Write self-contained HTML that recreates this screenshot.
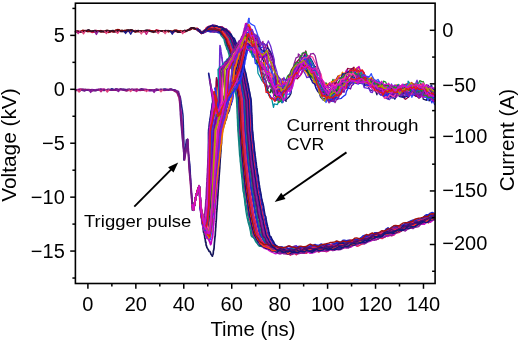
<!DOCTYPE html>
<html><head><meta charset="utf-8"><style>
html,body{margin:0;padding:0;background:#fff;}
svg{display:block;}
.t{font-family:"Liberation Sans",Arial,sans-serif;font-size:20px;fill:#000;}
.a{font-family:"Liberation Sans",Arial,sans-serif;font-size:16.2px;fill:#000;}
</style></head><body>
<svg width="520" height="341" viewBox="0 0 520 341">
<rect width="520" height="341" fill="#fff"/>
<g>
<g fill="none" stroke-linejoin="round" stroke-linecap="round">
<path d="M75.5 90.2L77 90 78.5 89.2 80 89.2 81.5 89.6 83 89.8 84.5 90.4 86 90.2 87.5 90 89 90.4 90.5 89.8 92 89.4 93.5 89.8 95 90 96.5 89.4 98 89.6 99.5 89.4 101 89.1 102.5 89.2 104 89.2 105.5 89.6 107 90 108.5 89.5 110 89.4 111.5 89.9 113 90.1 114.5 90 116 89.8 117.5 90.4 119 90 120.5 89.3 122 89.7 123.5 89.5 125 89.5 126.5 89.7 128 89.8 129.5 89.9 131 89.6 132.5 89.3 134 90.5 135.5 90.6 137 90.4 138.5 90.4 140 89.9 141.5 89.9 143 89.9 144.5 89.3 146 89.2 147.5 90.2 149 90.9 150.5 90.7 152 90.2 153.5 90.2 155 90.6 156.5 90.5 158 90.1 159.5 90.3 161 90 162.5 90 164 90.5 165.5 90.3 167 89.1 168 89.6 169.2 90.1 170.4 90.1 171.6 89.6 172.8 89.9 174 90.2 175.2 90 176.1 90.6 177 91.9 177.6 92.8 178.1 93.9 178.7 95.1 179.2 96.2 179.7 96.8 179.8 98 179.9 99.6 180.1 100.7 180.2 102.1 180.3 103.3 180.4 104.1 180.6 105.3 180.7 106.7 180.8 108 180.9 109.5 181.1 110.7 181.2 111.3 181.3 112.7 181.4 114.5 181.5 115.5 181.6 116.7 181.7 118 181.8 119 181.9 120.4 182 122 182.1 123 182.2 124 182.2 125.1 182.3 126.6 182.4 127.9 182.5 128.8 182.6 129.6 182.7 130.7 182.8 132.3 182.9 133.7 182.9 134.8 183 135.7 183.1 137 183.2 138.4 183.3 139.7 183.4 141 183.4 141.6 183.5 142.7 183.5 144.7 183.6 145.8 183.6 146.7 183.7 147.8 183.7 148.9 183.8 150.5 183.8 151.8 183.9 153 184 154.5 184 155.4 184.1 155.9 184.1 157.5 184.2 159 184.2 159.4 184.5 158.1 184.7 157.2 184.9 156.1 185.1 155 185.3 153.6 185.5 152.3 185.7 151.5 185.9 150.5 186.1 148.9 186.3 148.1 186.5 147.2 186.7 145.7 186.9 144.5 187.1 143.5 187.3 142.6 187.6 141 187.8 139.5 187.9 140.2 188 141.5 188 142.4 188.1 143.3 188.2 144.2 188.2 145.9 188.3 147.6 188.4 148.3 188.5 149.1 188.5 150.4 188.6 151.6 188.7 152.9 188.7 154.1 188.8 155 188.9 156.5 189 157.8 189 159.2 189.1 160.6 189.2 161.7 189.2 163.2 189.3 163.9 189.4 164.5 189.5 166.2 189.6 167.8 189.7 168.6 189.8 169.8 189.9 171 190 171.8 190.1 172.9 190.2 175 190.3 176.3 190.4 177.1 190.5 178.8 190.6 180.2 190.7 181.1 190.8 182.1 190.9 183.7 191 184.9 191.1 185.7 191.2 186.6 191.3 187.8 191.4 189.1 191.4 190.4 191.5 191.8 191.6 192.8 191.7 193.9 191.8 195.5 191.9 196.9 192 198.5 192.1 199.2 192.2 199.9 192.3 201.6 192.4 203.2 192.5 204.4 192.6 205.3 192.6 206.1 192.6 207.4 192.7 209 192.7 210" stroke="#c020c0" stroke-width="1.5"/>
<path d="M75.5 89.5L77 90 78.5 91 80 90.9 81.5 89.7 83 89.2 84.5 89.6 86 89.6 87.5 90 89 89.8 90.5 90 92 90.7 93.5 90.3 95 90.7 96.5 90.4 98 89.6 99.5 89.4 101 89.3 102.5 90.2 104 90.5 105.5 90.2 107 89.6 108.5 89.9 110 89.9 111.5 88.8 113 89.1 114.5 89.9 116 90.3 117.5 90.4 119 89.7 120.5 89.1 122 89.2 123.5 89.3 125 89.5 126.5 89.8 128 89.9 129.5 90 131 89.6 132.5 89.5 134 89.7 135.5 90 137 90 138.5 89.8 140 90 141.5 90.1 143 90.1 144.5 89.9 146 90.1 147.5 90.1 149 89.8 150.5 90.1 152 90.4 153.5 90.4 155 90 156.5 89.7 158 90.1 159.5 90.1 161 90 162.5 89.6 164 89 165.5 89.1 167 89.6 168.2 90.2 169.4 89.5 170.6 88.9 171.8 89.3 173.1 89.7 174.3 89.8 175.2 91 176.1 91.9 177 92.6 177.7 92.9 178.4 93.9 179.1 95.5 179.8 96.6 180.4 97.7 180.5 98.7 180.7 99.6 180.9 100.5 181.1 101.9 181.3 103.9 181.5 104.8 181.6 105.6 181.8 107.1 182 108 182.2 109.3 182.4 110.3 182.5 111.5 182.7 113 182.9 114.2 183 115.4 183.1 116.5 183.1 117.8 183.2 119.5 183.2 120.6 183.2 121.3 183.3 122.4 183.3 123.8 183.4 125.4 183.4 126.4 183.4 127.4 183.5 128.6 183.5 130.1 183.6 131.2 183.6 132.1 183.6 133.4 183.7 134.6 183.7 136.1 183.8 137.2 183.8 138.4 183.8 139.5 183.9 140.6 183.9 142 183.9 143.1 183.9 144.8 183.8 146 183.8 146.8 183.8 148 183.8 149.5 183.8 151 183.8 152.2 183.8 153.1 183.8 153.7 183.8 155.2 183.8 156.6 183.8 157.6 183.8 159.3 183.9 160.1 184 158.2 184.2 157.3 184.3 156.2 184.5 154.7 184.6 153.6 184.8 152 184.9 151 185.1 150 185.2 148.9 185.4 147.8 185.5 147 185.7 145.8 185.8 144 186 143.1 186.1 142 186.3 140.6 186.4 139.8 186.6 140.1 186.8 140.8 186.9 142.1 187.1 143.6 187.2 144.6 187.4 145.6 187.5 146.8 187.7 147.8 187.9 149.5 188 150.9 188.2 152.1 188.3 153.1 188.5 154.2 188.6 156 188.8 157 189 157.7 189.1 159 189.3 159.8 189.4 160.9 189.6 162.5 189.8 164 189.9 165.6 190 166.4 190 167.6 190.1 169.3 190.2 170 190.2 171.3 190.3 172.4 190.3 173.7 190.4 174.7 190.5 175.6 190.5 177.5 190.6 178.4 190.7 179.2 190.7 181.1 190.8 182.4 190.9 183.3 190.9 184.8 191 185.8 191 186.2 191.1 188 191.2 189.7 191.2 190.6 191.3 192.3 191.4 193.3 191.4 194.3 191.5 195.6 191.6 196.7 191.6 197.6 191.7 198.5 191.8 200.1 191.8 202 191.9 203.6 191.9 204 192 204.7 192.1 206.3 192.2 207.7 192.2 208.7 192.3 210.1" stroke="#20208a" stroke-width="1.5"/>
<path d="M75.5 90.7L77 90.3 78.5 90 80 89.3 81.5 89.1 83 89.5 84.5 89.4 86 89.4 87.5 89.5 89 89.4 90.5 89.9 92 90.7 93.5 90.4 95 90.5 96.5 90.4 98 89.6 99.5 89.5 101 89.4 102.5 89.5 104 89.3 105.5 89.8 107 90.2 108.5 89.7 110 89.9 111.5 89.9 113 90.2 114.5 90 116 89.8 117.5 90.4 119 89.5 120.5 89.1 122 89.7 123.5 89.6 125 90.5 126.5 91.1 128 90.5 129.5 90 131 89.6 132.5 89.4 134 89.6 135.5 89.5 137 89 138.5 89.8 140 90.6 141.5 90.2 143 89.9 144.5 90.5 146 90.1 147.5 89.6 149 90.1 150.5 90 152 90 153.5 90.4 155 89.8 156.5 89.2 158 89.7 159.5 89.8 161 89.5 162.5 89.6 164 90 165.5 90.4 167 89.9 168.2 89.4 169.4 89.3 170.6 89.2 171.8 89.7 173 90.3 174 90.8 175.1 91.5 176.2 91.7 176.8 92.7 177.4 93.7 177.9 95.2 178.4 96.6 178.9 97.3 179 98.4 179.2 99.6 179.3 100.5 179.5 101.4 179.6 102.7 179.8 104.3 179.9 105.7 180.1 106.8 180.2 108.1 180.4 109.4 180.5 110.5 180.7 111.9 180.8 113.3 181 114.4 181.1 115.2 181.2 116.4 181.3 118.1 181.4 118.8 181.5 120 181.6 121.5 181.7 122.3 181.7 123.7 181.8 125.4 181.9 126.4 182 127.7 182.1 128.8 182.2 129.8 182.3 131.5 182.4 132.7 182.4 133.8 182.5 134.3 182.6 135 182.7 136.6 182.8 138.2 182.9 139.4 183 140.6 183.1 142.1 183.2 143.2 183.3 144 183.4 145.7 183.5 147.4 183.6 148.1 183.7 149 183.8 150.4 183.9 151.6 184 152.8 184.1 154.1 184.2 155.5 184.3 156.4 184.4 157.5 184.5 159 184.6 160.1 184.8 158.7 185 157 185.2 155.8 185.4 155.1 185.5 154 185.7 152.8 185.9 151.4 186.1 150 186.3 149.3 186.5 148 186.6 146.6 186.8 145.4 187 143.7 187.2 142.8 187.4 142 187.5 140.4 187.7 139.5 187.8 139.6 187.9 140.4 187.9 142.4 188 143.6 188 144.6 188.1 146.2 188.1 147.4 188.1 148.2 188.2 150 188.2 151.6 188.3 152.1 188.3 153 188.4 154.2 188.4 155.3 188.5 156.5 188.5 158.4 188.5 160 188.6 160.9 188.6 161.6 188.7 162.9 188.7 164.2 188.8 164.9 188.9 166 189 167.3 189.1 168.8 189.2 170.1 189.3 171.1 189.4 172.6 189.5 173.6 189.6 174.7 189.7 176.2 189.8 176.9 189.9 178 190 179.7 190.1 180.5 190.2 181.8 190.3 183.6 190.4 184.5 190.5 185.3 190.6 186.7 190.7 188.5 190.8 190 190.9 191 191 191.9 191.1 193.4 191.2 194.5 191.3 195.2 191.4 196.7 191.5 198.1 191.6 199.1 191.7 200.3 191.8 201.6 191.9 202.6 192 203.7 192.1 205.3 192.2 206.4 192.4 207.4 192.5 208.8 192.6 210.1" stroke="#9a1070" stroke-width="1.5"/>
<path d="M75.5 89.6L77 89.9 78.5 90 80 89.9 81.5 90.3 83 90.5 84.5 91.1 86 90 87.5 89.9 89 90.6 90.5 90.1 92 89.7 93.5 89.8 95 90.3 96.5 89.9 98 89.8 99.5 90 101 89.8 102.5 89.9 104 90 105.5 89.7 107 89.6 108.5 89.3 110 89.7 111.5 90.3 113 89.7 114.5 89.4 116 88.7 117.5 88.9 119 89.8 120.5 89.5 122 89.5 123.5 90.2 125 90.1 126.5 89.6 128 89.3 129.5 89.1 131 90.1 132.5 90.1 134 89.4 135.5 89.4 137 89.9 138.5 89.8 140 89.3 141.5 88.7 143 89 144.5 89.6 146 89.7 147.5 90 149 90.1 150.5 90.5 152 90.5 153.5 90.3 155 90 156.5 89.2 158 89.4 159.5 89.4 161 89.2 162.5 89.6 164 89.9 165.5 89.6 167 89.9 168.2 89.7 169.4 89.7 170.6 89.7 171.8 89.5 173 89.9 174.2 90.1 175.4 90.1 176.4 90.6 177.5 91 178.6 91.7 178.9 93.3 179.3 94.5 179.7 95.5 180 96.7 180.2 98.1 180.2 99.2 180.2 100.3 180.2 101.4 180.2 102.4 180.2 103.6 180.2 105.2 180.2 106.6 180.2 107.6 180.2 108.6 180.2 109.4 180.2 110.5 180.3 112.2 180.3 113.5 180.3 114.2 180.4 115.3 180.5 116.5 180.6 117.7 180.7 119.3 180.8 120.8 180.9 121.9 181 123.6 181.1 125.1 181.2 126 181.3 126.7 181.4 127.6 181.5 128.8 181.6 130.1 181.7 131.2 181.8 132.7 181.9 133.8 182 135.1 182.1 136.7 182.2 138 182.3 139 182.5 140.2 182.6 141.4 182.7 141.8 182.8 143 182.9 145 183 146.3 183.2 147.6 183.3 148.7 183.4 149.9 183.5 151.3 183.6 152.1 183.8 152.8 183.9 154.2 184 155.9 184.1 156.6 184.2 157.9 184.3 159.3 184.5 159.1 184.7 157.5 184.9 156.7 185 156.2 185.2 155.1 185.4 153.3 185.6 152.2 185.8 151.6 186 149.9 186.2 148.2 186.3 147.7 186.5 146.7 186.7 145.1 186.9 143.9 187.1 142.8 187.3 141.6 187.5 140.5 187.6 138.9 187.7 139.5 187.8 140.9 187.8 142.7 187.9 143.8 188 144.9 188 146.3 188.1 147.5 188.2 148.4 188.2 149.5 188.3 150.8 188.4 152.4 188.4 153.5 188.5 154.5 188.6 155.9 188.6 156.7 188.7 157.9 188.8 159.5 188.8 160.8 188.9 161.7 188.9 162.6 189 163.9 189.1 165 189.2 166.5 189.3 168 189.4 169.4 189.5 170.4 189.6 171.6 189.7 173.1 189.8 173.9 190 174.9 190.1 176.4 190.2 177.5 190.3 178.6 190.4 180.1 190.5 181 190.6 182 190.7 183.2 190.8 184.6 190.9 186.2 191 187.7 191.1 188.3 191.2 188.9 191.4 190.7 191.5 192.4 191.6 193.3 191.7 194.1 191.8 195.1 191.9 196.5 192 197.8 192.1 199.1 192.2 200.4 192.3 201.4 192.4 203.1 192.5 204.6 192.7 205.2 193 206.4 193.3 207.8 193.6 208.5 193.9 209.7" stroke="#6a1a8a" stroke-width="1.5"/>
<path d="M75.5 31.4L77 31.6 78.5 31.5 80 32.1 81.5 31.7 83 31.2 84.5 31.2 86 30.4 87.5 30.7 89 31.1 90.5 31.3 92 32.4 93.5 32.2 95 30.6 96.5 30.4 98 31.1 99.5 30.8 101 30.5 102.5 31.5 104 31.8 105.5 31.4 107 31.1 108.5 30.9 110 31.5 111.5 31.4 113 31.7 114.5 31.9 116 31.4 117.5 31.7 119 30.8 120.5 31 122 31.5 123.5 30.9 125 30.8 126.5 30.9 128 31.6 129.5 30.9 131 31.1 132.5 31.6 134 31 135.5 30.5 137 31 138.5 31.4 140 30.7 141.5 30.9 143 31.5 144.5 31.7 146 31.7 147.5 30.9 149 30.1 150.5 30.4 152 31.5 153.5 31.6 155 30.8 156.5 30 158 30.3 159.5 30.8 161 30.7 162.5 31.6 164 31.3 165.5 30.6 167 31.3 168.5 31.4 170 30.9 171.5 31.6 173 32.6 174.5 31.9 176 31.1 177.5 30.4 179 30.9 180.5 32.1 182 31.9 183.5 32 185 32.1 186 31 187.2 30.4 188.3 29.9 189.5 29 190.7 28 191.9 27.7 193.2 28.2 194.5 28.6 195.9 29.4 197.2 29.4" stroke="#e02060" stroke-width="1.5"/>
<path d="M75.5 31.9L77 31.5 78.5 31.7 80 31.9 81.5 31.2 83 31.5 84.5 30.6 86 30.7 87.5 31.4 89 31.3 90.5 31.3 92 30.9 93.5 31.3 95 31.4 96.5 31.4 98 30.9 99.5 30.9 101 30.8 102.5 31.1 104 31.8 105.5 30.8 107 30.3 108.5 30.6 110 30.7 111.5 31.4 113 31.9 114.5 31.8 116 31.6 117.5 31.3 119 31.4 120.5 30.8 122 30.3 123.5 30.7 125 30.6 126.5 30.1 128 30 129.5 30.2 131 29.8 132.5 30 134 31.4 135.5 31.8 137 31.3 138.5 31.4 140 31.3 141.5 30.9 143 31.1 144.5 31.3 146 30.8 147.5 30.6 149 31.1 150.5 31.2 152 31.5 153.5 32.4 155 31.7 156.5 31 158 31.1 159.5 31.3 161 31.2 162.5 30.9 164 31.8 165.5 31.3 167 30.8 168.5 30.8 170 30.8 171.5 31.6 173 31 174.5 30.3 176 31.3 177.5 32.2 179 32.1 180.5 32.2 182 31.6 183.5 31.1 185 31.1 186.4 30.9 187.6 30.1 188.9 29.8 190.1 29.9 191.4 29.1 192.6 27.8 193.9 27.8 195.3 28.4 196.6 28.7 197.9 28.8" stroke="#5a1010" stroke-width="1.5"/>
<path d="M75.5 31.6L77 31.2 78.5 31.1 80 31.5 81.5 31 83 30.2 84.5 30.9 86 31.3 87.5 31.5 89 31.5 90.5 31.4 92 31.4 93.5 31.2 95 31.9 96.5 32 98 31.3 99.5 31.2 101 32 102.5 31.7 104 31.2 105.5 31.7 107 31.7 108.5 32.4 110 32.1 111.5 31.1 113 31.3 114.5 30.9 116 30 117.5 29.6 119 29.7 120.5 30.9 122 31.1 123.5 30.7 125 30.4 126.5 30.5 128 31.3 129.5 30.7 131 30.8 132.5 30.8 134 31.1 135.5 32.1 137 31.4 138.5 31.6 140 31.7 141.5 31.2 143 31.4 144.5 31.3 146 30.6 147.5 30.5 149 31.1 150.5 30.7 152 30.7 153.5 31.4 155 31 156.5 30.2 158 30.9 159.5 31.3 161 30.7 162.5 30.7 164 31.1 165.5 31.1 167 31.1 168.5 31.9 170 31.4 171.5 31.1 173 31.6 174.5 30.5 176 30 177.5 30.9 179 31.1 180.5 30.6 182 31.2 183.5 31.8 185 31.5 186.3 30.6 187.6 30.5 188.9 29.9 190.2 29.4 191.5 28.6 192.8 28.2 194.2 29.1 195.5 29.2 196.9 29" stroke="#8b0000" stroke-width="1.5"/>
<path d="M75.5 32.1L77 31.1 78.5 31.7 80 31.9 81.5 31.8 83 31.7 84.5 31.2 86 31.3 87.5 30.1 89 29.8 90.5 31.1 92 31.2 93.5 30.7 95 30.5 96.5 31.1 98 31.5 99.5 31.4 101 31.4 102.5 31.4 104 31.2 105.5 31.5 107 31 108.5 30.8 110 31.6 111.5 30.8 113 30.4 114.5 31.6 116 31.5 117.5 30.4 119 30.8 120.5 31.5 122 31.4 123.5 31.4 125 31.8 126.5 31.3 128 30.1 129.5 30.2 131 30.1 132.5 30.5 134 31.4 135.5 31.2 137 30.7 138.5 30.5 140 30.9 141.5 31.4 143 31.4 144.5 30.7 146 30.2 147.5 30.2 149 30.4 150.5 31.5 152 31.7 153.5 31.1 155 31.6 156.5 31.8 158 31.2 159.5 30.7 161 31 162.5 31.3 164 30.9 165.5 30.4 167 30.7 168.5 30.6 170 31.2 171.5 32 173 31.8 174.5 31 176 30.7 177.5 31.5 179 32.2 180.5 31.7 182 31.4 183.5 31 185 30.2 186.2 31.4 187.5 30.7 188.7 29.6 190 28.7 191.2 27.8 192.5 27.7 193.9 28.5 195.2 28.5 196.6 28.8" stroke="#30102a" stroke-width="1.5"/>
<path d="M76.6 31.4L78.2 33.6 79.8 31.4" stroke="#c02080" stroke-width="1.4"/>
<path d="M81.9 31.4L83.5 33.8 85.1 31.4" stroke="#e0407a" stroke-width="1.4"/>
<path d="M94.8 31.4L96.4 34.5 98.0 31.4" stroke="#8a1a9a" stroke-width="1.4"/>
<path d="M104.8 31.4L106.4 33.5 108.0 31.4" stroke="#e0407a" stroke-width="1.4"/>
<path d="M116.0 31.4L117.6 33.3 119.2 31.4" stroke="#e0407a" stroke-width="1.4"/>
<path d="M124.0 31.4L125.6 33.4 127.2 31.4" stroke="#1a1a8c" stroke-width="1.4"/>
<path d="M129.1 31.4L130.7 34.2 132.3 31.4" stroke="#1a1a8c" stroke-width="1.4"/>
<path d="M139.7 31.4L141.3 34.0 142.9 31.4" stroke="#e05080" stroke-width="1.4"/>
<path d="M144.8 31.4L146.4 34.3 148.0 31.4" stroke="#c02080" stroke-width="1.4"/>
<path d="M156.5 31.4L158.1 33.4 159.7 31.4" stroke="#e0407a" stroke-width="1.4"/>
<path d="M163.5 31.4L165.1 33.7 166.7 31.4" stroke="#e05080" stroke-width="1.4"/>
<path d="M170.7 31.4L172.3 34.2 173.9 31.4" stroke="#1a1a8c" stroke-width="1.4"/>
<path d="M181.1 31.4L182.7 33.7 184.3 31.4" stroke="#e0407a" stroke-width="1.4"/>
<path d="M77.5 90.0L79.1 92.0 80.7 90.0" stroke="#e0407a" stroke-width="1.4"/>
<path d="M89.1 90.0L90.7 92.4 92.3 90.0" stroke="#8a1a9a" stroke-width="1.4"/>
<path d="M99.4 90.0L101.0 91.7 102.6 90.0" stroke="#c02080" stroke-width="1.4"/>
<path d="M105.7 90.0L107.3 92.0 108.9 90.0" stroke="#e0407a" stroke-width="1.4"/>
<path d="M116.8 90.0L118.4 91.6 120.0 90.0" stroke="#8a1a9a" stroke-width="1.4"/>
<path d="M129.0 90.0L130.6 91.5 132.2 90.0" stroke="#e05080" stroke-width="1.4"/>
<path d="M134.9 90.0L136.5 91.4 138.1 90.0" stroke="#c02080" stroke-width="1.4"/>
<path d="M144.9 90.0L146.5 91.5 148.1 90.0" stroke="#e0407a" stroke-width="1.4"/>
<path d="M152.5 90.0L154.1 92.4 155.7 90.0" stroke="#8a1a9a" stroke-width="1.4"/>
<path d="M159.4 90.0L161.0 91.8 162.6 90.0" stroke="#e05080" stroke-width="1.4"/>
<path d="M197 28.6L198.1 29.5 199.2 30.2 200.3 31.5 201.4 33.6 202.6 33.2 203.9 32.5 205.1 32.1 206.4 31.3 207.8 31.4 209.2 31.3 210.6 31.1 212 31.1 213.4 31.2 214.8 31.1 216.2 31.3 217.6 31.4 218.9 31.8 220.2 32.8 221 33.9 221.9 34.1 222.7 35.5 223.5 37.1 224.3 37.5 225 39.5 225.5 40.9 225.9 41.9 226.4 44.5 226.9 45.6 227.4 46.4 227.8 47.3 228.3 48.5 228.8 49.5 229.3 52.1 229.7 54.5 230.2 54.7 230.6 56 230.9 57.3 231.1 57.9 231.4 59.3 231.6 61 231.9 62.7 232.1 64.1 232.4 64.5 232.7 66.5 232.9 68.5 233.2 69.4 233.4 70.9 233.7 71.8 233.9 73.3 234.2 75.3 234.5 76.1 234.7 76.8 235 79.1 235.2 81.1 235.4 81.7 235.6 82.8 235.9 84.6 236.1 86 236.3 87.5 236.5 88.9 236.7 90.4 236.9 91.1 237.2 91.9 237.4 94.8 237.6 96.1 237.8 97.3 238 98.8 238.2 100.3 238.3 102.3 238.3 103.1 238.4 104.4 238.5 106.1 238.5 107.6 238.6 109.5 238.7 109.7 238.7 111 238.8 113.4 238.8 114.6 238.9 115.7 239 117.4 239 118.4 239.1 119.8 239.1 122.3 239.2 123.2 239.3 124.5 239.3 126.1 239.4 127.1 239.5 127.9 239.5 129.2 239.6 131.6 239.7 133.8 239.8 134.9 239.9 136 240.1 137.5 240.2 139.1 240.3 139.8 240.4 140.2 240.5 142.4 240.6 144.6 240.7 145.4 240.8 146.4 240.9 148.5 241 150.9 241.1 152.5 241.2 152.9 241.4 154 241.5 155.5 241.6 157.1 241.7 159 241.8 160 241.9 161.2 242.1 162.2 242.2 163.6 242.4 164.7 242.5 165.7 242.7 168.4 242.8 170.2 243 170.5 243.1 171.1 243.3 173.8 243.4 176 243.6 176.6 243.7 178.3 243.9 179.4 244 179.9 244.2 181.5 244.3 182.8 244.5 184.1 244.6 186.4 244.8 187.7 244.9 189 245.1 190.6 245.3 192 245.5 193 245.7 194.3 245.9 195.5 246.1 196.9 246.3 198.7 246.5 199.9 246.7 201.6 246.9 202.7 247.1 203.4 247.3 205.2 247.5 207.8 247.7 209.1 247.9 209.7 248.1 211.3 248.4 213.2 248.6 214.8 248.8 215.9 249.1 216.9 249.4 218 249.7 219.2 250.1 221.5 250.4 222.9 250.7 224.3 251 225.4 251.3 226.5 251.6 228.4 251.9 230 252.2 230.9 252.5 231.4 252.8 233.2 253.2 235 253.9 236.4 254.8 237.2 255.6 237.5 256.4 239.2 257.2 241 258 242.1 258.9 243 259.7 244.1 260.8 245.3 262.1 245.5 263.5 245.7 264.8 246.5 266.1 246.8 267.4 246.9 268.7 247.1 270.1 248.2 271.4 249.4 272.8 248.5 274.2 248.6 275.6 249.5 277 249.5 278.4 250.4 279.8 250.3 281.2 249.9 282.6 249.8 284.1 250 285.5 250.5 287.5 248.8 289.5 248.6 291.6 249.3 293.6 249 295.7 248.9 297.7 249.2 299.7 248.8 301.8 249.8 303.8 249 305.9 249.1 307.9 249.6 309.9 248.5 312 249.2 314 249.5 316 248.4 318.1 247.7 320.1 247.2 322.1 247.4 324.2 247.6 326.2 246.9 328.3 247 330.3 247.1 332.3 247 334.4 246.6 336.4 246.5 338.4 247 340.4 246.3 342.4 245.3 344.4 244.4 346.4 244 348.4 242.5 350.4 242.2 352.4 242 354.4 241.5 356.4 242.7 358.4 242.5 360.4 240.4 362.3 238.4 364.3 238.4 366.2 238.8 368.2 238 370.1 237.4 372.1 237.3 374 236.2 376 236.7 378 236.3 379.9 234.6 381.9 233.8 383.8 233.6 385.8 233.2 387.7 232.5 389.6 231.7 391.6 230.2 393.5 229.6 395.5 229.2 397.4 227.8 399.4 227 401.3 227 403.3 227.3 405.2 227.6 407.1 226.4 409.1 224.2 411 223.4 412.9 224.2 414.9 223.6 416.8 222.2 418.7 221.7 420.6 221.5 422.6 220.2 424.5 218 426.4 217.5 428.3 217 430.2 215.5 432.2 215.5 434.1 215.8" stroke="#e01818" stroke-width="1.4"/>
<path d="M197 29.6L198.1 29.8 199.2 30.3 200.3 31.3 201.4 32.5 202.5 33 203.6 32.8 204.8 31.6 205.9 29.8 207 29.3 208.4 29.4 209.8 29.1 211.2 28.9 212.6 28.9 214 29.1 215.4 29.4 216.8 29.2 218.2 29 219.6 29.7 221 29.5 222.4 29.4 223.8 30.2 225.1 30.4 226.4 29.9 227.8 30.4 228.7 32 229.5 33.8 230.4 34.6 231.3 35.4 232.1 37 233 38.1 233.7 39.4 234.2 40.2 234.8 41.3 235.3 43 235.9 44.3 236.5 45.2 237 46.7 237.6 47.4 238.1 49.1 238.7 51.2 239.3 52.1 239.8 53.3 240.4 54.3 240.8 56.2 241.1 57.9 241.3 58.3 241.6 59.5 241.9 61.5 242.2 62.6 242.5 64 242.8 65 243.1 66.6 243.4 69.3 243.7 70.8 244 71.4 244.3 72.6 244.6 73.3 244.9 73.7 245.2 76.5 245.5 79.1 245.8 80 246.1 81.6 246.4 82.4 246.6 83.2 246.9 85.2 247.2 87.4 247.4 88.4 247.7 88.9 248 90.4 248.2 92.5 248.5 93.5 248.8 94.5 249 96.4 249.3 96.9 249.6 97.8 249.8 100 249.9 101.3 250 102.5 250 104 250.1 105.2 250.1 106.8 250.2 108.6 250.3 110 250.3 111.1 250.4 112.8 250.4 114.6 250.5 115.3 250.6 116 250.6 118.1 250.7 120 250.8 122.2 250.8 123 250.9 124 250.9 126.1 251 127.4 251.1 128.6 251.1 129.8 251.2 131.7 251.4 132.6 251.5 133.6 251.7 136.4 251.8 137 252 137.6 252.1 139.7 252.3 140.7 252.4 141.7 252.5 143.2 252.7 144.9 252.8 146.8 253 148.2 253.1 148.7 253.3 149.6 253.4 151.8 253.6 154.2 253.7 155.8 253.8 157 254 158.3 254.1 159.6 254.3 160.8 254.5 162.1 254.7 163.2 254.9 165 255.1 166.3 255.3 167.1 255.5 168.8 255.7 169.7 255.9 170.8 256.1 173.1 256.3 175.4 256.5 176.3 256.7 176.9 256.9 178.8 257.1 181 257.3 181.5 257.5 183 257.7 184.6 257.9 185 258.1 186.9 258.3 187.6 258.5 188.7 258.8 191.2 259 192.7 259.3 193.8 259.6 195.1 259.8 197.1 260.1 198.9 260.4 200 260.6 201 260.9 201.8 261.2 202.9 261.5 204.8 261.7 206 262 207.8 262.3 209.3 262.5 209.8 262.8 211.1 263.1 213.3 263.3 215.4 263.6 216.9 263.9 218 264.2 218.9 264.5 219.8 264.9 221 265.2 222.4 265.5 224.1 265.8 226 266.1 227.2 266.4 228.3 266.7 229.8 267 231.8 267.3 233.1 267.6 233.8 268 234.5 268.7 235.9 269.4 238.2 270.1 239.2 270.8 239.5 271.5 240.4 272.2 242.1 273 244 274 244.6 275.2 244.8 276.4 246.3 277.6 247.3 278.8 247.5 280.2 248 281.6 248.4 283 248.4 284.4 248.3 285.8 248.6 287.2 249.3 288.6 250.5 290.6 251.3 292.5 250.6 294.5 249.3 296.5 249.8 298.5 249.8 300.5 248.6 302.6 247.3 304.6 247.8 306.6 248.4 308.6 248.4 310.7 248 312.7 247.1 314.7 247.2 316.7 246.7 318.8 247.1 320.8 246.6 322.8 246.9 324.8 247.9 326.9 246.2 328.9 245.3 330.9 246.5 332.9 245.8 335 245.8 337 245.5 338.9 244.2 340.9 243.8 342.9 243.2 344.9 242.7 346.9 242.7 348.9 242.9 350.9 242.2 352.9 241.2 354.9 240.7 356.9 241.4 358.8 240.9 360.8 239.7 362.8 238.6 364.7 237.4 366.6 238.3 368.6 238.4 370.5 236.6 372.5 235.9 374.4 235.1 376.3 234 378.3 233.4 380.2 233.6 382.2 233.9 384.1 231.8 386 229 388 227.8 389.9 229.2 391.8 230.6 393.8 230 395.7 228.4 397.6 227.2 399.6 227.3 401.5 226.9 403.4 226 405.4 226.1 407.3 225.7 409.2 224.8 411.2 224.2 413.1 222.6 415 221.6 416.9 220.9 418.8 219.8 420.7 219.1 422.6 218.2 424.5 217.8 426.4 217.2 428.4 216.4 430.3 216.5 432.2 215.4 434.1 214.4" stroke="#2020c0" stroke-width="1.4"/>
<path d="M197 29.2L198.1 29.9 199.2 30 200.3 31.5 201.4 32.5 202.5 32 203.6 32 204.8 31.9 205.9 30.5 207 29 208.4 29.2 209.8 29.5 211.2 28.8 212.6 28.9 214 29.6 215.4 29.7 216.8 29.9 218.2 30.2 219.6 30.6 220.9 30.4 222.1 31 223.4 31.8 224.3 31.5 225.1 32.7 225.9 34.6 226.7 35.7 227.6 37 228.4 37.8 228.9 38.9 229.4 40.2 229.9 41.7 230.4 43.3 230.9 44.6 231.4 46 231.9 47 232.4 48.5 232.9 50.4 233.4 51.5 233.9 52.7 234.4 55.1 234.9 56.3 235.2 56.9 235.5 58 235.7 59.7 236 61.4 236.3 62.6 236.6 63.6 236.8 64.9 237.1 66.3 237.4 67.4 237.7 68.9 237.9 70.4 238.2 71.9 238.5 72.8 238.8 74.2 239 76.2 239.3 77.1 239.6 78.7 239.9 80.2 240.1 81.1 240.3 82.6 240.6 84 240.8 85.6 241.1 87 241.3 87.9 241.5 90 241.8 91.8 242 92.7 242.2 94 242.5 95.1 242.7 96.4 243 97.7 243.2 99.2 243.4 100.4 243.4 101.7 243.5 103.8 243.5 104.9 243.6 105.5 243.7 107.3 243.7 109 243.8 110.5 243.8 112.3 243.9 113.9 244 114.9 244 115.4 244.1 117.2 244.1 119.3 244.2 120.6 244.3 122.5 244.3 124 244.4 125.2 244.5 126.1 244.5 127.5 244.6 129.4 244.6 130.8 244.8 131.3 244.9 133 245 134.4 245.1 135.2 245.3 136.7 245.4 138.6 245.5 140.1 245.6 141.2 245.8 143.3 245.9 145.2 246 145.6 246.1 146.5 246.3 148.1 246.4 149.7 246.5 150.9 246.6 152.1 246.8 153.8 246.9 156 247 157.5 247.1 158.8 247.3 160.7 247.4 161.9 247.6 163.1 247.8 164.6 247.9 166.1 248.1 167.1 248.3 167.3 248.4 168.2 248.6 170.8 248.8 171.9 249 173.1 249.1 175 249.3 175.8 249.5 177.7 249.6 179.9 249.8 181.4 250 182.5 250.2 183.2 250.3 184.4 250.5 186.6 250.7 187.9 250.8 189.2 251 190.3 251.3 191.3 251.5 193.5 251.7 195.1 252 195.4 252.2 196.5 252.4 197.9 252.7 199.8 252.9 201.6 253.1 202.2 253.4 204.2 253.6 206 253.8 206.3 254.1 207.7 254.3 210.1 254.5 212.2 254.8 212.5 255 213.4 255.3 215.9 255.6 217.6 255.9 218.5 256.2 219.6 256.5 221.2 256.8 223.1 257.1 223.9 257.4 224.8 257.7 226.6 258 227.9 258.3 229.4 258.7 231.2 259 232.3 259.3 233.2 259.6 234.8 260.3 236.4 261.1 237.3 261.9 237.3 262.8 238.8 263.6 241 264.4 241.8 265.2 242.8 266.2 244.3 267.5 245.2 268.9 244.5 270.2 244.1 271.6 245.5 272.9 246 274.2 246.5 275.6 246.7 277 246.3 278.4 246.8 279.8 247.1 281.2 246.8 282.6 247.2 284 248.3 285.4 247.8 286.8 247 288.8 245.9 290.9 247 292.9 247 294.9 246.9 297 246.8 299 247.1 301 247.1 303 247.1 305 247 307.1 246.6 309.1 247 311.1 246.9 313.1 245.4 315.1 244.4 317.2 245.3 319.2 245.1 321.2 243.9 323.2 245.3 325.2 245.6 327.2 245 329.3 244.8 331.3 244.5 333.3 244.4 335.3 243.2 337.3 242.5 339.3 242.5 341.3 241.8 343.2 240.1 345.2 240.3 347.2 241.7 349.2 241.9 351.2 240.6 353.2 239.6 355.1 239.4 357.1 239.3 359.1 238.9 361.1 237.7 363 235.8 364.9 235.2 366.9 235.9 368.8 235.5 370.7 235.4 372.7 234.8 374.6 232.9 376.5 233.3 378.5 234.1 380.4 232.3 382.4 232.5 384.3 232.2 386.2 230 388.1 229.3 390.1 228.7 392 226.9 393.9 227 395.8 227.4 397.8 226.6 399.7 225.6 401.6 225.3 403.6 224.5 405.5 223.6 407.4 223.3 409.3 221.6 411.2 220.6 413.2 220 415.1 219.9 417 220.5 418.9 219.8 420.8 219.1 422.7 218.4 424.6 215.8 426.5 214.7 428.4 215 430.3 213.1 432.2 212.5 434.1 213.1" stroke="#1a2ad8" stroke-width="1.4"/>
<path d="M197 28.9L198.1 30 199.2 31.5 200.3 31.7 201.4 32.8 202.5 33 203.4 31.7 204.4 30.6 205.4 29.8 206.4 28.9 207.5 28.5 208.8 28.1 210.1 27 211.4 26 212.7 25.5 214.1 25.5 215.5 26.2 216.8 26.5 217.9 27.4 218.8 28.7 219.7 30.2 220.4 31.3 221.2 31.6 221.9 32.9 222.6 34.5 223.4 36.1 224.1 37.3 224.6 38.2 225 39.5 225.4 41 225.8 42.6 226.3 44 226.7 44.9 227.1 46.8 227.5 47.9 228 48.5 228.4 50.2 228.8 51.7 229.3 53.1 229.7 54.8 230 56.4 230.2 57.6 230.5 59.2 230.7 60.3 231 61.7 231.2 63 231.5 64.1 231.7 65.5 232 67 232.2 68.7 232.5 70.2 232.8 71.1 233 72.1 233.3 74 233.5 75.3 233.8 77.2 234 78.2 234.3 79.2 234.5 80.7 234.7 81.8 234.9 83.6 235.1 85.1 235.3 85.8 235.6 87.3 235.8 90.1 236 92.1 236.2 93 236.4 94 236.6 95.3 236.8 96.3 237.1 97.3 237.3 98.9 237.4 100.4 237.5 101.5 237.5 102.5 237.6 104.1 237.7 106.1 237.7 107.3 237.8 109 237.8 110.7 237.9 111.7 238 112.6 238 113.7 238.1 116 238.1 117.5 238.2 118.7 238.3 120.8 238.3 121.9 238.4 123 238.4 124.4 238.5 125.7 238.6 127.8 238.6 129.1 238.7 130.6 238.8 132.9 238.9 133.8 239 134.2 239.1 135.4 239.2 137 239.3 138.8 239.4 139.9 239.5 140.5 239.6 142.7 239.8 145.1 239.9 146.2 240 147.2 240.1 148.3 240.2 149.6 240.3 151.3 240.4 152.6 240.5 153.9 240.6 155.3 240.7 156.5 240.8 157.9 240.9 159.3 241.1 161.1 241.2 163.1 241.3 164.3 241.5 166.1 241.6 167.5 241.8 168.2 241.9 169.3 242.1 170.7 242.2 172.1 242.4 173.6 242.5 175 242.6 176.9 242.8 178.4 242.9 178.7 243.1 180.3 243.2 183.4 243.4 185 243.5 185.6 243.7 186.9 243.8 188.3 243.9 189.2 244.1 190.2 244.3 191.5 244.5 192.9 244.7 194.6 244.9 196.5 245.1 198.1 245.3 199 245.5 200.8 245.7 202.3 245.9 203.9 246.1 205.2 246.3 205.2 246.5 206.4 246.7 208.4 246.9 210.5 247.1 212.1 247.3 212.8 247.5 213.9 247.8 215.4 248.1 216.9 248.4 218.9 248.7 220.4 249 221.3 249.3 222.8 249.6 224.1 249.9 225 250.3 227.2 250.6 228.7 250.9 229.1 251.2 230.5 251.5 232.1 251.8 234.1 252.1 235.3 252.9 236.6 253.7 237.8 254.5 238.4 255.3 239.4 256.1 242 256.9 243 257.7 242.6 258.5 245 259.5 246.2 260.8 245.8 262.1 246 263.4 245.7 264.7 246.2 266 247.3 267.3 248.2 268.6 249 269.9 249.9 271.2 249.9 272.6 249.5 274 249.5 275.4 249.9 276.8 250.5 278.2 250.7 279.6 251 281 251.6 282.4 251.6 283.8 251.1 285.2 251.7 287.3 252.4 289.3 250.8 291.4 250.1 293.4 251.4 295.4 252.3 297.5 251.5 299.5 250.9 301.6 250.9 303.6 250.1 305.7 250.2 307.7 250.3 309.7 248.7 311.8 247.7 313.8 247.8 315.8 248.4 317.9 248.8 319.9 248.7 322 248.9 324 248.5 326 248.4 328.1 249.1 330.1 247.9 332.2 246.7 334.2 247.6 336.2 249 338.2 247.7 340.2 245.9 342.2 245 344.2 244.7 346.2 245.1 348.2 245.3 350.3 245.4 352.3 244.2 354.3 243.1 356.3 242.4 358.3 241.6 360.3 242.2 362.2 241.5 364.2 240.1 366.1 239.9 368.1 238.8 370 238.2 372 238.2 374 237.9 375.9 237 377.9 235.1 379.8 234.6 381.8 234.7 383.7 235 385.7 233.3 387.6 232.5 389.6 233.9 391.5 232.3 393.5 230.2 395.4 230 397.4 230.5 399.3 230.1 401.3 229.1 403.2 228.5 405.2 227.9 407.1 227.1 409 226.2 411 225 412.9 224.6 414.8 225.1 416.8 223.8 418.7 222.3 420.6 222 422.5 220.5 424.5 219.4 426.4 218.7 428.3 216.9 430.2 216.7 432.2 217.7 434.1 216.9" stroke="#108080" stroke-width="1.4"/>
<path d="M197 28.9L198.1 30.8 199.2 31.3 200.3 31.7 201.4 32.4 202.5 31.9 203.4 31 204.4 30.5 205.4 30.4 206.4 28.6 207.5 27 208.8 26.5 210.1 26.7 211.4 25.5 212.7 24.8 214.1 25.9 215.5 26.1 216.9 26.7 218.3 26.7 219.7 26.9 221.1 27 222.4 27.1 223.7 28.9 224.9 29.3 226.2 28.7 227.3 29.9 228.2 31.7 229 32.6 229.8 33.3 230.6 34 231.4 35.5 232.3 37.4 232.9 37.7 233.4 39 233.9 41.1 234.5 42 235 43.5 235.5 44.6 236 45.7 236.6 47.9 237.1 49.2 237.6 49.5 238.1 50.8 238.7 53.4 239.2 55.5 239.7 55.4 240 56.8 240.3 58.5 240.6 59.8 240.9 60.8 241.2 61.8 241.5 64.5 241.7 65.7 242 65.9 242.3 67.6 242.6 68.8 242.9 69.4 243.2 71.7 243.5 73.7 243.8 74.9 244.1 75.2 244.4 76.8 244.7 78.8 245 80.2 245.2 81.2 245.5 81.8 245.8 83.5 246 85.2 246.3 86.9 246.6 88.1 246.8 88.8 247.1 91 247.4 93.2 247.6 94.5 247.9 95.3 248.2 96.5 248.4 98.8 248.7 100.2 248.8 100.6 248.9 101.9 248.9 103.5 249 104.1 249.1 106.2 249.1 108.6 249.2 109.5 249.2 110.3 249.3 111.9 249.4 114.1 249.4 115.2 249.5 116 249.5 117.2 249.6 118.5 249.7 120.2 249.7 122.3 249.8 124.2 249.9 125.5 249.9 126.9 250 128.4 250 129.3 250.1 130.8 250.3 132 250.4 132.5 250.6 134.5 250.7 136.4 250.8 137.6 251 138.9 251.1 140.7 251.3 142.3 251.4 143.3 251.5 144.7 251.7 146.1 251.8 147.2 252 148.7 252.1 149.9 252.2 151.1 252.4 152.2 252.5 154.1 252.7 156 252.8 156.7 253 158.2 253.1 160.1 253.3 162.1 253.5 164.3 253.7 165.5 253.9 166.4 254.1 166.8 254.3 168.4 254.5 170.7 254.7 171.8 254.9 172.9 255.1 174 255.3 176.1 255.5 177.4 255.7 178.6 255.9 180.3 256.1 180.5 256.2 182 256.4 184.3 256.6 185.2 256.8 186.7 257 188.5 257.2 189.8 257.5 190.7 257.7 192 258 194.2 258.3 195 258.5 196 258.8 197.9 259 199.1 259.3 200.6 259.6 201.6 259.8 203.1 260.1 204.8 260.4 205.6 260.6 207.5 260.9 209 261.1 210.2 261.4 211.7 261.7 212.6 261.9 214.1 262.2 216 262.5 217.5 262.8 219.3 263.1 220.2 263.5 221.4 263.8 223.3 264.1 224.1 264.4 225.1 264.7 226.7 265 227.7 265.3 229.6 265.6 231.6 265.9 232.7 266.2 234.5 266.6 235.6 267.3 236.2 268 237.7 268.7 239.7 269.4 240.1 270.1 240.5 270.8 242 271.5 243.7 272.5 244.4 273.7 244.1 274.9 245.9 276.1 247.6 277.3 248 278.5 248.2 279.9 249.2 281.3 249.1 282.7 248.8 284.1 249.9 285.5 249.7 286.9 249.1 288.3 249.5 290.3 248.6 292.3 249.4 294.4 250.2 296.4 249.2 298.4 248.5 300.5 249 302.5 249.1 304.5 249.1 306.5 246.7 308.6 246 310.6 248.1 312.6 248.4 314.6 247.9 316.7 247.5 318.7 248.1 320.7 247.2 322.7 246.1 324.8 246.6 326.8 246.2 328.8 245.2 330.8 244.7 332.9 243.5 334.9 244.7 336.9 244.8 338.9 244.3 340.9 245.3 342.9 242.8 344.9 242.2 346.9 242.5 348.8 242.9 350.8 242.3 352.8 240.5 354.8 240.6 356.8 240.9 358.8 240.8 360.8 240.4 362.7 239.7 364.7 238.9 366.6 238.4 368.5 237.2 370.5 236.9 372.4 236.6 374.4 236.7 376.3 236.5 378.3 235.6 380.2 234.4 382.1 232.6 384.1 232.7 386 232.5 387.9 229.2 389.9 229.7 391.8 230.5 393.8 230.1 395.7 229.7 397.6 227.9 399.6 228.2 401.5 227.7 403.4 225.2 405.4 225 407.3 224.4 409.2 222.5 411.1 223.5 413.1 222.6 415 221.2 416.9 221.9 418.8 220.6 420.7 218.9 422.6 219.3 424.5 218.8 426.4 218.2 428.4 218.2 430.3 216.7 432.2 215.6 434.1 215.1" stroke="#6020c0" stroke-width="1.4"/>
<path d="M197 29L198.1 30 199.2 31.4 200.3 32 201.4 32.2 202.5 32.1 203.5 32 204.5 31.9 205.5 30.3 206.6 28.7 207.8 27.6 209.1 27.3 210.4 26.9 211.7 27 213.1 26.6 214.5 26 215.9 26.4 217.3 27 218.7 27.6 220.1 26.7 221.5 26.8 222.8 28.6 224.1 29.6 225.3 29.8 226.6 30.2 227.4 31.4 228.2 32.6 229 33.3 229.8 34.5 230.7 36.6 231.5 37.3 232.1 38 232.6 39.5 233.2 40.9 233.7 42.3 234.2 43.6 234.7 44.5 235.3 45.7 235.8 48.1 236.3 49.7 236.8 50.5 237.4 51.2 237.9 52.3 238.4 54.1 238.8 54.9 239.1 56.4 239.4 58.2 239.7 59.1 240 61.1 240.3 62.9 240.6 63.5 240.9 64.5 241.2 66.2 241.5 67.5 241.7 69 242 71.4 242.3 72.8 242.6 73.4 242.9 74.3 243.2 75.6 243.5 77.3 243.8 79 244.1 81.2 244.3 82.6 244.6 83 244.8 84.5 245.1 86.4 245.4 87.9 245.6 88.4 245.9 90.1 246.1 92.2 246.4 92.9 246.7 93.9 246.9 95.3 247.2 97 247.4 98.9 247.7 100.2 247.8 101.5 247.8 102.6 247.9 103.8 248 105.8 248 107.1 248.1 107.5 248.1 109 248.2 110.9 248.3 112.3 248.3 113.7 248.4 115.1 248.5 116.7 248.5 118.6 248.6 120 248.6 120.9 248.7 122.5 248.8 123.9 248.8 125.2 248.9 125.8 248.9 127.1 249 129.2 249.1 130.1 249.3 132.3 249.4 134.3 249.5 134.8 249.7 135.8 249.8 138.4 249.9 140.5 250.1 141.4 250.2 142.7 250.4 143.1 250.5 144.2 250.6 146.3 250.8 148 250.9 149.3 251.1 150.8 251.2 152.8 251.3 153.8 251.5 154.5 251.6 155.5 251.7 156.8 251.9 159.3 252 161.2 252.2 161.6 252.4 162.5 252.6 164.1 252.8 165.5 253 167.3 253.2 168.4 253.4 170.1 253.6 171.8 253.8 173.3 254 175.4 254.2 175.9 254.4 177 254.5 178.8 254.7 180.1 254.9 181.2 255.1 182.9 255.3 184.2 255.5 184.9 255.7 186.8 255.9 188.8 256.1 190.6 256.3 192.4 256.6 193.5 256.9 194.4 257.1 195.3 257.4 197 257.6 197.7 257.9 198.1 258.1 200.5 258.4 202.6 258.7 204.2 258.9 205 259.2 206.6 259.4 208.3 259.7 209.2 259.9 210.9 260.2 212.4 260.5 213.4 260.7 214.8 261 216 261.3 217.2 261.6 219.4 261.9 221.2 262.3 222.3 262.6 222.7 262.9 224.8 263.2 227.1 263.5 228 263.8 228.6 264.1 229.7 264.4 232.2 264.7 233.3 265.1 234.7 265.5 236 266.2 237 266.9 238.8 267.6 240 268.3 241.1 269 242.1 269.6 243 270.3 243.5 271.2 244.7 272.4 246.3 273.5 247.5 274.6 247.9 275.8 247.9 276.9 249.1 278.2 249.9 279.6 249.6 281 250 282.4 251.4 283.8 251.7 285.2 251.2 286.6 251.6 288 252.2 290 251.3 292 250.1 294.1 251.7 296.1 250.7 298.1 249.1 300.1 249.8 302.1 249.2 304.2 249.8 306.2 250.3 308.2 250.5 310.3 250 312.3 249.4 314.3 248.3 316.4 248.3 318.4 249.9 320.4 249.7 322.5 248.6 324.5 248.2 326.5 247.8 328.6 246.7 330.6 247 332.6 247.8 334.6 248.8 336.6 247.6 338.6 246 340.6 246 342.6 245 344.6 243.9 346.6 245.2 348.6 246.3 350.6 245.5 352.6 243.8 354.6 242.9 356.6 243.5 358.6 242.4 360.6 241.7 362.5 241.1 364.5 240.6 366.4 240.5 368.4 239.2 370.3 238.2 372.3 236.4 374.2 235.8 376.2 236 378.1 235.9 380.1 235.7 382 233.7 384 233.6 385.9 233.7 387.8 232.6 389.8 232.6 391.7 231.3 393.6 230.3 395.6 229.9 397.5 230.2 399.5 229.9 401.4 227.6 403.3 228.5 405.3 228.8 407.2 226.8 409.2 227 411.1 225.2 413 223.4 414.9 223.7 416.8 222.5 418.8 222.4 420.7 222.9 422.6 221 424.5 219.8 426.4 219.4 428.3 219.5 430.3 219 432.2 217.9 434.1 217.9" stroke="#a020c0" stroke-width="1.4"/>
<path d="M197 29.1L198.1 29.6 199.2 30.7 200.3 32.3 201.4 33.5 202.5 33 203.5 31.2 204.6 29.9 205.6 29.6 206.7 29.5 207.9 28.4 209.3 27.4 210.6 26.6 212 25.9 213.4 26.8 214.8 27.5 216.2 28.2 217.6 28.4 218.9 27.6 220.1 28.3 221.3 29.3 222.3 30.2 223.1 31.9 223.9 33 224.7 34.1 225.5 35 226.3 36.4 227.1 37.7 227.5 39 228 40.7 228.5 41.3 228.9 42.1 229.4 43.7 229.9 45.3 230.4 46.4 230.8 47.8 231.3 49 231.8 50.1 232.2 51.7 232.7 53.7 233.2 55.1 233.5 56.7 233.7 58.2 234 58.9 234.3 60.3 234.5 61.5 234.8 62.3 235.1 63.6 235.3 65.9 235.6 68.2 235.9 69.1 236.1 70.4 236.4 71.5 236.7 72.6 236.9 74.7 237.2 76.7 237.5 78 237.7 78.7 238 79.4 238.2 80.4 238.5 81.7 238.7 83.7 238.9 85.9 239.2 87.4 239.4 88.6 239.6 90.3 239.9 92.3 240.1 92.5 240.3 93.6 240.6 95.7 240.8 96.7 241 97.7 241.2 98.7 241.4 100.2 241.4 102.1 241.5 103.3 241.6 104.9 241.6 106 241.7 108 241.7 109.5 241.8 110.2 241.9 112 241.9 114.1 242 116 242 117.1 242.1 118 242.2 119.5 242.2 120.6 242.3 120.9 242.4 123 242.4 125.4 242.5 126.2 242.5 127.7 242.6 130 242.7 130.9 242.8 131.4 242.9 133.2 243 134.8 243.1 135.9 243.3 137.9 243.4 139.3 243.5 140.2 243.6 141.9 243.7 143.4 243.9 144.6 244 145.5 244.1 146.9 244.2 148.5 244.3 149.9 244.4 151.8 244.6 153.3 244.7 155.1 244.8 156.6 244.9 157.9 245 159.3 245.2 160 245.3 161.1 245.5 162.6 245.6 164.4 245.8 165.5 246 166.7 246.1 168.7 246.3 170.4 246.5 171.5 246.6 172.9 246.8 174.8 247 175.6 247.1 177.1 247.3 179 247.4 179.9 247.6 181 247.8 182.9 247.9 184.6 248.1 185.5 248.3 187.2 248.4 188.2 248.6 189 248.8 190.9 249 192.4 249.2 193.6 249.4 195.2 249.7 196.6 249.9 198 250.1 199.8 250.3 200.4 250.6 201.5 250.8 202.9 251 205 251.2 206.2 251.4 207 251.7 208.7 251.9 209 252.1 210.7 252.3 213.8 252.6 215.5 252.8 216.3 253.1 217.5 253.5 219 253.8 220.3 254.1 221.6 254.4 223 254.7 223.7 255 225.2 255.3 227.5 255.6 229 255.9 229.6 256.2 231.4 256.6 232.9 256.9 233.3 257.2 235.1 258 237.6 258.7 238.3 259.4 239.2 260.1 239.9 260.9 240.8 261.6 241.7 262.3 243.3 263 245 264 245.8 265.2 246.6 266.4 246.8 267.6 248.3 268.8 249.7 270 249.9 271.2 250.5 272.4 250.9 273.7 251.1 275.1 251.6 276.5 251.8 277.9 252.2 279.3 252.4 280.7 251.8 282.1 251.9 283.5 252.7 284.9 253.5 286.3 253.6 288.3 253.7 290.3 252.3 292.4 252.6 294.4 252.5 296.4 252.6 298.4 252.7 300.5 251.2 302.5 252.5 304.5 253.2 306.5 252.5 308.6 252 310.6 251.3 312.6 250.8 314.6 249.8 316.7 251.1 318.7 250.9 320.7 249 322.7 250.1 324.8 251 326.8 249.2 328.8 247.4 330.9 247.6 332.9 248.3 334.9 249.3 336.9 249.2 338.9 246.9 340.9 246.6 342.9 247.2 344.9 246.6 346.9 246.1 348.8 246 350.8 245.7 352.8 245.2 354.8 244.6 356.8 244.4 358.8 243.1 360.8 242.2 362.7 242.2 364.7 242.4 366.6 241.3 368.5 239.2 370.5 240.4 372.4 239.2 374.4 238.3 376.3 239.5 378.3 239.1 380.2 237.2 382.1 236.5 384.1 237.4 386 236 387.9 235.9 389.9 235.5 391.8 232.9 393.8 233 395.7 232.4 397.6 231 399.6 231.4 401.5 230.5 403.4 228.7 405.4 228.8 407.3 228.1 409.2 227.5 411.1 228 413.1 227 415 225.1 416.9 224.7 418.8 224.2 420.7 222.6 422.6 221.6 424.5 221.7 426.4 221.9 428.4 222.9 430.3 221 432.2 219 434.1 219.5" stroke="#c01010" stroke-width="1.4"/>
<path d="M197 29.5L198.1 29.8 199.2 30.8 200.3 31.6 201.4 32.9 202.5 33.3 203.4 31.7 204.4 30.2 205.4 29.4 206.4 27.6 207.5 27 208.8 27.2 210.1 26.8 211.4 26.3 212.8 25.8 214.2 25.5 215.6 25.8 217 26.9 218.4 26.6 219.8 26.7 221.2 26.8 222.5 27.1 223.8 28 225 28.7 226.3 29.6 227.6 30.5 228.4 31.7 229.2 31.1 230 32.1 230.9 35.1 231.7 36.6 232.5 37.4 233.2 38.7 233.7 39.7 234.2 40.3 234.8 42.2 235.3 44 235.8 44.4 236.4 45.1 236.9 46.9 237.4 48.7 238 49.4 238.5 50.5 239 52.5 239.6 53.6 240.1 55.3 240.4 57.6 240.7 58 241 58.4 241.3 60.4 241.6 61.9 241.8 63.8 242.1 65.6 242.4 66.3 242.7 67.8 243 70 243.3 70.6 243.6 71.4 243.9 72.9 244.2 74.8 244.5 76 244.8 76.9 245.1 78.8 245.4 80.3 245.7 81 245.9 81.8 246.2 83.9 246.5 86 246.7 87.2 247 89.3 247.3 90.6 247.5 91.2 247.8 92.5 248.1 94.2 248.3 95.4 248.6 96.3 248.9 98.5 249.1 100.1 249.3 100.6 249.4 102.4 249.4 104.1 249.5 104.4 249.5 105.7 249.6 108.1 249.7 109.9 249.7 110.8 249.8 112.2 249.8 113.5 249.9 114.5 250 115.7 250 117.8 250.1 119.7 250.1 120.5 250.2 121.8 250.3 123 250.3 125.3 250.4 127.1 250.5 128 250.5 129.3 250.6 130.6 250.7 131.7 250.9 133 251 134.8 251.2 135.9 251.3 137.1 251.5 138.9 251.6 140.6 251.7 141.1 251.9 142.8 252 144.2 252.2 144.7 252.3 147.4 252.5 149.5 252.6 150.5 252.7 152.8 252.9 154 253 154.3 253.2 155 253.3 156.7 253.5 159.1 253.6 160.5 253.8 161.6 254 162 254.2 163.5 254.4 165.2 254.6 167.1 254.8 168.9 255 169.9 255.2 171.5 255.4 172.2 255.6 173.2 255.8 174.8 256 176.5 256.2 178.9 256.4 179.9 256.6 180.4 256.8 181.2 257 182.6 257.2 184.7 257.4 186.9 257.6 188.4 257.8 189.3 258 191.2 258.3 192.7 258.5 193.7 258.8 194.8 259.1 196 259.3 197.9 259.6 199.3 259.9 200.1 260.1 202 260.4 203.9 260.7 205 260.9 205.3 261.2 206.1 261.4 208.3 261.7 209.8 262 211.9 262.2 213.7 262.5 213.9 262.8 214.8 263.1 216.6 263.4 218.6 263.7 219.8 264 221 264.3 222.7 264.7 224.3 265 225.2 265.3 227 265.6 228.1 265.9 228.8 266.2 230.7 266.5 231.7 266.8 233.1 267.1 234.8 267.7 235.5 268.3 237.1 269 238.8 269.6 240.1 270.2 241.3 270.8 242.3 271.4 243.7 272 245.5 272.8 247.1 273.7 248.1 274.7 248.6 275.7 249.2 276.6 249.6 277.6 250.9 278.6 252.6 280 252 281.4 252.4 282.8 252.9 284.2 253 285.6 253.3 287 253.7 288.4 253.9 290.4 255.2 292.5 253.2 294.5 253.5 296.5 254.8 298.5 252.7 300.6 252.6 302.6 253 304.6 252.7 306.6 253.2 308.7 251.5 310.7 250.8 312.7 251.8 314.7 250.8 316.8 251.2 318.8 252.2 320.8 250.9 322.8 250.7 324.9 251.3 326.9 251.7 328.9 250.6 330.9 249.6 333 249.2 335 249.1 337 249.1 339 248.2 340.9 248 342.9 247.7 344.9 247.6 346.9 247.2 348.9 246.1 350.9 246 352.9 244.8 354.9 244.9 356.9 246.2 358.9 245.7 360.8 244.7 362.8 243.8 364.7 242.8 366.6 241.3 368.6 240.7 370.5 240.1 372.5 239.5 374.4 239 376.4 237.2 378.3 236.4 380.2 238 382.2 238.6 384.1 237.5 386 236.4 388 235.9 389.9 235 391.8 235.8 393.8 235.2 395.7 233.2 397.6 232.8 399.6 232.3 401.5 230.9 403.4 229.2 405.4 228.7 407.3 228.7 409.2 228.4 411.2 227.4 413.1 226.6 415 226.1 416.9 225.9 418.8 224.8 420.7 224.4 422.6 224.1 424.5 222.9 426.4 222.1 428.4 220.8 430.3 219.1 432.2 219.3 434.1 219.8" stroke="#e0205a" stroke-width="1.4"/>
<path d="M197 29.4L198.1 30 199.2 31.6 200.3 32.2 201.4 31.9 202.5 31.9 203.7 31.9 204.9 30.9 206 29.9 207.2 30.3 208.6 30.2 210.1 29.4 211.5 29.2 212.9 28.9 214.3 29.2 215.7 30.3 217.1 30.7 218.4 31 219.6 31.4 220.7 31.8 221.5 33.2 222.3 33.9 223.1 34.8 223.9 36 224.7 37.5 225.4 39.2 225.8 40.2 226.3 41.4 226.7 42.4 227.2 43.4 227.7 45.1 228.1 46.5 228.6 47.6 229.1 49.2 229.5 51.1 230 52.5 230.5 53.8 230.9 55.1 231.2 56.3 231.5 58.7 231.7 60.1 232 60.7 232.2 62 232.5 63.4 232.8 65.5 233 67.4 233.3 67.8 233.5 68.7 233.8 69.9 234.1 71 234.3 72.8 234.6 75 234.8 76.4 235.1 77.3 235.3 78.2 235.6 79.3 235.8 80.9 236 82.5 236.3 83.8 236.5 85.2 236.7 87.2 236.9 88.3 237.1 89.2 237.4 91.4 237.6 93 237.8 94.3 238 95.6 238.2 96.3 238.5 97.3 238.7 99.6 238.8 101.3 238.9 102.2 238.9 103.3 239 104.7 239.1 106.5 239.1 107.6 239.2 108.9 239.2 111.4 239.3 113.5 239.4 113.6 239.4 114.3 239.5 115.3 239.6 116.9 239.6 119 239.7 119.9 239.7 121.7 239.8 124.1 239.9 124.9 239.9 125.6 240 127.2 240 129.2 240.1 130.4 240.2 132.1 240.3 133.5 240.4 135.1 240.6 136.5 240.7 137.1 240.8 138.7 240.9 140.5 241 142.3 241.1 143.4 241.2 144.9 241.3 146.3 241.4 147.1 241.5 148.2 241.7 150.2 241.8 151.9 241.9 152.9 242 154.1 242.1 155.5 242.2 157.6 242.3 159.6 242.4 160.9 242.6 161.5 242.7 162.9 242.9 164.5 243 165.3 243.2 166.7 243.3 168 243.5 169.3 243.6 170.7 243.8 171.9 243.9 173.9 244.1 176.2 244.2 177.1 244.4 177.7 244.5 178.9 244.7 181.2 244.8 182.7 245 183.6 245.1 185.3 245.3 186.4 245.4 188.1 245.6 190.2 245.8 191.1 246 192.1 246.2 193.9 246.4 194.9 246.6 195.3 246.8 197 247 199 247.2 200.4 247.4 201.7 247.6 203.3 247.9 204.7 248.1 206.3 248.3 208.1 248.5 209.4 248.7 210.8 248.9 211.9 249.1 213.7 249.3 215.7 249.6 215.7 249.9 216.8 250.2 219 250.5 219.9 250.8 221.4 251.1 223.6 251.4 224.7 251.8 225.5 252.1 227.2 252.4 229.4 252.7 230.2 253 230.4 253.3 231.9 253.6 233.4 253.9 235 254.7 236.9 255.4 237.6 256.2 238.9 256.9 240.3 257.6 240.2 258.4 242.1 259.1 244.6 259.9 245.3 260.6 245.9 261.8 246.2 263 247.4 264.3 248.4 265.5 248.7 266.7 249.2 267.9 249.7 269.1 250.6 270.4 251.4 271.6 252.1 273 252.5 274.4 253.3 275.8 253.9 277.2 253 278.6 252.7 280 253.8 281.4 253.5 282.8 252.7 284.2 252.9 285.6 253.2 287.7 252.9 289.7 253.5 291.7 252.3 293.8 251.6 295.8 251.9 297.9 251.6 299.9 252.4 301.9 252.8 304 252.1 306 251.4 308 251.9 310.1 253.3 312.1 253 314.1 252.6 316.2 251.5 318.2 250.1 320.3 251 322.3 251.1 324.3 250.4 326.4 251.2 328.4 250.5 330.4 249.3 332.5 249.6 334.5 249.1 336.5 249.7 338.5 249.2 340.5 247.2 342.5 246.8 344.5 247.9 346.5 247.8 348.5 247.1 350.5 247.3 352.5 246.1 354.5 244.9 356.5 245 358.5 244.1 360.5 242.8 362.4 242 364.4 241.5 366.3 242.2 368.3 241.9 370.2 241.3 372.2 240.3 374.1 239.2 376.1 239.3 378 238.6 380 237.1 381.9 236.7 383.9 236.2 385.8 236.1 387.8 236.5 389.7 235.1 391.6 234.5 393.6 234.7 395.5 233.3 397.5 231.6 399.4 230.5 401.4 230.4 403.3 230 405.2 230.1 407.2 229.4 409.1 227.4 411.1 226.7 413 227.1 414.9 226.6 416.8 224.1 418.7 222.4 420.6 223.6 422.6 224.4 424.5 224.3 426.4 222.3 428.3 221.8 430.2 222.4 432.2 220.9 434.1 219.2" stroke="#d010c8" stroke-width="1.4"/>
<path d="M197 29L198.1 29.1 199.2 30.4 200.3 31.6 201.4 32.7 202.6 32.6 203.9 31.7 205.2 31.4 206.4 30.6 207.8 31.1 209.2 31.2 210.6 30.9 212 31.3 213.4 31.3 214.8 31.5 216.2 31.9 217.6 31.1 219 31.2 220.4 32.2 221.8 31.8 223.2 32.1 224.4 32.6 225.3 33.8 226.1 35.6 227 36.4 227.9 37.3 228.8 38.7 229.5 40.1 230 41.4 230.5 42.2 231.1 42.9 231.6 44.8 232.1 46 232.7 46.5 233.2 48.5 233.7 50.2 234.3 51.3 234.8 52.5 235.3 53.3 235.8 54.8 236.1 56.9 236.3 58.9 236.6 59.6 236.9 60.2 237.2 62.2 237.4 63.9 237.7 64.7 238 65.8 238.3 67.3 238.6 69.6 238.8 71.4 239.1 72.1 239.4 72.8 239.7 74.4 239.9 76.3 240.2 77.6 240.5 79.2 240.8 81.2 241 82 241.3 82.8 241.5 84.4 241.7 85.3 242 86.5 242.2 88 242.5 89.3 242.7 90.6 243 91.8 243.2 94 243.4 96.2 243.7 97.7 243.9 99 244.2 100.1 244.3 101.9 244.3 103.1 244.4 103.6 244.5 105.3 244.5 106.9 244.6 108.2 244.6 109.7 244.7 111.4 244.8 112.6 244.8 113.4 244.9 115.2 244.9 116.8 245 117.7 245.1 119.4 245.1 121.2 245.2 122.2 245.2 123.7 245.3 125.3 245.4 126.2 245.4 127.5 245.5 128.6 245.6 129.6 245.7 132.2 245.8 133.6 246 134.2 246.1 136.7 246.2 139.1 246.4 140 246.5 140.4 246.6 141.7 246.7 143.5 246.9 144.7 247 145.3 247.1 146.1 247.2 147.9 247.4 149.7 247.5 151.7 247.6 153.5 247.7 154.7 247.9 156.3 248 157.2 248.1 158.7 248.3 159.8 248.4 160.4 248.6 162.2 248.8 164.6 249 166.4 249.1 167.7 249.3 168.3 249.5 170.5 249.7 171.6 249.8 171.9 250 174.2 250.2 175.6 250.4 175.9 250.5 177.3 250.7 179.3 250.9 180.4 251.1 182.1 251.3 184.4 251.4 186.1 251.6 187 251.8 188.8 252 190.3 252.2 190.8 252.4 191.8 252.6 193.2 252.9 194.8 253.1 195.9 253.4 196.9 253.6 198.8 253.8 200.9 254.1 202.5 254.3 203.6 254.5 204.8 254.8 206.6 255 208.4 255.3 209.4 255.5 210.4 255.7 211.9 256 214.1 256.2 215.2 256.5 215.8 256.8 217.3 257.1 218.3 257.4 219.8 257.7 221.3 258 222.8 258.4 224 258.7 225.4 259 227 259.3 228.8 259.6 230.1 259.9 230.8 260.2 232 260.5 233.4 260.9 234.8 261.6 236 262.4 237.5 263.1 238.7 263.9 239.8 264.6 241.3 265.4 242.6 266.1 243.9 267 244.7 268.3 245 269.5 245.7 270.8 246.1 272 246.7 273.3 247.7 274.5 248.7 275.9 248.9 277.3 248.8 278.7 250 280.1 250.9 281.5 250.7 282.9 250.2 284.3 250.5 285.7 250 287.1 250 289.1 250.4 291.2 250.4 293.2 249.9 295.3 249.3 297.3 250.1 299.4 250.1 301.4 249.9 303.4 249.9 305.5 249.6 307.5 249.5 309.6 249.3 311.6 250.2 313.6 248.8 315.7 246.2 317.7 246.7 319.8 247.8 321.8 247.9 323.9 247.2 325.9 246.7 327.9 246.6 330 247.1 332 247.2 334.1 247.4 336.1 247.4 338.1 246.1 340.1 245.3 342.1 244.9 344.1 244.3 346.1 243.5 348.1 242.9 350.1 243.1 352.1 242.2 354.2 241.3 356.2 241.7 358.2 241.4 360.2 240.4 362.1 239.3 364.1 239.7 366 240.1 368 239.2 370 237.3 371.9 235.3 373.9 235.1 375.8 236.4 377.8 236.2 379.7 235.2 381.7 234.6 383.7 232.5 385.6 230.6 387.6 231.4 389.5 232.8 391.5 231.5 393.4 229.3 395.4 229 397.3 227.9 399.3 226.8 401.2 227.8 403.2 228.1 405.1 226.9 407.1 225.2 409 224.7 411 224.4 412.9 223 414.8 223.1 416.7 223.5 418.7 221.7 420.6 220.7 422.5 221.2 424.4 219.7 426.4 218.5 428.3 217.8 430.2 216.8 432.1 216.5 434.1 215.5" stroke="#ff3030" stroke-width="1.4"/>
<path d="M197 29.7L198.1 29.8 199.2 30.4 200.3 32.1 201.4 32.8 202.5 32.2 203.6 31.6 204.7 30.4 205.8 28.8 206.9 28.6 208.3 28.5 209.7 28.7 211 29 212.4 28.4 213.8 28.7 215.2 28.4 216.6 28.5 218 28.9 219.4 29.1 220.7 29.6 222 29.9 223.3 31.1 224.3 31.6 225.1 32.6 225.9 34.6 226.8 35.3 227.6 35.9 228.4 38 229.1 39.3 229.6 39.6 230.1 41.2 230.6 43 231.1 44.1 231.6 45.3 232.1 46.6 232.6 47.3 233.1 48.5 233.6 50.5 234.1 51.9 234.6 52.9 235.1 54.4 235.5 56.1 235.8 57.1 236.1 58.9 236.3 60.6 236.6 61.1 236.9 62.7 237.2 64.7 237.4 66.1 237.7 67.1 238 67.1 238.3 68.8 238.5 71.3 238.8 72.6 239.1 73.6 239.4 74.5 239.7 76.4 239.9 78.2 240.2 79.9 240.5 80.8 240.7 81.5 241 83.4 241.2 84.4 241.4 86.1 241.7 88 241.9 89 242.2 90.6 242.4 92.3 242.6 93 242.9 94 243.1 96.3 243.4 98.1 243.6 98.4 243.9 98.1 243.9 100.6 244 104 244 104.7 244.1 105.5 244.2 106.3 244.2 108.1 244.3 109.3 244.4 109.9 244.4 112.2 244.5 113.8 244.5 115.2 244.6 117.8 244.7 119.1 244.7 119.6 244.8 121.3 244.8 122.6 244.9 123.1 245 124.7 245 126.9 245.1 127.7 245.1 128.6 245.2 130.5 245.4 132.3 245.5 134 245.6 136 245.8 137.5 245.9 137.6 246 139.2 246.1 141.3 246.3 142.2 246.4 144.4 246.5 145.3 246.6 146.1 246.8 148.3 246.9 149.1 247 149.9 247.1 151.5 247.3 153.1 247.4 154.6 247.5 156.7 247.6 158.1 247.8 158.5 247.9 160 248.1 162.1 248.2 163.1 248.4 164.3 248.6 166 248.8 168.1 248.9 169.6 249.1 170.5 249.3 172.3 249.5 172.9 249.6 173.3 249.8 174.9 250 177.1 250.2 178.8 250.3 180.3 250.5 181.8 250.7 182.8 250.9 184.5 251 186.4 251.2 187.2 251.4 188.1 251.6 189.7 251.8 191.4 252 192.3 252.2 193.4 252.5 195.3 252.7 196.2 253 197.4 253.2 199.4 253.4 201.8 253.7 203 253.9 203.7 254.1 205.3 254.4 206.6 254.6 208.2 254.8 208.9 255.1 209.8 255.3 211.5 255.5 213.6 255.8 214.6 256.1 215.7 256.4 217.5 256.7 218.7 257 220.3 257.3 221.9 257.6 222.6 257.9 224.1 258.2 226 258.5 227 258.9 227.8 259.2 229.1 259.5 231.4 259.8 233 260.1 233.9 260.5 235.1 261.2 236.3 261.9 237.3 262.6 238.6 263.3 240.6 264.1 241.2 264.8 242.6 265.5 244.5 266.2 245.2 267.3 245.2 268.5 245.8 269.7 247.2 270.9 248.1 272.1 248.1 273.3 249.5 274.5 251.6 275.8 251.6 277.2 251.5 278.6 251.6 280 251.7 281.4 251.4 282.8 251.6 284.2 251.4 285.6 251.6 287 252.7 289 251.7 291 252.5 293 252.2 295 250.8 297 249.9 299 249.7 301.1 250.7 303.1 251.3 305.1 251.2 307.1 251.6 309.1 251 311.1 249.8 313.2 249.5 315.2 249.6 317.2 249.3 319.2 248.6 321.2 248.9 323.2 249.4 325.3 249.2 327.3 248.9 329.3 248.5 331.3 248.3 333.3 247.7 335.3 246.3 337.3 246.8 339.3 247.4 341.3 247 343.3 247.6 345.3 246.8 347.2 245.4 349.2 244.3 351.2 243.5 353.2 243.9 355.2 242.8 357.2 241.3 359.1 242.4 361.1 242.7 363 241.6 365 240.1 366.9 239.2 368.8 239.9 370.8 239.1 372.7 238.2 374.6 237.4 376.6 236.7 378.5 237.3 380.4 235.7 382.4 233.2 384.3 233.9 386.2 235.3 388.2 234.8 390.1 233.4 392 231.7 393.9 230.9 395.9 230.6 397.8 229.1 399.7 228.4 401.6 228.2 403.6 227.3 405.5 227.1 407.4 226.9 409.3 226.3 411.3 226 413.2 226 415.1 225.9 417 225.1 418.9 223 420.8 222.7 422.7 222.7 424.6 221.4 426.5 220.9 428.4 219.9 430.3 219 432.2 218 434.1 217.3" stroke="#1a2ad8" stroke-width="1.4"/>
<path d="M197 28L198.1 28.8 199.2 30.9 200.3 32 201.4 32.4 202.5 32.5 203.7 31.3 204.8 30.6 205.9 30.4 207.1 30 208.5 29.4 209.9 28.6 211.3 28.7 212.7 29 214.1 29.3 215.5 29.7 216.9 28.7 218.3 28.7 219.7 29.3 221.1 29.4 222.4 30 223.7 30.3 225 31.4 226 32.4 226.9 32.5 227.7 34.7 228.5 36.1 229.4 36.1 230.2 36.7 230.9 38.5 231.4 40.2 231.9 41.7 232.5 43.3 233 44 233.5 45.5 234.1 46.7 234.6 47.4 235.1 49 235.6 50.7 236.2 52.4 236.7 54.1 237.2 55.3 237.6 56 237.9 57 238.1 59.4 238.4 60.8 238.7 61 239 61.8 239.3 63.2 239.6 65.3 239.8 67.3 240.1 68.6 240.4 70.6 240.7 72.2 241 72.5 241.3 72.7 241.5 74.3 241.8 76.6 242.1 78.1 242.4 79.7 242.7 81 242.9 82.1 243.2 84.1 243.4 85.4 243.7 86.3 243.9 87.7 244.2 89 244.4 90.9 244.7 93.2 244.9 94.4 245.2 94.4 245.4 95.5 245.7 97.9 245.9 99.3 246.2 100.5 246.2 101.3 246.3 102.3 246.3 103.8 246.4 105.5 246.5 107.3 246.5 108.4 246.6 109.1 246.6 110.9 246.7 113 246.8 114.3 246.8 116.1 246.9 116.5 246.9 117.6 247 120.3 247.1 122.8 247.1 123.8 247.2 124.2 247.2 125.6 247.3 127.7 247.4 129 247.4 129.7 247.6 131.4 247.7 132.7 247.8 134.3 248 135.7 248.1 136.9 248.2 138.9 248.4 140.4 248.5 141.3 248.6 142.3 248.8 143.4 248.9 144.9 249 146.6 249.2 148 249.3 149.4 249.4 151.3 249.6 152.6 249.7 153.8 249.8 155 250 156.2 250.1 157.6 250.2 159.8 250.4 161.2 250.6 161.3 250.7 162.6 250.9 164.8 251.1 166.6 251.3 167.6 251.5 169.1 251.7 170.1 251.9 171.3 252 173.8 252.2 175.8 252.4 176.5 252.6 177.7 252.8 179.1 253 180.6 253.1 181.2 253.3 182.4 253.5 184.6 253.7 185.9 253.9 186.6 254.1 187.8 254.3 189.6 254.5 191 254.7 193 255 194.2 255.2 195.4 255.5 197.3 255.7 198.5 256 199.5 256.2 201.1 256.5 202.5 256.7 203.8 257 205.6 257.2 206.7 257.5 208.8 257.7 210.2 258 210.4 258.2 211.3 258.5 213.1 258.7 215.1 259 216.5 259.3 217.8 259.6 219.4 259.9 221.1 260.3 221.6 260.6 222.8 260.9 224.5 261.2 226.2 261.5 227.4 261.8 229 262.1 230.9 262.4 231.8 262.7 233.1 263 234.3 263.6 235.8 264.3 237.5 265.1 238.1 265.8 238.7 266.6 240.7 267.3 242.3 268.1 242.9 268.8 243.4 270 243.6 271.3 244.6 272.6 245.4 273.9 246.3 275.1 247.4 276.4 247.4 277.8 247 279.2 247.7 280.6 248.7 282 248.9 283.4 248.3 284.8 248.3 286.2 249 287.6 249.3 289.6 250.8 291.6 249.7 293.7 250 295.7 249.5 297.8 248.5 299.8 248.1 301.8 248.9 303.9 249 305.9 248.5 307.9 248.3 310 248.2 312 247.8 314 245.7 316.1 245.7 318.1 246.3 320.2 247 322.2 247.8 324.2 246.7 326.3 246.8 328.3 247.2 330.3 246.1 332.4 244.9 334.4 244.4 336.4 244.7 338.4 244.8 340.4 243.4 342.4 243.3 344.4 243.5 346.4 242.3 348.4 240.6 350.4 240 352.4 240.2 354.4 240.9 356.4 241.5 358.4 240 360.4 239.2 362.4 239.9 364.3 239.5 366.3 238.3 368.2 237.5 370.2 235.4 372.1 235 374.1 236 376 233.8 378 233.3 379.9 234.1 381.9 232.8 383.8 232.4 385.8 231.3 387.7 229.9 389.7 230.2 391.6 230.2 393.5 229.5 395.5 228.6 397.4 227.3 399.4 226.1 401.3 225.7 403.3 225.1 405.2 224.7 407.2 225.1 409.1 224.3 411 222.1 413 222 414.9 222.2 416.8 221.2 418.7 221 420.6 220 422.6 219.4 424.5 219 426.4 218.2 428.3 216.9 430.2 215.3 432.2 214 434.1 213.6" stroke="#e01818" stroke-width="1.4"/>
<path d="M197 28.8L198.1 28.9 199.2 30.4 200.3 32 201.4 32.8 202.5 32.2 203.6 31.5 204.7 31.3 205.8 30.4 206.9 29.1 208.2 28.8 209.6 28.6 211 27.9 212.4 28 213.8 28 215.2 28.2 216.6 28.2 218 27.9 219.4 28.3 220.8 29.1 222 29.3 223.3 29.4 224.6 30.6 225.4 32 226.2 33.1 227.1 34.4 227.9 36 228.7 37.3 229.5 38.1 230.1 39.2 230.6 40.7 231.1 41.7 231.6 42.6 232.1 44.2 232.7 45.2 233.2 46.1 233.7 48.3 234.2 50.2 234.7 51.7 235.2 52.6 235.7 53.3 236.2 55.1 236.5 56.5 236.8 57.6 237.1 59.5 237.4 61 237.7 61.9 237.9 63.1 238.2 64.9 238.5 66.8 238.8 68 239.1 68.7 239.3 69.8 239.6 71 239.9 72.4 240.2 73.6 240.5 75 240.7 76.9 241 78.9 241.3 80 241.6 81.3 241.8 83 242.1 84.1 242.3 85.4 242.5 87 242.8 88.7 243 89.8 243.3 91.1 243.5 92.2 243.8 93.1 244 94.7 244.3 96.5 244.5 98.4 244.8 99 244.9 99.6 245 102 245.1 104.2 245.1 105.8 245.2 107.1 245.2 108.2 245.3 110.1 245.4 111.9 245.4 112.8 245.5 113.1 245.5 114.3 245.6 116.3 245.7 118.6 245.7 119.7 245.8 120.1 245.9 121.5 245.9 122.9 246 124.7 246 126.4 246.1 127.9 246.2 129.4 246.2 130.5 246.4 131.4 246.5 132.4 246.6 133.2 246.8 134.9 246.9 136.7 247 137.5 247.1 139.7 247.3 141.5 247.4 142.2 247.5 144 247.7 146.2 247.8 148 247.9 149.2 248.1 150.3 248.2 151.3 248.3 152.7 248.4 154.6 248.6 156.2 248.7 157.8 248.8 158.8 249 159.7 249.1 161 249.3 162.5 249.5 164.7 249.7 165.6 249.9 166.1 250 168.4 250.2 170.2 250.4 171.4 250.6 173 250.8 174.3 250.9 175.5 251.1 176.8 251.3 178.1 251.5 179.8 251.7 181.4 251.8 181.7 252 182.4 252.2 184.7 252.4 187.1 252.5 188 252.7 189.4 252.9 190.8 253.2 191.8 253.4 193.5 253.7 194.9 253.9 196.3 254.2 198 254.4 199.1 254.6 200.4 254.9 202 255.1 203.1 255.4 204.4 255.6 205.6 255.8 207.1 256.1 208.9 256.3 211 256.6 211.8 256.8 212.6 257.1 214.2 257.3 216.1 257.7 218.5 258 220 258.3 220.6 258.6 220.8 258.9 222.3 259.2 224.4 259.5 225.6 259.8 226.8 260.1 228.2 260.4 230.2 260.8 231 261.1 231.7 261.4 233.7 261.7 235.3 262.5 236.5 263.2 237.5 263.9 239.1 264.6 240.8 265.3 241.2 266.1 241.8 266.8 243.5 267.5 245.7 268.7 246.1 269.9 245.3 271.1 246.2 272.3 248.1 273.5 249.1 274.8 249.7 276 250.5 277.4 250.7 278.8 250.2 280.2 249.9 281.6 250.7 283 251.1 284.4 251.1 285.8 251.2 287.2 251.7 289.3 250.8 291.3 251 293.4 252.5 295.4 252.6 297.4 251.2 299.5 250.4 301.5 249.9 303.6 249.6 305.6 249.3 307.6 248.9 309.7 249 311.7 249.6 313.8 249.5 315.8 249.5 317.8 249 319.9 248.8 321.9 249.4 324 248.6 326 248.4 328 248.3 330.1 249.3 332.1 249.3 334.2 247.7 336.2 247.6 338.2 245.7 340.2 245.5 342.2 245.6 344.2 244.4 346.2 245 348.2 243.6 350.2 242.6 352.2 243.1 354.2 242.4 356.2 241.6 358.2 240.9 360.2 241.7 362.2 241.7 364.2 240.1 366.1 239.9 368.1 238.8 370 237.9 372 238.4 373.9 238.2 375.9 237.1 377.8 237 379.8 237.5 381.8 235.9 383.7 233.5 385.7 233 387.6 233.2 389.6 231.9 391.5 230.3 393.5 231 395.4 229.9 397.4 228.8 399.3 229.9 401.2 229.3 403.2 228 405.1 228.2 407.1 227.5 409 225.4 411 225.4 412.9 224.6 414.8 222.7 416.8 223 418.7 222.3 420.6 221.2 422.5 222.7 424.5 220.3 426.4 218.7 428.3 220.1 430.2 218.4 432.2 216.9 434.1 216.5" stroke="#008080" stroke-width="1.4"/>
<path d="M197 28.6L198.1 29 199.2 30.8 200.3 32.2 201.4 32.7 202.6 32.7 203.9 31.7 205.2 30.5 206.5 30.2 207.9 30.9 209.3 31.5 210.7 31.5 212 31.8 213.4 32 214.9 31.4 216.3 31.3 217.7 31.4 219.1 31.9 220.5 32.8 221.8 33.2 223.1 33.6 224 34.8 224.8 35.8 225.7 36.8 226.6 38 227.5 38.3 228.1 39.5 228.6 41 229.1 42 229.7 43.5 230.2 44.7 230.7 46.1 231.2 47.9 231.7 48.5 232.3 50 232.8 51.9 233.3 53.1 233.8 53.9 234.2 55.1 234.5 56.9 234.7 58.5 235 60.1 235.3 61.5 235.5 62.5 235.8 64.4 236.1 66.5 236.3 67.2 236.6 68.3 236.9 68.7 237.2 69.4 237.4 72 237.7 73.4 238 74.6 238.2 76.9 238.5 78 238.8 79.1 239 80.8 239.3 81.9 239.5 83.4 239.7 84.8 240 85.9 240.2 88.1 240.4 89.6 240.7 90.8 240.9 91.8 241.1 93.1 241.4 95 241.6 95.9 241.8 97.3 242.1 98.8 242.3 100.1 242.3 101.4 242.4 103.4 242.5 105 242.5 105.2 242.6 106.3 242.7 108.4 242.7 110.4 242.8 112.2 242.8 113.3 242.9 114.3 243 116 243 117.9 243.1 119.6 243.1 120.8 243.2 121.7 243.3 122.4 243.3 123.9 243.4 125.7 243.4 127.1 243.5 128.5 243.6 129.5 243.7 130.7 243.8 132.1 243.9 133.2 244 135 244.2 136.7 244.3 138.1 244.4 139.9 244.5 141.5 244.6 142.5 244.8 144 244.9 145.6 245 146.8 245.1 148.1 245.3 149.5 245.4 150.2 245.5 151.4 245.6 154.1 245.7 155.7 245.9 157 246 158.4 246.1 158.9 246.2 160.6 246.4 162.5 246.6 163.1 246.7 164.2 246.9 166 247.1 167.6 247.2 169.4 247.4 170.2 247.6 171.8 247.7 174 247.9 174.8 248.1 176.5 248.2 177.4 248.4 178.2 248.6 180.1 248.7 181.5 248.9 182.9 249.1 185.3 249.2 186.9 249.4 187.4 249.6 188.8 249.8 190.1 250 191.5 250.2 192.7 250.4 193.9 250.7 195.7 250.9 197.5 251.1 198.4 251.3 199.5 251.6 201 251.8 202.2 252 203.1 252.2 204.7 252.5 207.1 252.7 208.6 252.9 210.5 253.2 212.1 253.4 213.5 253.6 215.1 253.8 215.7 254.2 216.8 254.5 218 254.8 219.4 255.1 220.7 255.4 220.9 255.7 223 256 225 256.3 226 256.6 227.8 256.9 229.4 257.2 230.5 257.6 232.1 257.9 233.1 258.2 233.3 258.7 235.4 259.5 237 260.3 237.9 261 239.5 261.8 240.6 262.6 241.6 263.3 242.6 264.1 243.8 265 244.7 266.3 245 267.6 246.3 268.9 247.8 270.1 248.4 271.4 248.2 272.7 248.7 273.9 249.6 275.3 249.3 276.7 249.3 278.1 249.5 279.5 250.2 280.9 250.8 282.3 250.4 283.7 250 285.1 250.6 286.5 251.2 288.6 251.2 290.6 250.9 292.6 250 294.6 250.1 296.6 249.3 298.7 249.6 300.7 249.3 302.7 248.5 304.7 249.1 306.8 248.1 308.8 248 310.8 249.3 312.8 248.9 314.8 247.3 316.9 247.6 318.9 247.9 320.9 247.8 322.9 248 325 247.2 327 248.2 329 247.6 331 247.2 333.1 247.8 335.1 247 337.1 246.7 339 246.3 341 245 343 243.7 345 243.9 347 243.7 349 243.3 351 243 353 243 355 243.7 356.9 243.1 358.9 241.5 360.9 240.2 362.8 239.8 364.8 238.7 366.7 238.6 368.6 238.8 370.6 236.7 372.5 237.1 374.5 237.5 376.4 235.9 378.3 235.6 380.3 235.2 382.2 234.4 384.2 233.1 386.1 231.7 388 232 390 232.1 391.9 231.3 393.8 230.7 395.8 229.2 397.7 228.3 399.6 228.1 401.5 228.8 403.5 228.8 405.4 227.6 407.3 225.9 409.3 226.8 411.2 227.5 413.1 225.3 415 223.7 416.9 221.8 418.8 220.8 420.7 221.6 422.6 221.9 424.5 220 426.5 217.4 428.4 217.3 430.3 217.4 432.2 216.3 434.1 215.7" stroke="#e0205a" stroke-width="1.4"/>
<path d="M197 29.2L198.1 29.7 199.2 30.5 200.3 32.2 201.4 32.2 202.6 31.4 203.8 31.4 205.1 31.4 206.3 30.7 207.7 30.2 209.1 30.5 210.5 31 211.9 31.3 213.3 31.4 214.7 31.6 216.1 31.4 217.4 31.9 218.7 32.6 219.6 32.7 220.4 34.2 221.2 35.8 222 36.6 222.8 37.7 223.6 38.5 224.1 39.5 224.5 41.5 225 43.4 225.4 45 225.9 46 226.3 47 226.8 49 227.2 49.6 227.7 49.9 228.2 51.8 228.6 53.2 229.1 54.8 229.3 56.7 229.6 57.6 229.8 59.4 230.1 61.2 230.3 62 230.6 63.9 230.8 65 231.1 65.6 231.3 68.2 231.6 69.3 231.8 69.7 232.1 71.8 232.3 72.7 232.6 73.8 232.8 75.3 233.1 77.6 233.3 78.8 233.6 79.5 233.8 81.2 234 83.3 234.2 85 234.4 85.9 234.6 86.8 234.8 88.5 235 90.6 235.2 92 235.4 92.9 235.6 93.6 235.9 94.8 236.1 96.4 236.3 97.6 236.5 99.4 236.6 102.1 236.7 103 236.7 103.1 236.8 104.8 236.8 106.5 236.9 107.7 237 109.4 237 111.2 237.1 112.8 237.1 113.3 237.2 114.2 237.3 116.8 237.3 118.2 237.4 118.6 237.5 120.1 237.5 121.3 237.6 123.2 237.6 125.4 237.7 126.3 237.8 127.8 237.8 129.7 237.9 131 238 132.1 238.1 132.7 238.2 134.4 238.3 136 238.4 137.3 238.5 138.7 238.6 140.3 238.7 141 238.8 142.1 238.9 144.7 239 146.1 239.1 147.1 239.2 148.8 239.3 150.3 239.4 151.4 239.5 153.1 239.6 154.9 239.8 156.3 239.9 157.2 240 157.8 240.1 159.8 240.2 161.5 240.3 162 240.5 163.3 240.6 164.8 240.8 166.4 240.9 167.7 241 169.4 241.2 171.6 241.3 173 241.5 173.8 241.6 174.7 241.7 176.2 241.9 177.9 242 179.1 242.2 180.7 242.3 182.3 242.4 183.4 242.6 184.9 242.7 187 242.9 188.8 243 190.5 243.2 191.6 243.4 192.2 243.6 193 243.8 194.2 244 196.6 244.2 197.5 244.4 198.3 244.6 199.9 244.7 201.5 244.9 203.7 245.1 205.4 245.3 205.7 245.5 207.3 245.7 209.3 245.9 210.7 246.1 212.2 246.3 213.1 246.5 214.3 246.8 216.2 247.1 217.7 247.4 218.7 247.7 220.1 248 221.7 248.3 222.7 248.6 223.8 248.9 224.9 249.3 226.2 249.6 227.1 249.9 228.8 250.2 230.4 250.5 231.7 250.8 233.8 251.2 235.8 252 236.8 252.8 237.1 253.7 237.9 254.5 239 255.3 241 256.2 242 257 242.7 257.8 244.6 259 245.7 260.3 246.4 261.7 246.6 263 246.4 264.3 246.8 265.6 247.6 267 247.9 268.3 248.1 269.6 249 271 249.1 272.4 248.7 273.8 248.8 275.2 248.8 276.6 249.6 278 249.6 279.4 249.4 280.8 249.9 282.2 249.5 283.6 248.7 285 249.5 287.1 250.2 289.1 249.8 291.2 248.8 293.2 248.8 295.3 249.9 297.3 250.1 299.4 250.1 301.4 250.1 303.5 250.1 305.5 249.4 307.5 248.7 309.6 249.2 311.6 249 313.7 247.4 315.7 247.5 317.8 248.5 319.8 246.9 321.8 246.1 323.9 247 325.9 246.5 328 246.2 330 246.1 332 246 334.1 246.3 336.1 245.5 338.1 244.6 340.1 244.7 342.1 244.1 344.1 243.4 346.1 242.8 348.1 242.2 350.2 243.7 352.2 243.4 354.2 243.5 356.2 243.8 358.2 242 360.2 240.8 362.1 239.6 364.1 238.5 366.1 238.5 368 238.2 370 236.6 371.9 235.5 373.9 235.9 375.8 236.6 377.8 237.8 379.8 236.1 381.7 234.7 383.7 233.5 385.6 231.7 387.6 232.5 389.5 231.3 391.5 230.4 393.4 230.3 395.4 229.5 397.3 228.5 399.3 227.8 401.2 227.9 403.2 227.1 405.1 226.1 407.1 226.2 409 224.9 411 223.7 412.9 223 414.8 223.2 416.7 224 418.7 222.5 420.6 220.7 422.5 219 424.4 219.3 426.4 219.4 428.3 217.1 430.2 216.5 432.1 216.2 434.1 216" stroke="#108080" stroke-width="1.4"/>
<path d="M197 29L198.1 30 199.2 30.6 200.3 31.6 201.4 31.9 202.6 32.8 203.9 32.6 205.2 31.8 206.5 31.2 207.9 31.2 209.3 31.6 210.6 31.5 212 31.6 213.4 31.6 214.9 30.8 216.3 31.4 217.7 32.6 219.1 32.1 220.4 32.3 221.8 33 222.6 34.2 223.5 35.2 224.4 36.1 225.2 36.9 226.1 37.8 226.8 39.7 227.3 41.4 227.8 42.8 228.3 44.1 228.8 45.6 229.3 47.2 229.8 48.4 230.3 49.7 230.8 50.7 231.3 51.9 231.8 53.1 232.3 54.1 232.7 55 233 57.4 233.3 59 233.5 59.3 233.8 60.8 234 62.4 234.3 63.9 234.6 65.2 234.8 66.2 235.1 67.8 235.4 70.4 235.6 71.4 235.9 72 236.2 73.8 236.4 74.2 236.7 75.1 237 77.4 237.2 79.1 237.5 80.1 237.7 81.1 237.9 82.7 238.2 84.2 238.4 85.6 238.6 87.4 238.9 88.5 239.1 89.3 239.3 91 239.5 93.1 239.8 94.9 240 95.8 240.2 96.9 240.4 98.4 240.7 99.9 240.7 101.3 240.8 103.3 240.9 105.7 240.9 106.6 241 107.8 241 108.6 241.1 109.6 241.2 111.2 241.2 113.3 241.3 115 241.3 115.9 241.4 117.8 241.5 118.4 241.5 119.6 241.6 121.8 241.6 123.1 241.7 124.7 241.8 126 241.8 126.7 241.9 127.9 242 129 242.1 130 242.2 131 242.3 132.7 242.4 134.8 242.5 135.4 242.6 136.8 242.8 139 242.9 141 243 142.9 243.1 144.1 243.2 145 243.3 146.9 243.5 148.6 243.6 149.6 243.7 151 243.8 152.3 243.9 153.3 244 154.9 244.2 156.1 244.3 157.7 244.4 160.2 244.5 161.5 244.7 162.8 244.8 163.7 245 164.3 245.2 166.2 245.3 167.9 245.5 169.5 245.6 170.4 245.8 171.7 246 173.4 246.1 174.5 246.3 175.9 246.4 177.2 246.6 179 246.8 180.8 246.9 181.8 247.1 183 247.2 184.3 247.4 185.7 247.6 187.2 247.7 189 247.9 190.3 248.1 191 248.3 193.1 248.5 194.8 248.8 195.7 249 196.6 249.2 198.6 249.4 199.9 249.6 201.4 249.9 203.9 250.1 205.2 250.3 205.7 250.5 206.8 250.7 207.9 250.9 209 251.2 210.7 251.4 212.1 251.6 213.8 251.8 215.7 252.1 217.2 252.5 217.8 252.8 219.9 253.1 221.6 253.4 222.2 253.7 223.9 254 225.2 254.3 226.7 254.6 227.4 254.9 228.3 255.2 230.4 255.6 231.7 255.9 232.7 256.2 234.3 256.8 235.3 257.7 236.8 258.5 237.9 259.3 238.8 260.2 240.7 261 241.9 261.9 243.3 262.7 243.9 264 244.1 265.4 244.8 266.7 244.7 268.1 245.4 269.4 245.6 270.8 246.2 272.1 246.7 273.5 247 274.9 247.3 276.3 246.3 277.7 246.5 279.1 247.5 280.5 247.8 281.9 248 283.3 248.1 284.7 247.8 286.1 247.9 288.1 246.5 290.2 247.1 292.2 247.6 294.3 246.1 296.3 245.7 298.3 247.6 300.4 248.2 302.4 247.7 304.4 246.9 306.4 246.6 308.5 246.3 310.5 245.6 312.5 245.6 314.6 246.7 316.6 246.1 318.6 246 320.6 247.3 322.7 245.9 324.7 244.2 326.7 244.9 328.7 245.5 330.8 245.7 332.8 245 334.8 245 336.8 244.3 338.8 243.2 340.8 243.4 342.8 242.7 344.8 241.1 346.8 240.8 348.8 241.8 350.8 241.5 352.8 240.8 354.8 241.4 356.7 240.7 358.7 239.7 360.7 238.7 362.7 237.3 364.6 236.4 366.5 236.8 368.5 236.8 370.4 234.7 372.4 234.8 374.3 234.1 376.3 232.6 378.2 232.6 380.2 232.6 382.1 232.7 384 231.5 386 230.1 387.9 230.1 389.9 229.3 391.8 228.2 393.7 229.1 395.7 229 397.6 227.5 399.5 227.7 401.5 227.1 403.4 226.2 405.3 225 407.3 224.3 409.2 224.3 411.1 222.1 413 221.5 415 222.8 416.9 221.2 418.8 219.4 420.7 219.8 422.6 218.2 424.5 216.7 426.4 216.4 428.3 215.3 430.3 215.4 432.2 215.6 434.1 214.2" stroke="#6020c0" stroke-width="1.4"/>
<path d="M197 29.1L198.1 30 199.2 30.7 200.3 31.6 201.4 32.7 202.6 33 203.9 31.9 205.2 31.5 206.5 31.6 207.8 31.1 209.2 30.9 210.6 31.8 212 31.6 213.4 31.6 214.8 32.1 216.2 31.4 217.6 32.1 219 32.9 220.4 32.1 221.9 31.9 223.3 32.6 224.6 32.2 226 32.3 227.4 33 228.7 33.7 229.7 34.2 230.6 35.2 231.5 36.3 232.4 36.9 233.4 38.8 234.2 39.9 234.8 41.4 235.4 42.6 236 43.2 236.6 44.7 237.2 46.6 237.8 47.5 238.4 47.7 239 49.2 239.6 51.3 240.1 52 240.7 52.5 241.3 53.7 241.7 55.3 242 56.9 242.3 58.6 242.6 59.8 242.9 61 243.2 62.7 243.5 64.6 243.8 66.6 244.1 67.7 244.4 68.7 244.7 70.1 245 71.1 245.3 72 245.6 73.5 245.9 74.8 246.2 76.2 246.5 78.5 246.8 79.6 247.1 80.5 247.3 83 247.6 84.7 247.9 85.3 248.1 86.5 248.4 88 248.7 89.7 249 91.5 249.2 93 249.5 93.8 249.8 95.1 250.1 96.8 250.3 97.6 250.6 98.6 250.8 100.5 250.9 102.5 250.9 104 251 105.1 251.1 106.3 251.1 108.4 251.2 110.1 251.2 110.3 251.3 111.8 251.4 113.9 251.4 114.6 251.5 115.3 251.6 117 251.6 118.8 251.7 120.3 251.7 121.6 251.8 122.5 251.9 123.8 251.9 124.3 252 125.6 252 128.2 252.1 130.4 252.2 132 252.4 133.2 252.5 134.6 252.7 136.5 252.8 138.2 253 138.8 253.1 139.2 253.3 140.9 253.4 142.9 253.6 143.7 253.7 144.6 253.9 146.8 254 148.9 254.2 150.1 254.3 150.9 254.5 152 254.6 153.2 254.7 155.1 254.9 157.1 255 157.7 255.2 158.5 255.4 159.9 255.6 161.7 255.8 163.9 256 165.2 256.2 166.2 256.4 167.7 256.6 169.2 256.8 170.6 257 171.8 257.2 173.1 257.4 174.8 257.6 176.4 257.8 177.1 258 178.1 258.2 180.1 258.5 181.6 258.7 182.9 258.9 184.9 259.1 186.3 259.3 187.5 259.5 188.8 259.7 189.8 260 192 260.2 193.6 260.5 194 260.8 194.7 261 196.8 261.3 198.8 261.6 199.4 261.9 201.1 262.1 202.7 262.4 204 262.7 205.1 263 206 263.2 207.7 263.5 209.6 263.8 211.1 264 211.7 264.3 213.7 264.6 215.1 264.9 216.3 265.2 217.8 265.5 218.7 265.8 220 266.1 221.8 266.4 224.4 266.8 225.7 267.1 226.4 267.4 227.7 267.7 228.6 268 230.1 268.3 231.5 268.6 233.4 268.9 234.4 269.4 235.4 270.1 236.9 270.8 238.2 271.5 239.2 272.2 239.5 272.9 241.1 273.6 243 274.3 243.8 275.5 244.9 276.7 246 277.9 246.8 279.1 247.5 280.5 247.5 281.9 247.1 283.3 247.5 284.6 247.4 286 247.3 287.4 248.4 288.8 248.8 290.8 248.9 292.9 249.6 294.9 249.7 296.9 247.7 298.9 246.3 300.9 248.7 302.9 248.6 305 247.1 307 247.4 309 247.2 311 245.6 313 245.4 315.1 245.7 317.1 245.7 319.1 246.5 321.1 246.1 323.1 245.6 325.2 245.7 327.2 244.7 329.2 244.1 331.2 245.2 333.2 244.4 335.2 243.6 337.2 243.6 339.2 243 341.2 242.3 343.2 242.4 345.2 241.5 347.2 240.5 349.1 240.1 351.1 240.8 353.1 241.3 355.1 240.2 357.1 239.5 359.1 238.8 361 238.4 363 238.4 364.9 237.4 366.8 236.2 368.8 235.3 370.7 235.9 372.6 235.7 374.6 233 376.5 232.7 378.4 233.7 380.4 233.4 382.3 232.3 384.3 232 386.2 230.1 388.1 228.2 390 229.6 392 229.8 393.9 228 395.8 226.3 397.7 227.4 399.7 227.6 401.6 226 403.5 225.1 405.5 223.3 407.4 222.5 409.3 222.1 411.2 222.3 413.1 222.2 415 221.2 416.9 220.2 418.9 220.5 420.8 219.5 422.7 217.6 424.6 217.7 426.5 215.6 428.4 214.5 430.3 215.4 432.2 215.5 434.1 215.9" stroke="#2020c0" stroke-width="1.4"/>
<path d="M197 29.3L198.1 30.4 199.2 31.4 200.3 32.6 201.4 33 202.5 32.5 203.7 32.4 204.8 31 206 29.4 207.2 28.8 208.6 29.1 210 29.5 211.4 28.7 212.8 28.6 214.2 29.6 215.6 30.2 217 29.4 218.4 29.2 219.8 29.7 221.2 29.7 222.6 30.8 223.9 31 225.2 31 226.2 31.9 227.1 32.8 227.9 34.7 228.8 36.2 229.6 36.6 230.5 37.6 231.2 38.9 231.7 40 232.2 41.2 232.8 42.3 233.3 44.3 233.8 46.4 234.4 47.4 234.9 47.9 235.4 48.9 236 50.9 236.5 51.9 237 52.7 237.6 54.5 237.9 56.5 238.2 58.2 238.5 58.1 238.8 58.8 239.1 61.1 239.3 63 239.6 64.7 239.9 66.3 240.2 67.8 240.5 69.1 240.8 70.9 241.1 72.6 241.3 73.5 241.6 75.3 241.9 76.6 242.2 77.4 242.5 78.7 242.8 79.7 243 81 243.3 82.5 243.5 84.1 243.8 85.8 244 86.2 244.3 87.4 244.6 89.4 244.8 91 245.1 92.2 245.3 93.6 245.6 94.6 245.8 96.5 246.1 98.8 246.3 99.3 246.5 100.6 246.6 102.1 246.7 103.6 246.7 104.5 246.8 105.6 246.8 107 246.9 108.6 247 110.7 247 112.3 247.1 113.5 247.1 114.4 247.2 115.1 247.3 116.5 247.3 118.5 247.4 119.5 247.5 121 247.5 123.3 247.6 124.8 247.6 126 247.7 127.1 247.8 128.3 247.8 130 248 132.2 248.1 134 248.2 134.4 248.4 134.8 248.5 136.5 248.6 138 248.8 139.2 248.9 141.5 249 143 249.2 144.4 249.3 145.7 249.4 147.2 249.6 149.1 249.7 150.1 249.8 151.1 250 151.8 250.1 153.4 250.2 155.7 250.4 157 250.5 158.1 250.6 159.5 250.8 161 251 162.4 251.2 163.6 251.4 164.9 251.5 166.4 251.7 167.8 251.9 168.6 252.1 170.7 252.3 172.3 252.5 172.9 252.7 175 252.9 176 253 176.9 253.2 179 253.4 180.7 253.6 181.8 253.8 182.6 254 183.9 254.2 185.3 254.3 187 254.5 189.3 254.7 191.3 255 192.7 255.2 193.6 255.5 194.4 255.7 195.9 256 197.4 256.2 199 256.5 200.3 256.7 201.5 257 202.7 257.2 204.1 257.5 205.4 257.7 206.9 258 209.2 258.2 210.5 258.5 211.2 258.7 212.9 259 214.1 259.2 215.4 259.5 217.2 259.8 218.5 260.2 219.6 260.5 220.3 260.8 221.9 261.1 223.4 261.4 224.4 261.7 226.1 262 227.7 262.3 228.7 262.6 229.5 262.9 231 263.2 232.8 263.6 234.4 264.1 235.8 264.8 236.5 265.6 237.1 266.3 239.3 267 241.3 267.7 242 268.5 243.3 269.2 244.5 270.3 244.9 271.6 245.3 272.8 246.6 274 247 275.3 246.9 276.5 248.3 277.9 249.5 279.3 249.5 280.7 249.1 282.1 249.4 283.5 249.1 284.9 249.2 286.3 250.2 287.7 250 289.7 251.2 291.7 251 293.8 250.6 295.8 250.8 297.9 250.4 299.9 250 301.9 250.2 304 249.5 306 248 308 248.1 310.1 248.9 312.1 249.6 314.1 248.4 316.2 247.9 318.2 248.7 320.2 247.8 322.3 246.8 324.3 246.5 326.3 245.8 328.4 245.4 330.4 246 332.4 245.8 334.5 246 336.5 246.3 338.5 245.4 340.5 245 342.5 244.2 344.5 243.6 346.5 243.4 348.5 242.7 350.5 241.5 352.5 241.3 354.5 241 356.5 241.1 358.5 241.4 360.5 240 362.4 238.8 364.4 238.1 366.3 238 368.3 237.8 370.2 237.9 372.2 236.9 374.1 235.3 376.1 234.7 378 234.2 380 234 381.9 233.1 383.9 231.5 385.8 230.9 387.8 230.5 389.7 230.2 391.6 230.5 393.6 228.4 395.5 227.7 397.5 228.9 399.4 228.6 401.3 228.1 403.3 226.5 405.2 226.4 407.2 226.6 409.1 225.2 411 224.7 413 224.2 414.9 222.5 416.8 221.3 418.7 220.5 420.6 219.9 422.6 220.2 424.5 218.4 426.4 217 428.3 217.4 430.2 217.7 432.2 217.1 434.1 215.3" stroke="#8a1a9a" stroke-width="1.4"/>
<path d="M197 28.8L198.1 29.9 199.2 30.5 200.3 30.7 201.4 31.9 202.5 32.8 203.5 31.8 204.6 30 205.6 29.8 206.7 30 208 28.7 209.3 27.9 210.7 27.5 212 27.1 213.4 27.3 214.8 27.9 216.2 28 217.6 28.1 219 28 220.2 28.6 221.3 29.9 222.5 30.3 223.3 31.4 224.1 32.7 224.9 33.9 225.7 35.4 226.5 36.4 227.3 37.6 227.8 38.3 228.3 39.4 228.7 41.1 229.2 41.8 229.7 43.3 230.2 45.2 230.6 46.7 231.1 48.7 231.6 49.9 232.1 50.3 232.6 51.2 233 52.9 233.5 54.4 233.8 55.9 234.1 57.8 234.3 58.9 234.6 60.5 234.9 62 235.2 63 235.4 64.7 235.7 66.2 236 68.2 236.2 69.2 236.5 70.3 236.8 71.5 237 72.8 237.3 74.9 237.6 76.1 237.8 76.8 238.1 77.8 238.4 80 238.6 82 238.8 82.5 239.1 83.7 239.3 85.3 239.5 86.7 239.8 88.2 240 89.2 240.2 91 240.5 92.7 240.7 93.6 240.9 94.6 241.2 95.8 241.4 97.4 241.6 98.9 241.8 100.3 241.9 101.9 241.9 103.4 242 104.6 242.1 106.2 242.1 108 242.2 110.1 242.2 111 242.3 111.8 242.4 113.6 242.4 114.9 242.5 115.4 242.6 115.9 242.6 118 242.7 120.8 242.7 122.5 242.8 123.1 242.9 124.3 242.9 126 243 126.9 243 128.4 243.1 129.9 243.2 130.9 243.3 132.7 243.5 134.1 243.6 136.2 243.7 137.9 243.8 138.3 243.9 139.9 244.1 141.7 244.2 142.6 244.3 144 244.4 145.8 244.5 146.4 244.7 147.6 244.8 149.7 244.9 150.9 245 152.1 245.1 154.2 245.3 155.6 245.4 155.9 245.5 157.7 245.6 159.8 245.8 161 245.9 162.6 246.1 163.3 246.3 164.6 246.4 165.8 246.6 167.1 246.7 169.7 246.9 171 247.1 172.3 247.2 173.6 247.4 174.5 247.6 176.5 247.7 178 247.9 179.7 248.1 180.7 248.2 182.3 248.4 183.5 248.6 184.1 248.7 185.8 248.9 187.1 249 188.4 249.2 189.9 249.4 191.8 249.7 192.6 249.9 193.1 250.1 195.5 250.3 197.6 250.6 198.4 250.8 200.3 251 202.3 251.2 203.7 251.5 204.3 251.7 205.1 251.9 207.7 252.1 209.4 252.4 210 252.6 211.5 252.8 212.5 253 212.7 253.3 214.2 253.6 216.5 253.9 218.3 254.2 220.2 254.5 221.7 254.8 222.3 255.1 222.3 255.4 224.1 255.8 226.6 256.1 227.5 256.4 228.9 256.7 230.7 257 231.7 257.3 232.9 257.6 234.6 258.2 235.3 259 236.1 259.8 237.2 260.6 238.5 261.3 240.5 262.1 241.8 262.9 242.2 263.7 243.4 264.8 244.8 266.1 245.7 267.4 246.5 268.6 246.7 269.9 245.9 271.2 246.4 272.5 248.6 273.8 248.8 275.2 248.3 276.6 248.8 278 248.8 279.4 249.7 280.8 250 282.2 249.9 283.6 250.3 285 249.9 286.4 250.1 288.4 251.8 290.5 250.4 292.5 250.6 294.5 250.7 296.6 250 298.6 250.1 300.6 249.7 302.6 248.9 304.7 248.5 306.7 250.6 308.7 249.1 310.7 247.4 312.8 248 314.8 247.5 316.8 248.1 318.8 248.2 320.9 247.9 322.9 247.2 324.9 246.5 326.9 248.6 329 247.4 331 244.3 333 245.5 335 246.2 337 244.6 339 244.1 341 244.3 343 244.5 345 244.7 347 244.5 348.9 243.5 350.9 242 352.9 241.5 354.9 242.2 356.9 242.1 358.9 240.2 360.9 239.7 362.8 239.7 364.7 239.1 366.7 239 368.6 237.9 370.6 236.4 372.5 236.3 374.4 236 376.4 235.8 378.3 234.8 380.3 233.7 382.2 232.5 384.1 232.5 386.1 232.5 388 231.8 389.9 231.6 391.9 229.3 393.8 229.3 395.7 229.8 397.7 228.5 399.6 227.2 401.5 227.1 403.5 227.1 405.4 226.2 407.3 226.1 409.3 225.1 411.2 223.3 413.1 222.2 415 222.7 416.9 222.3 418.8 220.6 420.7 220.1 422.6 219.8 424.5 219.2 426.5 220.1 428.4 219.1 430.3 218.2 432.2 218.5 434.1 216.3" stroke="#e0205a" stroke-width="1.4"/>
<path d="M197 28.8L198.1 29.3 199.2 30 200.3 31.3 201.4 31.7 202.6 32.1 203.8 32.6 205.1 31.9 206.3 30.1 207.6 28.6 209 29.3 210.5 30.2 211.9 30.5 213.3 31.1 214.7 30.9 216.1 31 217.5 30.9 218.9 31.5 220.3 30.4 221.7 30.6 223.1 32.3 224.5 32.2 225.8 32.9 226.8 33 227.7 33.6 228.6 35.1 229.5 36.4 230.4 37.6 231.3 38.5 231.9 40.1 232.4 41.4 233 42.3 233.6 44 234.1 44.9 234.7 45.4 235.2 46.8 235.8 48.9 236.3 50.6 236.9 51.5 237.5 53 238 54.6 238.5 55.7 238.8 57.1 239 58.7 239.3 58.7 239.6 60.2 239.9 62.9 240.2 64.6 240.5 65.3 240.8 66.7 241.1 68.2 241.3 69.9 241.6 71.4 241.9 71.9 242.2 73.7 242.5 74.8 242.8 75.9 243.1 77.4 243.4 78.8 243.6 80.4 243.9 81.8 244.2 83.1 244.4 84.4 244.7 85.7 244.9 86.9 245.2 89 245.5 90.3 245.7 91 246 92.1 246.2 93.6 246.5 94.7 246.7 96.2 247 98.5 247.3 99.6 247.4 100.5 247.4 102.4 247.5 104.3 247.5 105.4 247.6 107 247.7 108.5 247.7 109.8 247.8 111.2 247.8 113.2 247.9 114.2 248 115.7 248 117.2 248.1 118 248.1 119.1 248.2 120.2 248.3 121.2 248.3 123.4 248.4 125.2 248.5 126.4 248.5 128.6 248.6 130.3 248.7 130.9 248.8 131.7 248.9 133.4 249.1 134.7 249.2 136.3 249.4 137.9 249.5 140 249.6 141.6 249.8 142.1 249.9 143 250 144.4 250.2 145.9 250.3 147.2 250.5 149.5 250.6 151.6 250.7 152.2 250.9 152.6 251 154.2 251.1 156.3 251.3 157.7 251.4 159.2 251.6 160.3 251.7 161.4 251.9 163 252.1 164 252.3 165.3 252.5 167.1 252.7 168.5 252.9 170.1 253.1 171.3 253.3 172 253.5 172.9 253.6 174.9 253.8 177.2 254 178.9 254.2 180.7 254.4 181.3 254.6 182.7 254.8 184.6 255 185.1 255.2 187 255.4 189.2 255.5 190 255.8 190.8 256 192.4 256.3 193.9 256.5 194.8 256.8 196.2 257.1 198 257.3 198.7 257.6 199.8 257.8 201.7 258.1 203.7 258.3 204.7 258.6 205.7 258.8 207.1 259.1 209.1 259.3 210.9 259.6 211.2 259.8 213.1 260.1 214.5 260.4 215.1 260.7 217.1 261 219.1 261.3 221.1 261.6 221.7 261.9 222.3 262.3 224.3 262.6 225.1 262.9 226.6 263.2 229 263.5 229.2 263.8 230.1 264.1 232 264.4 233.6 264.8 235.9 265.4 237.1 266.1 237.6 266.7 239 267.3 240.5 268 241.4 268.6 242.4 269.2 243.9 269.9 245.6 270.7 246 271.7 246.5 272.7 248 273.8 249.8 274.8 250.8 275.8 251.2 276.8 252.4 278.1 253.3 279.5 253.9 280.9 253.6 282.3 253 283.7 253.8 285.1 253.9 286.5 253.9 287.9 254.3 289.9 253.5 291.9 254.6 294 253.7 296 253.1 298 253.9 300.1 253.4 302.1 252.8 304.1 253.3 306.2 250.9 308.2 250.3 310.2 252 312.3 251.7 314.3 251.3 316.3 251.5 318.4 251 320.4 250 322.4 250.8 324.5 251.1 326.5 250.5 328.5 250.4 330.5 249.4 332.6 250.6 334.6 250.3 336.6 249 338.6 249.8 340.6 249.6 342.6 248.6 344.6 247.2 346.6 247.8 348.6 248.1 350.6 246.2 352.6 245.4 354.6 245.2 356.6 244.9 358.6 243.8 360.6 242.5 362.5 243.5 364.5 244 366.4 242.9 368.4 241.3 370.3 239.6 372.2 239.7 374.2 240.4 376.1 239.9 378.1 238.9 380 237.6 382 236.8 383.9 237.4 385.9 236.3 387.8 235 389.8 235.4 391.7 235.5 393.6 233.6 395.6 232.3 397.5 232.4 399.5 230.2 401.4 229.1 403.3 230.4 405.3 231 407.2 229.4 409.2 227.7 411.1 228 413 228.6 414.9 227.2 416.8 227 418.7 226.6 420.7 224.2 422.6 223.4 424.5 222.2 426.4 222 428.3 221.9 430.2 220.2 432.2 220.4 434.1 219.9" stroke="#8a1a9a" stroke-width="1.4"/>
<path d="M197 29.1L198.1 30.2 199.2 29.8 200.3 30.2 201.4 32.3 202.6 33.1 203.7 32.3 204.9 30.9 206 30.1 207.3 30.1 208.7 29.8 210.1 29.2 211.5 29.1 212.9 29.6 214.3 29.3 215.7 28.9 217.1 30.2 218.4 31 219.6 31.6 220.7 32.9 221.5 34.2 222.3 34.6 223.1 34.9 223.9 36.1 224.7 37.5 225.4 38.1 225.9 39.7 226.3 41.3 226.8 43 227.3 44.8 227.7 46 228.2 47 228.7 47.7 229.1 48.6 229.6 50 230.1 51.7 230.5 53.7 231 54.4 231.3 55.5 231.5 57.9 231.8 58.4 232 59.3 232.3 61.6 232.6 62.9 232.8 64.2 233.1 66 233.3 67.7 233.6 68.7 233.9 70.1 234.1 71.7 234.4 72.5 234.6 73.9 234.9 76 235.1 77.7 235.4 78.5 235.7 79.1 235.9 80.6 236.1 82.5 236.3 83.9 236.5 85.2 236.8 86.7 237 88.6 237.2 89.8 237.4 90.9 237.6 92.5 237.9 94.1 238.1 95.4 238.3 97 238.5 98.3 238.8 99.6 238.9 101.9 238.9 102.9 239 103.5 239.1 105.2 239.1 107 239.2 108.8 239.2 109.7 239.3 110.3 239.4 111.9 239.4 114.1 239.5 115.2 239.5 116.1 239.6 118.4 239.7 120 239.7 120.5 239.8 121.5 239.9 123.8 239.9 125.4 240 127 240 128 240.1 128.5 240.2 129.1 240.3 131 240.4 133.2 240.5 133.9 240.6 135.5 240.7 137.5 240.8 138.6 241 140.4 241.1 142.2 241.2 143.8 241.3 145.4 241.4 145.7 241.5 146.8 241.6 149 241.7 150.3 241.8 151.7 241.9 153.6 242.1 154.7 242.2 156.3 242.3 157.2 242.4 158.2 242.5 160 242.7 161.3 242.8 162.5 243 164.1 243.1 165.7 243.3 167 243.4 169 243.6 170 243.7 170.8 243.9 172.6 244 174.4 244.2 175.9 244.3 177.4 244.5 179.2 244.6 180.6 244.8 182.2 244.9 183.1 245.1 184.5 245.2 186 245.4 187.2 245.5 189.2 245.7 190.2 245.9 191.2 246.1 192.6 246.3 193.3 246.5 195.1 246.7 197 246.9 198.4 247.1 199.7 247.4 200.8 247.6 202.3 247.8 203.5 248 205.2 248.2 206.8 248.4 208.3 248.6 210.1 248.8 211 249 211.5 249.2 213.8 249.4 215.8 249.7 216.9 250.1 217.6 250.4 217.9 250.7 220.3 251 222.5 251.3 223.3 251.6 224.5 251.9 226.3 252.2 227.5 252.5 228.9 252.8 229.9 253.2 230.7 253.5 232.4 253.8 233.5 254.3 234.9 255 236.2 255.8 237.7 256.6 239.4 257.3 240.6 258.1 241.8 258.9 242.4 259.6 243.5 260.4 245.4 261.5 245.9 262.8 246.3 264 247.2 265.3 248 266.5 248.5 267.8 248.6 269 249 270.3 249.6 271.6 250.9 273 251.4 274.4 251.2 275.8 251.9 277.2 252.1 278.6 251 280 251 281.4 251.8 282.8 251.6 284.2 251.8 285.6 252.4 287.7 253.8 289.7 253.6 291.7 252.7 293.8 252.4 295.8 252.2 297.9 251.5 299.9 250.9 301.9 251.4 304 250.5 306 249.4 308 250.2 310.1 251.5 312.1 252.6 314.1 251 316.2 249.1 318.2 249.4 320.2 249.6 322.3 248.8 324.3 248.8 326.4 249.8 328.4 249.9 330.4 248.4 332.5 248.8 334.5 249.6 336.5 249.4 338.5 248.9 340.5 249 342.5 247.5 344.5 245.6 346.5 246.5 348.5 246.7 350.5 245.7 352.5 245.1 354.5 245 356.5 243.4 358.5 242.7 360.5 242.8 362.4 241.9 364.4 242.5 366.3 241.8 368.3 240.7 370.2 240.2 372.2 239 374.1 238 376.1 236.7 378 236.3 380 236.5 381.9 235.9 383.9 234.9 385.8 234.1 387.8 233.4 389.7 233 391.6 233.1 393.6 233.3 395.5 232.9 397.5 231.6 399.4 230.4 401.4 230.8 403.3 230.2 405.2 227.6 407.2 227.9 409.1 228.8 411.1 227.2 413 226.8 414.9 225.4 416.8 223.6 418.7 223.9 420.6 223.8 422.6 222.2 424.5 221.3 426.4 222 428.3 220.8 430.2 220.1 432.2 219.5 434.1 219" stroke="#15157a" stroke-width="1.4"/>
<path d="M197 29L198.1 29.5 199.2 30.6 200.3 31.2 201.4 32.5 202.5 32.6 203.5 31.9 204.5 31.2 205.5 29.2 206.5 28 207.7 27.4 209 26.3 210.3 26.5 211.7 26.8 213 26.7 214.4 26.6 215.8 27.3 217.2 27.4 218.5 26.9 219.6 28.5 220.7 30.5 221.7 30.9 222.4 31.8 223.2 32.9 224 34 224.7 35.1 225.5 37 226.2 38 226.7 38.7 227.1 40.6 227.6 41.3 228 42.9 228.5 44.5 228.9 45.7 229.4 47.4 229.9 48 230.3 48.9 230.8 50.6 231.2 52.4 231.7 53.9 232.1 55.2 232.4 57.3 232.7 58.5 232.9 58.1 233.2 59.3 233.5 61.2 233.7 62.9 234 64.1 234.2 65.4 234.5 67.1 234.8 68.3 235 70.2 235.3 72 235.6 73.3 235.8 74.6 236.1 75.1 236.3 76.4 236.6 79.1 236.9 80.7 237.1 81.4 237.3 81.9 237.6 84 237.8 85.8 238 87 238.2 88.5 238.5 90.2 238.7 91.4 238.9 91.9 239.1 93.7 239.4 95.8 239.6 96.7 239.8 98.3 240 99.8 240.2 101.4 240.2 102.7 240.3 103.6 240.3 104.6 240.4 106.4 240.5 108 240.5 109.6 240.6 111.6 240.6 112.2 240.7 113.7 240.8 115.7 240.8 116 240.9 117.2 241 118.9 241 120.5 241.1 122.6 241.1 124.4 241.2 125.3 241.3 125.3 241.3 127.4 241.4 129.4 241.5 130.6 241.6 132.2 241.7 133.1 241.8 134.6 241.9 136.3 242 138 242.1 138.7 242.3 140 242.4 142.5 242.5 144.6 242.6 145.1 242.7 145.6 242.8 147.1 243 149.7 243.1 151 243.2 151.9 243.3 153.2 243.4 154.3 243.5 155.6 243.6 157.2 243.8 159.6 243.9 161.2 244 161.9 244.2 163.3 244.3 164.7 244.5 165.5 244.7 167.7 244.8 169.4 245 170.5 245.1 171.4 245.3 172.6 245.4 174.4 245.6 175.6 245.8 176.9 245.9 178.2 246.1 180.3 246.2 181.6 246.4 182.5 246.5 183.9 246.7 185.3 246.9 186.4 247 187.3 247.2 189 247.4 191.4 247.6 192.8 247.8 193.6 248 195.3 248.2 196.6 248.4 198.1 248.7 199.8 248.9 200.9 249.1 202.3 249.3 203.5 249.5 205.1 249.7 205.8 250 206.4 250.2 208.8 250.4 210 250.6 211.3 250.8 213.4 251 214 251.3 215.1 251.6 217.8 251.9 219.7 252.3 220.8 252.6 221.8 252.9 223.1 253.2 224.4 253.5 225.5 253.8 227.6 254.1 229.7 254.4 230.8 254.7 231.3 255 232.2 255.4 233.6 255.8 235.1 256.6 236.9 257.3 238.5 258.1 239.7 258.9 240.4 259.6 241.7 260.4 243.8 261.2 243.9 261.9 244.6 263.1 246 264.4 246.5 265.6 247.1 266.9 247.6 268.2 248 269.4 248.4 270.7 249.2 272 250.5 273.3 250.7 274.7 250.5 276.1 250.6 277.5 250.2 278.9 250.6 280.4 251.1 281.8 250.3 283.2 250.4 284.6 251.4 286 251.4 288 253.8 290 252.1 292.1 251.1 294.1 251 296.1 250.9 298.2 250.6 300.2 251.5 302.2 251.5 304.3 250.9 306.3 251.3 308.3 250.4 310.4 249.6 312.4 249.1 314.4 249 316.5 249 318.5 248.7 320.5 248.9 322.5 249.5 324.6 249.1 326.6 248.5 328.6 247.4 330.7 247.4 332.7 248.9 334.7 247.1 336.7 246 338.7 246.7 340.7 244.8 342.7 245.8 344.7 246.6 346.7 246.1 348.7 246 350.7 245 352.7 244.4 354.7 243.5 356.7 243.4 358.7 242 360.6 240.8 362.6 239.8 364.5 238.8 366.5 239.4 368.4 238.9 370.4 238.8 372.3 238.1 374.3 237.2 376.2 236.4 378.2 235.2 380.1 235.5 382 234.8 384 233.9 385.9 234.3 387.9 233.9 389.8 233.5 391.7 232.4 393.7 231.5 395.6 231.8 397.6 231.1 399.5 229.3 401.4 227.4 403.4 228.3 405.3 228.3 407.2 226.4 409.2 225.9 411.1 226.5 413 226.1 414.9 224.7 416.9 223.5 418.8 223.6 420.7 222.2 422.6 220.8 424.5 221.2 426.4 221.3 428.3 220.5 430.3 219.2 432.2 219 434.1 218.2" stroke="#ff3a20" stroke-width="1.4"/>
<path d="M197 29.2L198.1 30.7 199.2 30.6 200.3 31.1 201.4 32.8 202.5 32.7 203.7 31.7 204.9 30.6 206.1 30.2 207.3 30.2 208.7 29.6 210.1 29.7 211.5 29.9 212.9 29.9 214.3 29.7 215.7 30 217.1 30.1 218.5 30.2 219.9 30.6 221.4 30 222.8 29.4 224.1 30.5 225.5 30.9 226.8 30.7 228.2 31.5 229.3 32.7 230.2 33.4 231.1 34 232 36 232.9 37.7 233.8 38 234.5 38.4 235.1 40 235.7 41.6 236.3 43.3 236.9 45 237.4 45.9 238 47.5 238.6 48.3 239.2 48.7 239.8 50.4 240.3 52.3 240.9 53.6 241.5 55.4 241.9 56 242.2 56.5 242.5 58.2 242.8 59.5 243.1 60.5 243.5 62.2 243.8 63.8 244.1 65.1 244.4 67.4 244.7 69.3 245 70.7 245.3 71.5 245.6 72.5 245.9 73.5 246.2 74.6 246.5 76.4 246.8 78.1 247.1 80 247.4 81 247.6 81.8 247.9 83.3 248.2 84.3 248.5 85.6 248.7 87.1 249 88.9 249.3 90.8 249.6 91.6 249.8 92.2 250.1 94.2 250.4 96.2 250.7 97 250.9 98.2 251.2 100.2 251.3 101.8 251.4 103 251.4 104.2 251.5 105.3 251.6 106.5 251.6 107.7 251.7 109.6 251.7 111.3 251.8 112.5 251.9 113.9 251.9 115.4 252 116.9 252.1 118 252.1 119.8 252.2 121.5 252.2 122.4 252.3 123.4 252.4 124.9 252.4 127 252.5 128.7 252.5 129.9 252.6 130.4 252.8 131.5 252.9 133 253.1 134.1 253.2 136.3 253.4 138.4 253.5 139.9 253.7 140.8 253.8 141.6 254 143.2 254.1 145.3 254.3 146.5 254.4 147.5 254.6 149.9 254.7 151.3 254.9 151.9 255 153 255.2 154.7 255.3 155.9 255.5 156.7 255.6 158.2 255.8 159.7 256 161.4 256.2 162.1 256.4 163.7 256.6 166.2 256.8 167.7 257 168.6 257.2 169 257.4 171.5 257.7 173.3 257.9 174.2 258.1 175.4 258.3 175.2 258.5 177.3 258.7 180.3 258.9 181.5 259.1 182.9 259.3 184.4 259.5 185.1 259.7 186.3 259.9 188.2 260.1 189.5 260.4 190.9 260.7 192.2 260.9 193 261.2 194.8 261.5 197.2 261.8 198.6 262 199.5 262.3 200.8 262.6 202.3 262.9 203.1 263.2 204 263.4 205.2 263.7 206.5 264 208.6 264.3 210.5 264.5 212 264.8 213.4 265.1 214.9 265.4 215.9 265.7 216.3 266 217.3 266.3 219.7 266.6 221.6 266.9 222.9 267.2 224.2 267.5 225.5 267.8 227 268.2 228.1 268.5 229.7 268.8 231.2 269.1 232 269.4 233.6 269.7 235.8 270.4 236.5 271 236.6 271.7 238.4 272.3 240 273 241 273.6 241.6 274.3 243.2 275.1 244.9 276.1 245.6 277.2 246.5 278.3 247.3 279.4 247.7 280.6 248.7 282 249.4 283.4 249.2 284.8 249.8 286.2 250.4 287.5 250.8 288.9 250.9 291 251.5 293 250.4 295 249.8 297 249.9 299 251.3 301 251.2 303 249.6 305.1 247.9 307.1 248.2 309.1 248.2 311.1 248.1 313.1 249.3 315.1 249 317.2 248.3 319.2 247.4 321.2 247.3 323.2 247.7 325.2 247.1 327.3 246.8 329.3 247.7 331.3 248.2 333.3 246.6 335.3 246.3 337.3 245.2 339.3 243.3 341.3 243.2 343.3 243.3 345.2 244.5 347.2 244.1 349.2 242 351.2 242.5 353.2 242.6 355.1 241.7 357.1 241.4 359.1 240.6 361.1 240.4 363 239.9 364.9 238.7 366.9 238.6 368.8 238.3 370.7 237.2 372.7 235.6 374.6 236.4 376.5 237.2 378.5 235.7 380.4 235.6 382.4 234.2 384.3 232.5 386.2 231.9 388.1 231.4 390.1 232.3 392 232 393.9 231.8 395.8 231.2 397.8 229.6 399.7 229.5 401.6 227.5 403.6 225.7 405.5 226.7 407.4 225.4 409.3 224 411.2 224.1 413.2 223.8 415.1 222.5 417 222 418.9 222.2 420.8 221.1 422.7 220.6 424.6 219.8 426.5 219.3 428.4 218.5 430.3 217.5 432.2 217.5 434.1 216.6" stroke="#15157a" stroke-width="1.4"/>
<path d="M197 29.5L198.1 30.8 199.2 31.1 200.3 32 201.4 32.7 202.5 32.2 203.7 31.4 204.8 30.6 206 30.6 207.1 29.6 208.5 29 209.9 28.7 211.3 29 212.7 29.1 214.1 29 215.5 29.3 216.9 29.9 218.3 30 219.5 30.2 220.7 31.3 221.7 32.6 222.5 34 223.3 35.5 224.1 36.3 224.9 37.2 225.7 38.5 226.3 39.2 226.8 40.6 227.2 42.5 227.7 43.5 228.2 45.2 228.7 45.2 229.1 45.8 229.6 48.2 230.1 49.2 230.5 50.6 231 52.4 231.5 54.3 231.9 55.7 232.2 56.5 232.5 57.5 232.7 59.3 233 61.3 233.2 62.3 233.5 63.6 233.8 64.6 234 65.5 234.3 66.6 234.6 67.8 234.8 70.8 235.1 72.2 235.3 72.5 235.6 74.4 235.9 76.7 236.1 77.3 236.4 77.9 236.6 80 236.9 81.8 237.1 83.2 237.3 84.9 237.5 85.6 237.8 86.9 238 90 238.2 90.9 238.4 90.7 238.7 92.2 238.9 94.4 239.1 95.7 239.3 95.9 239.6 97.7 239.8 100.5 239.9 102 240 102.4 240 103.4 240.1 105.4 240.1 106.7 240.2 107.6 240.3 109.3 240.3 110.8 240.4 111.7 240.5 113.1 240.5 114.6 240.6 115.6 240.6 117.9 240.7 120 240.8 120.7 240.8 121.5 240.9 122.6 240.9 124 241 125.4 241.1 127.6 241.1 129.3 241.2 130.7 241.3 131.7 241.4 132.9 241.5 134.5 241.7 135.8 241.8 138.1 241.9 139.1 242 140.3 242.1 142.9 242.2 143.9 242.3 144.3 242.4 145.5 242.6 146.9 242.7 148.5 242.8 149.9 242.9 151.7 243 153.6 243.1 153.6 243.2 155.1 243.4 157.7 243.5 157.8 243.6 159.2 243.7 161.8 243.9 163 244 164.1 244.2 165.3 244.4 166.8 244.5 168 244.7 168.7 244.8 170.4 245 172.3 245.1 174.1 245.3 175.6 245.4 176.8 245.6 177.5 245.8 179.9 245.9 181.6 246.1 182.3 246.2 183.3 246.4 184.2 246.5 186.2 246.7 188.1 246.8 189 247 190 247.2 191.7 247.5 193.8 247.7 195.1 247.9 196.7 248.1 198.5 248.3 199.8 248.5 200.9 248.7 201.8 248.9 203 249.2 204.3 249.4 206.1 249.6 207 249.8 208.1 250 210 250.2 211.4 250.4 212.2 250.7 213.8 250.9 215.7 251.2 216.6 251.5 218.1 251.8 219.6 252.1 220.7 252.5 222.8 252.8 224 253.1 225.2 253.4 227 253.7 228.3 254 229.6 254.3 231.2 254.6 232.5 254.9 233.3 255.2 234.7 256.1 236.1 256.9 237.1 257.8 238.4 258.7 240 259.5 241.1 260.4 242.1 261.3 242.7 262.3 243.1 263.7 244.4 265.1 244.5 266.4 244.3 267.8 244.3 269.2 244.9 270.5 246 271.9 245.7 273.3 245.4 274.7 246.2 276.1 246.4 277.5 246.5 278.9 247.4 280.3 247.3 281.7 247.5 283.1 247.9 284.5 247.4 285.9 247.2 287.9 246.2 290 246 292 247.1 294 247.2 296.1 248 298.1 247.6 300.2 246.1 302.2 246.5 304.2 246.8 306.2 246.5 308.3 245.1 310.3 244.2 312.3 245.2 314.4 245.2 316.4 246.2 318.4 246.7 320.5 245.1 322.5 244.5 324.5 244.3 326.6 243.6 328.6 243.1 330.6 242.4 332.6 242.3 334.7 242 336.7 241 338.7 241.7 340.7 242.1 342.7 241 344.7 241.4 346.7 242.1 348.6 241.1 350.6 241.2 352.6 240.3 354.6 238.3 356.6 237.9 358.6 238.4 360.6 238.8 362.6 238.5 364.5 236.1 366.4 234.4 368.4 235.2 370.3 233.8 372.3 233 374.2 233.8 376.2 233.5 378.1 232.8 380.1 231.8 382 230.7 384 231 385.9 230.5 387.8 228.9 389.8 228.6 391.7 227.5 393.7 225.8 395.6 225.5 397.5 225.8 399.5 225.5 401.4 224 403.4 222.9 405.3 222.8 407.2 222.8 409.2 222.3 411.1 221.8 413 221 414.9 219.2 416.8 218.7 418.8 218.3 420.7 217.9 422.6 217.3 424.5 216.3 426.4 216.6 428.3 216.3 430.3 214.1 432.2 213.8 434.1 214.1" stroke="#a01010" stroke-width="1.4"/>
<path d="M197 28.6L198.1 29.1 199.2 30.2 200.3 31.8 201.4 33.1 202.4 32.8 203.4 31.8 204.4 31 205.4 30 206.4 28.7 207.4 27.9 208.7 27.4 210 26.1 211.3 25.6 212.7 25.6 214 25.5 215.4 25.4 216.8 25.9 218.2 26.7 219.6 27.4 220.9 27.1 222.1 27.2 223.4 28.3 224.6 29.3 225.5 30.8 226.3 32.4 227.1 33.8 227.9 34.6 228.7 35.3 229.5 36.2 230.3 37.7 230.8 39.1 231.3 39.7 231.8 41.4 232.3 42.9 232.8 43.5 233.3 45.4 233.8 47.6 234.3 49 234.8 50 235.3 50.6 235.8 51.5 236.3 53.4 236.8 55.2 237.2 56.9 237.4 57.8 237.7 58.8 238 60.1 238.3 61.5 238.6 63.4 238.8 65 239.1 66.7 239.4 67.7 239.7 67.8 240 69.5 240.3 71.7 240.5 72.6 240.8 73.8 241.1 75.7 241.4 77 241.7 77.4 242 79 242.2 81.1 242.5 81.9 242.7 83.1 243 85.3 243.2 87.1 243.5 88.6 243.7 89.4 244 90.6 244.2 92.2 244.5 94.2 244.7 95.5 245 96 245.2 97.8 245.5 99.5 245.7 100.2 245.8 100.9 245.8 102.3 245.9 104.6 245.9 106.7 246 107.5 246.1 108.5 246.1 109.3 246.2 110.8 246.3 113.7 246.3 114.8 246.4 115.3 246.4 116.9 246.5 118.4 246.6 119.3 246.6 120.7 246.7 122.7 246.7 124.2 246.8 125.2 246.9 126.2 246.9 128.1 247 129.8 247.1 131.4 247.2 132.8 247.4 133.8 247.5 134.6 247.6 135.8 247.8 137.8 247.9 140 248 141 248.2 142.2 248.3 143.9 248.4 144.5 248.5 146.1 248.7 148 248.8 149.9 248.9 151 249.1 151.6 249.2 153.2 249.3 155 249.5 156.2 249.6 157.8 249.7 159.8 249.9 160.7 250.1 162.9 250.2 164.9 250.4 165.3 250.6 166.8 250.8 167.8 251 168.6 251.2 170 251.3 171.5 251.5 172.6 251.7 173.6 251.9 175.4 252.1 177.3 252.3 178.8 252.4 180.5 252.6 182 252.8 183.5 253 184.6 253.2 185.8 253.3 187.9 253.5 188.9 253.7 190 254 191.9 254.2 193.4 254.4 194.4 254.7 195.3 254.9 196.5 255.2 198.6 255.4 200.7 255.7 201.5 255.9 202.4 256.2 204.1 256.4 205.5 256.7 205.8 256.9 206.7 257.1 209.5 257.4 211.5 257.6 212.2 257.9 213.9 258.1 214.8 258.4 215.8 258.7 217.7 259 218.7 259.4 220 259.7 221.4 260 222.9 260.3 224.7 260.6 225.9 260.9 227.1 261.2 228 261.5 229.4 261.8 231.9 262.1 233.1 262.4 234 262.9 236.1 263.6 237.1 264.4 237.3 265.1 238.5 265.8 240.9 266.5 242.4 267.3 242.5 268 243.9 268.9 245.2 270.1 245.7 271.4 247 272.6 247.3 273.8 246.9 275 248.1 276.3 249.8 277.7 249.7 279.1 249.2 280.5 249.5 281.9 250 283.3 250.5 284.7 250.6 286.1 250.7 287.5 250.5 289.5 249.6 291.5 250.1 293.6 250.1 295.6 249.9 297.7 248.2 299.7 248.9 301.7 250.5 303.8 249.3 305.8 249.1 307.8 248.5 309.9 247.8 311.9 248.8 314 248.8 316 248.4 318 248.2 320.1 248.3 322.1 249 324.1 247 326.2 245.3 328.2 247.1 330.3 246.5 332.3 246 334.3 246.9 336.3 245.8 338.3 245.2 340.3 245.1 342.4 245.6 344.4 244.9 346.4 243 348.4 242.6 350.4 242.8 352.4 242.7 354.4 241.4 356.4 240.9 358.4 240.5 360.4 240.3 362.3 240 364.3 238.7 366.2 238.8 368.2 238.5 370.1 237.6 372.1 236 374 234.6 376 234.1 377.9 234.1 379.9 234.9 381.8 234.9 383.8 234.4 385.7 233.8 387.7 232.7 389.6 230.7 391.6 229.5 393.5 230.5 395.5 231.3 397.4 229.5 399.4 228.4 401.3 229.3 403.2 228 405.2 225.9 407.1 225.4 409.1 225.1 411 224.9 412.9 223.8 414.9 223.3 416.8 223.4 418.7 223.4 420.6 221.2 422.5 220.3 424.5 220.9 426.4 219.3 428.3 218.1 430.2 217.7 432.2 216.6 434.1 214.9" stroke="#5a0a6a" stroke-width="1.4"/>
<path d="M197 29.7L198.1 29.7 199.2 31 200.3 32.3 201.4 32.5 202.5 32.7 203.5 31.8 204.5 30.7 205.5 30.1 206.5 29.5 207.6 27.5 208.9 26.7 210.2 26.8 211.6 25.7 212.9 25.9 214.3 26.9 215.7 26 217.1 26.2 218.5 27 219.9 26.9 221.3 27.8 222.6 28.2 223.9 28.5 225.1 29.1 226.4 29.9 227.4 31.4 228.2 31.9 229.1 32.7 229.9 33.8 230.7 34.8 231.5 36 232.3 37.2 232.8 38.5 233.4 39.7 233.9 41.8 234.4 43.9 234.9 44.3 235.5 45.5 236 47.5 236.5 47.4 237 48.8 237.6 51.1 238.1 51.9 238.6 52.4 239.2 54.1 239.5 56.5 239.8 58.3 240.1 59.3 240.4 59.7 240.7 61.3 241 63.7 241.3 64.4 241.6 65.9 241.9 68.1 242.1 68.9 242.4 69.8 242.7 71.4 243 72.7 243.3 73.7 243.6 74.9 243.9 76.8 244.2 77.9 244.5 78.9 244.8 80.8 245 82.9 245.3 83.9 245.6 84.3 245.8 85.9 246.1 87.7 246.3 89.4 246.6 90.5 246.9 91.3 247.1 92 247.4 94.3 247.7 97 247.9 98.3 248.2 98.9 248.4 100.5 248.5 102 248.5 103.1 248.6 104.1 248.6 105.8 248.7 108.3 248.8 109 248.8 109.7 248.9 111.8 249 114.1 249 115.2 249.1 116.2 249.1 117.2 249.2 117.8 249.3 119.5 249.3 121.5 249.4 122.6 249.4 124.3 249.5 126.8 249.6 127.9 249.6 128.7 249.7 130.4 249.8 131.3 250 132.7 250.1 133.7 250.2 134.7 250.4 136.5 250.5 138.7 250.7 140.3 250.8 141.1 250.9 141.6 251.1 143.2 251.2 145 251.4 146.5 251.5 148.2 251.6 149.3 251.8 150.7 251.9 151.4 252.1 153.3 252.2 154.9 252.3 155.4 252.5 157.6 252.6 159.8 252.8 160.7 253 161.8 253.2 163.7 253.4 165.1 253.6 166.1 253.8 168 254 169.5 254.2 169.8 254.4 171.9 254.6 173.9 254.8 175.4 254.9 177 255.1 177.4 255.3 178.3 255.5 179.3 255.7 180.8 255.9 183 256.1 184.7 256.3 186.5 256.5 187.4 256.7 187.9 256.9 189.5 257.2 191.6 257.4 193.2 257.7 194.4 258 195.7 258.2 196.2 258.5 197.3 258.7 199.7 259 201 259.3 202.3 259.5 204.7 259.8 205.7 260 206.4 260.3 208.2 260.6 209.1 260.8 210.2 261.1 212.8 261.3 214.4 261.6 214.9 261.9 216.4 262.2 218 262.5 218.8 262.8 219.7 263.2 221.9 263.5 223.7 263.8 224.8 264.1 226.4 264.4 227.6 264.7 228.9 265 230.2 265.3 231.2 265.6 233.1 265.9 234.7 266.5 236.2 267.1 237.5 267.8 238.4 268.4 239.5 269.1 241 269.7 242.2 270.4 243 271.1 244.7 271.9 246 272.9 246.9 274 247.9 275.1 248.8 276.1 249.5 277.2 250.2 278.4 250.5 279.8 250.5 281.2 251 282.6 252.1 284 252.2 285.4 251.7 286.8 251.8 288.2 252 290.2 250.8 292.2 252.1 294.3 251.5 296.3 252.4 298.3 252.8 300.4 251.2 302.4 251.7 304.4 251.8 306.5 250.5 308.5 250.8 310.5 251 312.5 250.8 314.6 249.5 316.6 249.4 318.6 250.7 320.6 250.7 322.7 250.1 324.7 248.7 326.7 248.7 328.8 248.9 330.8 249.3 332.8 249.4 334.8 249 336.8 247.9 338.8 246.6 340.8 247 342.8 247.6 344.8 246.4 346.8 246.5 348.8 246 350.8 244.3 352.8 243.9 354.8 243.3 356.8 243.1 358.8 242.9 360.7 242.9 362.7 242.1 364.6 240.2 366.6 240.3 368.5 239.5 370.4 238 372.4 238.1 374.3 238 376.3 237 378.2 236.2 380.2 237 382.1 236.3 384 234 386 233.2 387.9 233.3 389.9 233 391.8 232.7 393.7 232.2 395.7 230.9 397.6 230.3 399.5 229.7 401.5 229.6 403.4 229.7 405.3 229 407.3 226.8 409.2 225.9 411.1 226.4 413 226.7 415 226.6 416.9 225.3 418.8 223.9 420.7 222.4 422.6 221.1 424.5 221.8 426.4 222.6 428.3 221.8 430.3 219.3 432.2 217.7 434.1 217.7" stroke="#15157a" stroke-width="1.4"/>
<path d="M192.4 205.1L192.7 206.3 193 207.3 193.3 208.8 193.6 209.4 193.8 207.4 194.1 206.8 194.3 205.7 194.6 203.9 194.8 202.7 195.1 201.3 195.3 200.1 195.6 198.6 195.8 196.8 196.1 195.6 196.6 194.6 197 193 197.4 192.1 197.8 190.6 198.3 188.5 198.7 187.5 199.1 186.4 199.3 187.2 199.4 188.5 199.5 189.9 199.6 191.3 199.7 192.9 199.8 194.1 199.9 195.9 200 195.9 200.1 198.2 200.2 199.5 200.3 202.7 200.4 202.8 200.5 204.1 200.6 205.8 200.8 207 200.9 208.7 201 210.2 201.1 211.6 201.2 213.6 201.3 213.2 201.4 215.2 201.5 214.9 201.6 217.8 201.7 218.9 201.8 221.5 202 220.8 202.2 223.6 202.5 224.8 202.8 225.7 203 227.8 203.3 229.4 203.5 232.2 203.8 231.7 204.1 233.1 204.3 234.8 204.6 235.7 204.8 238.3 205.1 238.7 205.3 240.1 205.6 242.5 205.9 242.1 206.1 245.2 206.4 245.6 206.9 247.4 207.6 248.7 208.3 249.6 209 251.3 209.7 251.3 210.3 252.2 211 254.3 211.7 255 212.4 256.2 212.7 254.9 212.9 254.6 213.2 253.8 213.4 250.8 213.7 250.2 213.9 249 214.1 247.8 214.2 245.4 214.3 244.3 214.4 242.9 214.5 242.1 214.7 240 214.8 238.3 214.9 238.1 215 236.2 215.2 236.1 215.3 233.7 215.4 231.4 215.5 231.5 215.6 229.2 215.7 227.1 215.8 227.5 215.9 224.8 216 222.9 216.1 222.2 216.2 221.2 216.3 219.1 216.4 218 216.4 217.1 216.5 215.4 216.6 212.5 216.7 212 216.8 210.9 216.9 208.9 217 209.1 217.1 206.8 217.2 205 217.3 205 217.4 201 217.5 201.3 217.6 199.1 217.7 198.6 217.8 195.9 217.9 195.9 218 193.3 218.1 191.8 218.1 192.4 218.2 189.3 218.3 189.8 218.4 187.2 218.5 186.3 218.6 184.1 218.7 183.4 218.8 180.9 218.9 180.8 219 177.9 219.1 176.3 219.2 175.2 219.3 173.6 219.4 172.4 219.5 171.3 219.6 169.5 219.7 168.8 219.8 167.3 219.8 166.3 219.9 165 220 163.2 220.1 161.9 220.2 159.6 220.3 158.1 220.4 158 220.5 155.9 220.6 154.1 220.7 153.5 220.8 151.7 220.9 151.5 221 148.6 221.1 147.1 221.2 145.8 221.3 145.5 221.4 144.1 221.5 143.2 221.5 141.4 221.6 138.9 221.7 135.6 221.8 136.7 221.9 135.3 222 134.3 222.1 132.2 222.2 132 222.5 129.8 223 129 223.4 126.9 223.9 124.5 224.3 124.3 224.8 123.3 225.2 120 225.7 119.5 226.1 119.9 226.6 117.8 227 115.1 227.5 112.8 227.9 113.3 228.4 112.2 228.8 111.4 229.3 110.4 229.7 107.4 230.2 106.3 230.6 104.9 231.1 104.6 231.5 102.1 232 101.6 232.4 99.2 232.6 98.2 232.7 97.4 232.9 96.3 233.1 94.3 233.2 93.4 233.4 90.6 233.6 89.8 233.8 89.1 233.9 87.4 234.1 84.3 234.3 84.3 234.5 82.4 234.6 81.7 234.8 80.3 235 78.8 235.1 77.1 235.3 76.4 235.5 76.2 235.7 73.7 235.8 71.9 236 70.2 236.3 69.2 236.6 67.6 237 66.1 237.3 64.2 237.6 63.9 238 62.2 238.3 60.5 238.6 59.2 238.9 59.4 239.3 56 239.6 55.5 239.9 54.1 240.3 51.9 240.6 51.9 240.9 48.3 241.3 48.2 241.6 47.3 241.9 46.5 242.3 43.7 242.6 41.5 242.9 41.7 243.2 39.4 243.6 37.1 243.9 36.7 244.2 35.9 244.6 34.5 244.9 33.1 245.2 30.6 245.6 30.2 245.9 29 246.2 28.7 246.6 26.4 246.9 25.2 247.2 24.1" stroke="#15155a" stroke-width="1.7"/>
<path d="M247.2 24.1L248.7 27.8 250.9 31.8 252.2 35.1 254.1 34.5 255.3 38.5 257.2 39.8 258.4 44.2 259.3 53.9 261.1 56.5 263.6 60.9 263.9 65.7 266.6 67.8 266.9 74.3 268.9 77.9 271.5 78.9 272.1 81.8 273.1 87.3 273.8 94.8 276.8 96.7 278 95.7 280.3 97.2 280.6 97.5 282.5 102.7 284.3 99.2 286.1 101.4 286.1 99.7 289.4 96.5 291 93.5 292 84.8 294.1 78.2 295.1 69.3 296.6 66.7 299.7 64.3 300.2 64.3 302.4 65.7 303.5 63.8 305.4 66.1 306.4 71.1 309 74.6 308.8 76.9 311.5 76.5 313.6 75.1 313.6 79.4 315 79.2 317.8 82.9 318.9 86.9 320.1 87.2 322.4 92 323.4 92.5 325.3 93.1 326.2 94.7 327.7 97.1 329.6 101.1 330.6 100.2 333.1 100.6 334 98.3 335.2 98.8 336.6 94.4 337.7 93.6 340.5 89.1 341.4 89.8 343.2 88.7 344.8 87.9 346.9 85.1 348 83 349 81.6 350.6 80 352.5 75.8 353.6 77.9 356.3 76.8 356.8 79.1 358.1 80.8 360 78.2 361.9 82.8 363.5 80.7 363.9 81 366.5 85.7 368.1 84.2 369.1 86.1 370.8 82.5 372.4 86.5 372.3 87.2 375.7 91.3 376.9 94.8 378 89.9 379.8 89.6 381.6 92 382.9 92.9 384 92.9 385.6 90.2 386.8 91.9 389.4 94.2 389.7 90.6 392.1 92.3 393 96 394.2 95.9 396.2 93.9 397.9 92.6 400 90.9 401.6 92.1 401.8 93.7 403.2 96.6 405.8 96.5 406.9 96.2 408.4 97.3 410 94.6 411.5 93.1 413.6 92.7 414.5 95.3 416.4 96.3 418.4 95 419.2 93.8 420.9 92.4 422.7 93.4 423.2 99.2 425.5 99.8 426.5 100.3 427.5 96.8 429.2 100.9 431.9 97.1 432.6 97.4 434.6 96" stroke="#15155a" stroke-width="1.3"/>
<path d="M192.4 205L192.7 206.2 193 206.8 193.3 208.3 193.6 209.3 193.8 208.1 194.1 206.9 194.3 205.2 194.6 203.9 194.8 202.6 195.1 201.1 195.3 199.8 195.6 198.4 195.8 197.2 196.1 195.8 196.6 194.7 197 193.5 197.4 191.9 197.9 190.2 198.3 188.7 198.7 187.5 199.1 186.2 199.3 187.1 199.4 188.2 199.5 189.9 199.6 191.6 199.7 192.9 199.7 193.9 199.8 194.9 199.9 196.8 200 198.6 200.1 199.3 200.2 202 200.3 201.2 200.4 203.2 200.5 205.3 200.6 205.5 200.7 208.3 200.8 209.4 200.9 211 201 212.6 201.2 214.3 201.5 215.5 201.7 216.8 201.9 216.7 202.2 219.3 202.4 220.2 202.6 221.8 202.8 221.8 203.1 224.3 203.3 226.2 203.5 228.8 203.8 228.4 204.1 229.3 204.7 231.9 205.3 234.5 205.9 235 206.6 235.5 207.2 237.2 207.8 237.7 208.1 237.2 208.4 235.4 208.6 235.7 208.9 232.2 209.1 231.8 209.4 230.3 209.5 228.5 209.6 227.4 209.7 227.5 209.9 223.4 210 223.2 210.1 222.3 210.2 219.5 210.4 217.9 210.5 216.1 210.6 217.4 210.7 215 210.9 212.7 211 211.4 211.1 210.1 211.3 209.2 211.4 206.9 211.5 206.6 211.7 205.3 211.8 204.4 211.9 202.3 212.1 201.1 212.2 199.5 212.3 198.6 212.4 196.7 212.6 194.7 212.7 193.1 212.8 191.7 213 190.8 213.1 188.7 213.2 187.8 213.4 185.9 213.5 185.1 213.6 183.6 213.8 182.4 213.9 181.7 214 179.5 214.2 176.8 214.3 177.1 214.4 175.3 214.6 174 214.7 172.3 214.8 170.5 214.9 168.6 215.1 168.5 215.2 167.4 215.3 164.1 215.5 163.6 215.6 161.1 215.7 159.9 215.9 160.4 216 158.2 216.1 158 216.3 154.4 216.4 154.2 216.5 153.4 216.7 152 216.8 151.3 216.9 148.8 217.1 147.4 217.2 146 217.3 144.8 217.5 143.1 217.6 141.5 217.7 139.9 217.8 139.2 218 136.9 218.1 135.2 218.2 135.1 218.4 132.8 218.5 131.4 218.6 130.5 218.9 128.5 219.2 126.8 219.5 126.8 219.8 125.5 220 122.6 220.3 121.8 220.6 120.9 220.9 120.1 221.2 118.3 221.5 117 221.8 114.7 222 113.8 222.3 113 222.6 110.1 222.9 110.2 223.2 108.3 223.5 106.3 223.8 105.8 224 104.3 224.3 102.1 224.6 101.1 224.9 99.2 225 98.2 225.2 96.2 225.4 94.5 225.5 94.8 225.7 91.6 225.9 90.4 226 89.3 226.2 90.1 226.4 86.1 226.5 85.5 226.7 83.9 226.9 83.6 227 81 227.2 81.1 227.4 78.8 227.5 78.3 227.7 76.2 227.9 74.5 228 72.2 228.2 71.3 228.4 70.2 228.8 68.8 229.4 68.2 230 66.4 230.5 65.8 231.1 63.7 231.7 62.3 232.2 61.9 232.8 60.2 233.4 59.3 233.9 57.7 234.5 55.7 235.1 55 235.6 53.8 236.2 52.3 236.8 52 237.4 48.1 237.9 48.5 238.5 47.1 239.1 46.5 239.6 44.1 240.2 43.4 240.8 41.4 241.3 39.5 241.9 38.5 242.5 39 243 35.7 243.6 35.7 244.2 33 244.7 33.3 245.3 32 245.9 30.3 246.4 28.5" stroke="#20902a" stroke-width="1.7"/>
<path d="M246.4 28.5L247.5 29.1 249.9 33.9 251.2 34.2 252.6 36.7 254.1 43.1 255.9 49.1 257.5 50.9 258.3 57 260.4 62 260.9 67.4 263.6 66.2 265.5 69.8 266.8 71.7 267.9 77.8 269.6 83.9 271.3 83.4 272.4 90.8 275.3 92.1 275.7 92.5 277.2 86.5 278.3 87.4 280.6 85.6 281.6 88.4 283.7 87.5 285 85.2 285.5 80.7 287.8 75.7 289.8 73.9 291.3 69.9 292.4 70 293 67.9 294.9 68.1 298 67.1 298.8 65.3 300.6 64.9 300.2 65.1 303.2 64.1 304.9 67.4 306.3 69.8 308.2 71.7 310 72.9 311.3 76.9 311.9 74.7 313.2 76.3 315.5 80.4 316.3 79.3 318.7 84.6 321.1 85.6 321.4 85.3 323.9 84.8 325.3 83.1 326.2 82.9 328 88.3 329 84.6 331.1 84.9 333 79.3 333.8 81.4 335.7 83.3 337.1 84.2 339.3 84.7 341.1 85.8 341.6 81.2 342.9 81.3 345.2 82.2 346.4 82.9 348.2 84.9 350.1 82.1 351.3 78 353 81.1 353.5 79 355.6 79.5 357.2 80.6 359 82.3 360.4 81.9 361.8 80.1 362.7 81.6 365.2 84.1 366.8 82.5 367.9 82.8 369.6 84 370.8 85.9 372.1 87.4 373.8 86.7 375 85.7 376.9 84.5 377.7 85 380.3 84.1 382.5 87.7 383.6 87.1 384.8 86.2 386.1 85.3 387.1 87 389.3 84.8 391.6 90.2 392.8 89 393.1 87.9 394.7 87.3 397.2 90.5 397.9 87.5 399.3 88.2 402.3 85.9 402.3 85 404.7 84.9 406.6 85.6 408.4 87.2 408.7 87.5 410.9 85.9 413.2 89.3 413 89.8 415 88.5 417 86.7 418.5 83.6 419.9 80.6 422.2 81.8 423.2 81.5 424.6 85.1 425.6 86 428.2 88.1 429.9 87.4 430.6 90.1 433.4 91.6 434 92.4" stroke="#20902a" stroke-width="1.3"/>
<path d="M192.4 204.8L192.7 206.9 193 208 193.3 208.9 193.6 209.5 193.8 208.4 194.1 206.8 194.3 205.2 194.6 203.8 194.8 202.6 195.1 201.6 195.3 199.9 195.6 198.2 195.8 196.7 196.1 195.4 196.5 194.1 197 193 197.4 191.7 197.8 190.2 198.3 189 198.7 187.4 199.1 185.9 199.3 187.3 199.4 188.7 199.5 189.7 199.7 191 199.8 192.2 199.9 193.5 200 195.5 200.2 197.4 200.3 197.6 200.4 201 200.5 201.5 200.6 202.6 200.8 203.7 200.9 205.2 201 207.2 201.1 207 201.3 211 201.6 210.9 201.9 213.5 202.2 213 202.5 213.9 202.8 215.6 203.1 217.9 203.4 219.5 203.7 220.9 204 223.4 204.3 223 204.6 223.7 205.3 225.5 206 226.3 206.8 228.3 207.6 229.4 208.3 230.3 209.1 231.7 209.5 231.1 209.7 228.8 210 228.8 210.2 225.9 210.5 225.6 210.7 222.5 210.9 222.7 211 221.4 211.1 220.5 211.2 217.6 211.4 216.7 211.5 215 211.6 215 211.7 212.4 211.9 211.3 212 209.7 212.1 208 212.2 207.9 212.4 205.6 212.6 204 212.7 203.7 212.9 201.2 213.1 200.2 213.2 197.5 213.4 196.8 213.6 196.8 213.7 194.8 213.9 193.1 214.1 191 214.3 190.4 214.4 189 214.6 187.7 214.8 186.1 214.9 184.4 215.1 184.1 215.3 181.7 215.4 180.6 215.6 177.1 215.8 177.9 215.9 176.3 216.1 174.7 216.3 174.5 216.5 172.1 216.6 171.5 216.8 169.9 217 168.4 217.1 166.2 217.3 165.7 217.5 164.7 217.6 162.9 217.8 162.2 218 159.1 218.1 157.2 218.3 157.1 218.5 156 218.7 153.8 218.8 152.9 219 150.7 219.2 149.7 219.3 148.6 219.5 147 219.7 146.7 219.8 144.7 220 142.6 220.2 140.7 220.3 140.9 220.5 137.4 220.7 136.7 220.8 136 221 133.5 221.2 132.9 221.4 132.7 221.5 131 221.8 128.6 222.2 127.8 222.5 126.4 222.8 125.8 223.2 123 223.5 121.4 223.8 120.8 224.2 119.4 224.5 116.2 224.8 114.8 225.2 114.4 225.5 112.7 225.8 111.9 226.2 111.3 226.5 108.1 226.8 107.8 227.1 106.5 227.5 104.5 227.8 104.8 228.1 102.8 228.5 100.1 228.8 100.4 229.1 98.5 229.3 98 229.5 95.7 229.8 95.2 230 94.2 230.3 90.9 230.5 90.3 230.8 88.8 231 87.2 231.3 86.3 231.5 85.3 231.7 83.5 232 82.3 232.2 80.5 232.5 79.5 232.7 78.1 233 76.7 233.2 75.6 233.4 74.4 233.7 73.4 233.9 71.2 234.2 69.2 234.6 67.6 235 66.9 235.4 65.6 235.8 66.3 236.3 62.8 236.7 60.3 237.1 60.1 237.5 58.1 237.9 57.2 238.3 55.6 238.7 54.8 239.1 54.3 239.5 52.8 239.9 50.8 240.3 50.5 240.7 48.3 241.2 47.1 241.6 42.8 242 43.3 242.4 42.3 242.8 40.9 243.2 39.4 243.6 38.1 244 36.6 244.4 36.4 244.8 33.7 245.2 32.6 245.6 32.1 246 31.9 246.5 30 246.9 27.1 247.3 26.8" stroke="#900040" stroke-width="1.7"/>
<path d="M247.3 26.8L249.2 28.5 249.8 30.4 252 29.4 253.3 34.5 254.4 36.4 257.1 35 258.2 40.1 260.6 42.4 261.4 44.5 262.7 43.2 264.1 43.6 265.3 45.8 267 44.1 268.6 50.2 270.6 52.9 272.4 56.4 273.9 62.5 274.6 72.5 276.8 75.8 278.5 81.9 281.2 85.2 281.6 84.2 282.1 78.9 284 78.9 285.5 79.8 288.1 80.8 288.7 76.2 291.4 73 291.6 69.5 293.9 66 295.8 62.6 297.1 61.5 299.3 59 300.1 57.3 302 58.3 303.7 56.8 305.7 50.9 306 52 307.2 58 309.8 59.2 311 63.7 312.7 64.8 314.5 67 316.1 69.9 317.1 76.2 319.3 79.8 321.1 78.3 322.7 82.1 323 85.3 325.8 86.2 326.3 84.5 328.9 84.9 329.6 83 331.3 85.7 334.1 83 335 84.8 336.5 81.5 338 79 339.2 77.7 341.5 78.3 342.2 77.1 343.7 79.5 345.9 78.7 346.6 74.8 348.6 71.8 350.4 70.3 351 69.8 353.9 67.2 355 69.6 356.1 70 358 70 358.9 70.5 359.4 73.6 362.4 74.3 364.2 74.1 365.9 77.2 367.1 76.6 368.6 81.1 370.5 79.7 371.7 78 373.1 84 375.4 88.7 376.9 89 378.6 92.6 379.8 91 381.7 93.3 382.8 94.5 383.1 93.1 385.5 93.6 387.8 93.3 389.5 95.1 389.9 96.2 392.3 97.8 392.9 96 395.3 92.7 397.7 91 398.4 91.3 399.9 94.7 401.8 95.9 403 94.8 404.2 98.4 405.5 99.3 406.9 98.3 408.2 97.1 410.2 94.7 411.7 92.4 414.4 93.1 414.9 94.4 416.3 95.7 419.1 98.3 419.4 95 420.9 94.8 422.6 93.6 424.2 96.1 425.2 95.5 426.7 93.9 429 93.1 429.6 93.7 431 96.4 432.9 93.9 434.3 95.4" stroke="#900040" stroke-width="1.3"/>
<path d="M192.4 205.4L192.7 206.5 193 207.5 193.3 208.9 193.6 209.4 193.8 208.1 194.1 206.8 194.3 205.3 194.6 203.9 194.8 203.1 195.1 201.4 195.3 199.7 195.6 198.4 195.8 197.6 196.1 196 196.5 193.7 197 192.3 197.4 191.6 197.8 190.5 198.3 188.8 198.7 187.2 199.1 185.9 199.3 187.2 199.4 188.2 199.5 189.8 199.6 191.9 199.7 193 199.9 193.7 200 195.7 200.1 196.9 200.2 200.1 200.3 200.6 200.4 201.3 200.5 201.8 200.6 203.5 200.8 205.1 200.9 206.9 201 207.9 201.1 211.6 201.2 212.2 201.3 212.3 201.5 214.2 201.8 215.9 202.1 216.8 202.4 217.5 202.6 221.2 202.9 221.2 203.2 222.9 203.5 223.5 203.7 226.2 204 225.9 204.3 228.7 204.6 229.2 204.9 230.2 205.1 230.8 205.8 233.3 206.5 234.5 207.3 235 208 237.5 208.7 237.3 209.5 239.3 210.1 239.8 210.3 237.2 210.6 237.1 210.9 235.1 211.1 234.1 211.4 231.6 211.6 231.6 211.7 228.9 211.8 227.7 211.9 227.4 212.1 225.2 212.2 224.6 212.3 222.7 212.4 221.6 212.6 220.2 212.7 219.4 212.8 218.1 212.9 215.2 213.1 215.1 213.2 213 213.3 211.6 213.4 209.3 213.6 209.4 213.7 208.7 213.8 206.6 214 205.7 214.1 203.2 214.2 201.9 214.3 199.3 214.5 199.7 214.6 197.4 214.7 196.9 214.9 195 215 192.9 215.1 192.9 215.2 189.5 215.4 188.6 215.5 187.6 215.6 186.4 215.7 186 215.9 182.7 216 182.3 216.1 180.4 216.3 179.7 216.4 178.1 216.5 177.1 216.6 175.9 216.8 174.6 216.9 172.6 217 171.2 217.2 169.9 217.3 169.2 217.4 166.2 217.5 165.8 217.7 166 217.8 162.2 217.9 160 218.1 160.1 218.2 159.9 218.3 155.8 218.4 156.1 218.6 154.7 218.7 152.1 218.8 150.9 219 149.2 219.1 148 219.2 147.5 219.3 145.7 219.5 145.1 219.6 143.1 219.7 142.6 219.8 140 220 139 220.1 138.1 220.2 136.2 220.4 135.2 220.5 133.3 220.6 132.7 220.7 129.2 221.2 128.6 221.7 127.6 222.2 127.1 222.7 125 223.2 124.8 223.7 121.9 224.2 120.7 224.7 120.6 225.2 118.2 225.7 116 226.2 115.5 226.7 116.3 227.2 112.2 227.7 111.3 228.2 111.1 228.7 108.7 229.2 109.3 229.7 105.8 230.2 105.7 230.7 103.7 231.2 102.2 231.7 100.7 232.2 101 232.5 98.8 232.7 96.2 233 96.5 233.2 93.6 233.5 93.2 233.7 90.2 234 91.4 234.3 89.4 234.5 87.1 234.8 85.7 235 86.2 235.3 84.9 235.5 82.6 235.8 81 236 78.7 236.3 78 236.6 77 236.8 73.2 237.1 73.7 237.3 70.8 237.6 69.5 237.8 69 238.1 68.8 238.4 66.5 238.7 65.4 239 64.4 239.3 62.3 239.6 60.7 239.9 60 240.2 58.9 240.5 56.3 240.8 55.1 241.1 54.6 241.4 53.7 241.7 51.7 242 50.2 242.3 49.2 242.6 47 242.9 45.5 243.2 45.7 243.5 44.1 243.8 41.8 244.1 40.5 244.4 39.8 244.7 37.8 245 36.2 245.3 35.7 245.6 33.4 245.9 31.7 246.2 30.5 246.5 28.6 246.8 28.1 247.1 26.6 247.4 25.8 247.7 24.1 248 22.9 248.3 21.3 248.6 19.7 248.9 18.5" stroke="#3050ff" stroke-width="1.7"/>
<path d="M248.9 18.5L249.4 22.5 251.6 24.4 254.7 26 254.6 26.2 256.7 31.9 258.4 37.1 259.3 42.6 261 50.4 263.6 55.5 264.3 55.6 265.6 66 266.9 69.3 269.6 77.3 271 81.4 272.1 86.2 274.1 84.3 275.1 91.5 276.6 93.6 277.9 93.7 280.2 99.4 281.2 100.4 282.8 102.2 284.8 98.5 286.6 98.5 286.9 93.9 289.4 94.3 291.2 90.3 292.7 85.5 293.2 80.6 295.9 77.1 297 76.1 299.3 71.1 301.2 68.2 302 62 304 59.9 305 60.7 307.2 63.6 308.8 66.4 310 72.2 311.7 71 312.6 73.6 314.5 74.8 315.2 79.5 318.1 80.8 319.5 88.5 320 95 322.2 97.5 324 99 326.4 97.6 327.2 98 329 94.9 330.5 97.1 331.3 96 333.6 95.4 335.6 92.2 336.9 92.9 337.5 93 339.2 91.2 341.4 87.5 343.7 85.5 343.7 83.2 345.9 83.4 348.2 84.7 349.1 85.1 350.8 83.6 351.6 81.4 353.1 80.5 354.1 81.7 357 83.7 358.5 84.1 360.6 81.7 360.7 83.3 363.4 84 364.4 86.5 366.1 84.2 366.9 83.5 369.2 82.1 370.8 79.6 372.8 81.8 373.9 83.2 375.4 85.2 376.6 87.1 379 85.7 380.7 85.5 381.7 83.6 382.3 88.8 384 88.3 385.6 89 388.4 85.6 388.9 87.6 391 88.7 392.4 87.7 393.7 87.5 395 89.4 396.9 89.8 398.9 89.2 399.9 91.8 400.6 89.4 402.7 94.2 404.6 91 406.2 91.5 406.6 91.5 409 91 410.8 92.6 411.9 97.3 413 95.3 414.8 94.5 416.1 92.2 417.9 93 419.1 94.4 423 93.6 421.9 95.1 423.5 97.2 425.3 97.3 427 97 427.8 100.3 429.1 98.4 431.5 99.1 432.4 99.3 434.7 99.3" stroke="#3050ff" stroke-width="1.3"/>
<path d="M192.4 205.5L192.7 206.4 193 207.8 193.3 209.2 193.6 209.3 193.8 208.3 194.1 206.4 194.3 205 194.6 204 194.8 202.1 195.1 201 195.3 200 195.6 198.6 195.8 197 196.1 195.4 196.5 193.8 197 192.6 197.4 191.3 197.8 189.9 198.3 188.9 198.7 187.9 199.1 186.5 199.3 187.3 199.4 188.6 199.5 190.1 199.6 191.9 199.7 192.9 199.8 193.9 199.9 195.2 200 196.7 200.1 199.3 200.2 199.9 200.3 201.5 200.4 203.1 200.5 204.4 200.6 205.2 200.8 206.8 201 208.3 201.3 210.3 201.5 209.6 201.8 213.3 202 213.2 202.3 216.5 202.5 216.8 202.8 219 203 219.2 203.6 221.7 204.2 222.1 204.9 223.3 205.6 224.6 206.2 224 206.5 223.4 206.8 222 207.1 221.7 207.3 220.1 207.6 219.4 207.8 217.7 207.9 216.8 208.1 214.2 208.2 213.5 208.3 211.5 208.4 209.7 208.6 207.9 208.7 207.6 208.8 205.6 208.9 204.5 209.1 202.8 209.2 201.3 209.3 202.4 209.4 199.2 209.5 197 209.7 196.3 209.8 195 209.9 192.6 210 192.8 210.1 190.2 210.2 189.7 210.3 187.7 210.5 186 210.6 187.2 210.7 183.4 210.8 181.4 210.9 180.6 211 178.9 211.2 178.8 211.3 177 211.4 174.6 211.5 175 211.6 172.4 211.7 170.3 211.9 170.4 212 168.7 212.1 166.2 212.2 164.8 212.3 164 212.4 162.2 212.6 161.6 212.7 160 212.8 157.7 212.9 156.4 213 155.5 213.1 155.1 213.2 152.4 213.4 151.8 213.5 149.6 213.6 148.9 213.7 146.9 213.8 146.1 213.9 143.8 214.1 142.5 214.2 142.8 214.3 140.8 214.4 138 214.5 138.1 214.6 135.9 214.8 135.4 214.9 132.3 215 131.7 215.1 130.1 215.2 128.5 215.4 126.8 215.5 127.4 215.7 124.7 215.8 123.1 215.9 120.9 216.1 121.3 216.2 119.9 216.4 117.6 216.5 115.5 216.6 115.3 216.8 113.5 216.9 111.2 217.1 112.1 217.2 109.8 217.3 107.3 217.5 106 217.6 105.6 217.8 104.5 217.9 102.7 218 101.3 218.1 99.3 218.1 99.5 218.1 96.5 218.1 95.5 218 94.2 218 92.3 218 91.6 218 90.7 218 86.9 217.9 86.7 217.9 86.3 218 86.2 218.2 86.3 218.5 88.5 218.7 89.5 218.9 90.9 219.1 91.8 219.3 94.2 219.6 95.8 219.8 97.4 220 98 220.2 99.3 220.5 101.3 220.7 104.1 220.9 103.2 221.1 104.7 221.3 107.3 221.6 106.8 221.8 107.3 222.5 110.1 223.8 109.8 225.1 109.2 226.1 108.1 226.5 106.9 226.9 104.4 227.3 104.1 227.8 101.5 228.2 99.8 228.6 99.3 229 97.3 229.5 96 229.9 95 230.3 93.8 230.7 92.8 231.2 90.7 231.6 89.6 232 88.6 232.4 87.4 232.9 86.3 233.3 85.1 233.7 83.5 234.1 82.3 234.6 81.1 235 79.3 235.4 78.1 235.8 76 236.3 75.4 236.7 74.5 237.1 72.1 237.5 72.1 238 69.5 238.4 69.2 238.8 68.2 239.1 65.9 239.4 64.2 239.7 63.3 240 61.4 240.3 59.7 240.6 59.6 241 56.3 241.3 56.8 241.6 54.3 241.9 54 242.2 51.7 242.5 51.9 242.8 49 243.2 46.5 243.5 48.4 243.8 45.2 244.1 43.7 244.4 42.4 244.7 40.9 245 39.9 245.3 37.8 245.7 38.3 246 35.1 246.3 34.6 246.6 33.7" stroke="#f07800" stroke-width="1.7"/>
<path d="M246.6 33.7L248.8 36.3 250 44.2 252 51.2 252.7 52.7 254.5 52.1 256.2 58.7 258 62.9 260.4 61.8 261.1 62.2 262.8 63.2 264 62.5 266 72.1 267.1 71.5 270 72.9 271 76 273.2 79.1 275 86 276.1 91.7 277.7 95.3 279.2 97 280.4 97.7 281.1 95.2 283.9 90.5 285 90.1 286.4 85.1 288.2 80.5 290 79.6 291.9 76.8 292.6 77 294.1 71.7 296.8 69.2 298.1 69 299.8 67.7 300.8 66.4 301.8 67.1 304.7 67.6 306.3 66.9 306.9 67.2 309 69.3 310.9 73.4 313.2 76.4 314.1 77.8 315.3 81.9 316.5 84.3 318 86.4 319.7 89 321 92.7 323.2 88.9 324.5 90 325.9 92.5 327.1 95.7 329.2 94.6 330.6 95.5 332.5 94 333.4 92.8 335.8 89.7 336.9 85.3 339.5 83.2 339.7 81.8 342.7 83.8 344.7 81.2 344.8 79.3 347.4 77.6 348.5 75.2 348.9 74.6 350.8 70.4 353.1 70.5 354.3 69 356.2 68.7 357.5 67.4 359.5 69.2 360.2 69.7 361.3 70.3 363.1 71.9 364.9 77.3 366 79.1 368 80.3 369.4 78.8 370.9 79.7 372.6 79.4 374 81.8 376.2 82.9 377.3 85.5 379.2 84.7 379.6 85.6 381.9 85.1 383.1 88.8 383.9 87.7 387.5 85.2 387.3 85.4 389.9 84.7 391.4 87.6 393.2 87.2 393.9 88 394.4 87.9 397.5 89.8 398.7 88.4 400.6 88.8 401.8 87.7 404 90.1 405.2 91.2 406.3 92.6 409.2 92.3 409.2 90.4 410 89.7 412.7 89.5 414.4 92.2 416 93.4 417 92.4 418.8 91.7 419.9 91.7 421.7 92.2 423.8 92.2 424.7 93.2 426.9 93.4 427.9 91.6 429.6 96.5 431 92.6 433.3 94.3 434.3 96" stroke="#f07800" stroke-width="1.3"/>
<path d="M192.4 205.2L192.7 206.8 193 208.6 193.3 209.7 193.6 209.6 193.8 208.2 194.1 207.3 194.3 205.7 194.6 204.5 194.8 203.2 195.1 200.8 195.3 199.4 195.6 199 195.8 197.4 196.1 195.8 196.5 194.4 197 192.9 197.4 191 197.8 189.2 198.2 188.5 198.7 187.5 199.1 185.7 199.3 186.9 199.4 188.8 199.5 189.8 199.6 190.6 199.7 192.4 199.8 194.2 199.9 195.6 200 197.1 200.1 198.1 200.2 200.8 200.3 201.9 200.4 201.5 200.5 203.3 200.6 205.5 200.7 206.3 200.9 208.4 201.1 209.6 201.4 210.2 201.6 212.1 201.9 214 202.1 215 202.4 216.5 202.6 218.1 202.9 219.1 203.2 221.5 203.4 221.1 203.7 223.6 204.4 224.2 205.1 226.1 205.8 227.6 206.4 228.7 207.1 229.9 207.5 229.1 207.7 227.5 208 225.6 208.2 224.9 208.5 223.7 208.7 222.2 208.9 220.4 209 219 209.1 216.1 209.2 215.5 209.4 214.5 209.5 213.9 209.6 212.6 209.7 210.5 209.9 208.3 210 207.9 210.1 206.9 210.2 205.3 210.3 202.9 210.3 201.3 210.3 200 210.3 198.5 210.3 198.5 210.3 196.6 210.3 196.4 210.4 194.7 210.4 192.8 210.4 190.3 210.4 189.8 210.4 188.2 210.4 185.6 210.4 184.3 210.5 183.2 210.5 183.2 210.5 180.6 210.5 178.6 210.5 178.2 210.5 177.1 210.5 174.5 210.6 175.2 210.6 172 210.6 171.8 210.6 170.1 210.6 167.8 210.6 166.8 210.7 165.5 210.7 163.8 210.7 163.1 210.7 161.3 210.7 158.6 210.7 158.5 210.7 156.2 210.8 155.4 210.8 154.3 210.8 152.7 210.8 152.1 210.8 149.9 210.8 148.2 210.8 148.3 210.9 146.3 210.9 144.3 210.9 142.9 210.9 141.3 210.9 140.2 210.9 138.1 210.9 138.5 211 136.8 211 133 211 132.4 211 131.7 211 129.8 211.2 127.4 211.4 128 211.6 125.3 211.8 125.2 212 123.6 212.2 123 212.4 119.9 212.6 120.4 212.9 116.9 213.1 117.4 213.3 115.7 213.5 113.9 213.7 111.5 213.9 111.9 214.1 110 214.3 106.9 214.5 104.9 214.7 104.8 214.9 103.3 215.1 103 215.4 101.2 215.5 99.9 215.6 97.9 215.7 97.5 215.7 95.1 215.8 93 215.9 91 215.9 91.6 216 89.4 216 87.3 216.1 86.5 216.2 85.4 216.2 84.7 216.3 81.4 216.4 81.2 216.4 80.5 216.5 79 216.6 77.8 216.8 79.9 217 79.4 217.2 80.9 217.4 83.5 217.7 85.2 217.9 85.8 218.1 86.7 218.3 87.5 218.6 90.1 218.8 91.3 219 91.7 219.2 93.5 219.4 94.6 219.7 97 219.9 97.9 220.1 100.3 220.3 101.7 220.5 102.4 221.3 104.2 222.1 105.2 222.9 106.7 223.7 106.5 224.5 108.4 225 108 225.5 105.9 226 103.9 226.5 103 227 103.1 227.5 99.9 228 98.5 228.5 98.2 229 96 229.5 93.9 229.9 92.5 230.4 92.3 230.9 90.6 231.4 90.7 231.9 87.9 232.4 86.1 232.9 85.2 233.4 83.6 233.9 83.9 234.4 81.2 234.9 81.5 235.3 79.5 235.8 79.2 236.3 76.4 236.7 75.7 237 72.3 237.4 72.1 237.7 70.5 238 70.5 238.3 68.2 238.6 67.4 238.9 65.1 239.2 63.3 239.5 62.8 239.9 62.3 240.2 60 240.5 59.8 240.8 57.1 241.1 55.7 241.4 54.4 241.7 53 242.1 51.4 242.4 50.3 242.7 48.6 243 47 243.3 47.4 243.6 45.6 243.9 43.4 244.2 41.8 244.6 39.8" stroke="#900040" stroke-width="1.7"/>
<path d="M244.6 39.8L246.1 40.9 247.8 43.3 249.1 46.3 250 45.3 251.2 44.2 253.5 49.5 254.8 51.4 257.5 58.4 257.9 59.1 259.8 61.9 261.1 65.4 261.6 69.5 264.5 69.1 265.4 70.2 266.3 75.2 268.9 78 270.8 84.3 271.6 86.1 273 82.1 274.3 90.6 275.9 95 278.3 97.1 279.2 93.8 280.9 90.4 282.6 92.1 282.1 90.8 285.5 91 287.3 87.9 288.6 86.6 289.2 87.5 291.2 80.7 293.6 79.3 295 76.7 296.6 78.5 297.3 78.9 299.7 76.1 301.9 73 302.7 69.9 305 70.3 306.3 69.9 307.9 70.9 308.6 69.5 310.1 68.3 311.6 69.1 314.2 66.9 315.8 71.3 316 73.6 317.4 78.3 319.7 81.2 321.9 84.3 322.9 85.2 324.6 87.4 326.1 85.9 327.7 85 328.9 83.9 330.8 85.5 332.5 83.1 333.6 84.6 336.2 85.4 336.2 79.3 338.2 75.8 339.5 77.9 342.1 79.2 343.7 81.4 344.2 75.7 346.3 72.6 347.6 68.5 348.6 68.7 350.5 69 352.7 68.7 354.4 71.3 355.2 72.3 357.2 73.5 359.2 72 361.1 71.3 362.1 74.5 363 74.6 364.1 74.1 366.6 79.4 367.9 78.8 369.4 79.4 370.9 79.2 372.5 81.9 374.4 83.5 376.3 84.7 377 85.9 380.1 86.1 381.4 87.1 382 87.2 383.9 85.4 386.1 87 386.3 86.2 388 88.1 389.5 88.6 390.8 89.3 393.3 89.7 394.3 90.2 395.9 91.8 397.4 89.4 398.8 87.7 401.3 87.5 401.8 91.8 403 90.9 404.2 92.5 406.1 91.9 408.1 91.4 409.6 89.8 411.1 89.4 412.3 91.9 414.2 92.3 415.8 96.1 416.4 94.7 418.8 94.9 420.3 95.6 421.5 92.6 423.8 96.1 424.8 92.7 425.9 95.1 428.4 96.3 430.4 99.9 430.3 99 432.5 98.7 434.6 99.2" stroke="#900040" stroke-width="1.3"/>
<path d="M192.4 205.5L192.7 206.3 193 207.6 193.3 209.2 193.6 209.6 193.8 207.6 194.1 206.4 194.3 205.6 194.6 204.2 194.8 202.6 195.1 201.1 195.3 199.4 195.6 198.2 195.8 196.8 196.1 195.3 196.5 194 197 192.7 197.4 191.8 197.8 190.5 198.3 189.3 198.7 188 199.1 186.4 199.3 186.9 199.3 188.3 199.4 189.7 199.5 191.3 199.6 192.6 199.7 193.5 199.8 195 199.8 196.3 199.9 198 200 200.3 200.1 201.8 200.2 200.9 200.3 202.8 200.3 205.6 200.4 206.2 200.5 208.5 200.7 209.6 200.9 211.6 201.1 212 201.3 213.1 201.5 215.5 201.7 216.4 201.9 217.2 202.1 218 202.3 222.9 202.5 221.9 202.8 223.4 203.3 223.5 203.8 225.5 204.4 227.3 205 228.9 205.5 230.5 205.9 228.9 206.2 228.3 206.4 227.4 206.7 224.9 206.9 223.8 207.2 221.3 207.3 220.5 207.4 218.7 207.6 218.7 207.7 216.7 207.8 216.5 207.9 214.2 208.1 213.2 208.2 211.6 208.3 210 208.4 207.7 208.6 208.2 208.7 205.6 208.8 203 208.8 202.4 208.9 200.7 209 200.8 209.1 199.3 209.2 198.2 209.2 197.3 209.3 194 209.4 191.7 209.5 191 209.5 190.5 209.6 187 209.7 187 209.8 186.5 209.9 184 209.9 183.1 210 181.1 210.1 181.5 210.2 180.3 210.2 176.9 210.3 175.6 210.4 174.8 210.5 173.8 210.6 172.2 210.6 171 210.7 169.8 210.8 168.6 210.9 167.6 211 165.1 211 163.2 211.1 162.1 211.2 162.3 211.3 159.9 211.3 158.4 211.4 157.4 211.5 156 211.6 155.3 211.7 151.8 211.7 151.1 211.8 150 211.9 148.7 212 146.4 212 144.2 212.1 143.7 212.2 142 212.3 141 212.4 140.4 212.4 138.7 212.5 136.1 212.6 134.9 212.7 134.2 212.7 133.4 212.8 131.2 212.9 130 213.2 127.4 213.5 126.7 213.8 125.1 214.1 124.4 214.3 122.7 214.6 120.9 214.9 119.4 215.2 118.9 215.5 116.9 215.8 116.8 216 114.7 216.3 113.1 216.6 112.5 216.9 109.7 217.2 109.7 217.4 107.2 217.7 106.8 218 104.5 218.3 102.9 218.6 100.9 218.9 100.8 219 99.7 219 97.1 219.1 97.8 219.1 95.2 219.1 93 219.1 93.7 219.2 90.7 219.2 90.6 219.2 86.2 219.3 88.2 219.3 85.5 219.3 83.9 219.3 82.7 219.4 80.3 219.4 80.3 219.4 78.6 219.4 77.1 219.5 75.1 219.5 73.3 219.5 72.9 219.5 71.8 219.6 70 219.6 68.3 219.6 66.7 219.6 66.1 219.7 65.2 219.7 62.7 219.7 60.8 219.7 61.7 219.8 57.5 219.8 57.4 219.8 55.7 219.8 55.3 219.9 52.9 219.9 50.4 219.9 49.4 219.9 48.8 220 47.3 220 45.7 220.2 47.1 220.5 47.8 220.7 49.3 220.9 51.2 221.1 52.6 221.3 54.3 221.6 55 221.8 58.3 222 57.4 222.2 60.6 222.5 61.8 222.7 63.9 222.9 65.1 223.1 64.7 223.3 67.2 223.6 68.9 223.8 70.4 224 71.5 224.2 72.1 224.4 74.8 224.6 75.2 224.9 76.4 225.1 78.2 225.3 79.2 225.5 80.4 225.7 82.4 225.9 85.4 226.1 85.3 226.3 86.5 226.5 87.5 226.7 89.5 226.9 89.8 227.2 92.3 227.4 93.6 227.6 94.9 227.8 96.5 228 97.5 228.8 97 229.6 95.7 230.5 94.6 231.3 93.1 232.1 92.6 233 90.7 233.8 90.6 234.6 88.5 235.5 88.3 236.3 86.4 237.1 85.1 237.9 83.3 238.8 83.3 239.3 81.9 239.7 80.3 240 79.1 240.3 77.6 240.6 75.5 240.9 74 241.2 73.8 241.5 72.1 241.8 71.7 242.2 70.6 242.5 68.4 242.8 67 243.1 65.5 243.4 63.8 243.7 62 244 59.3 244.4 60.2 244.7 58.7 245 56.9 245.3 55.6 245.6 54.8 245.9 53.4 246.2 51.6 246.6 49.9 246.9 49.1 247.2 47.9" stroke="#6a2ad0" stroke-width="1.7"/>
<path d="M247.2 47.9L248.8 48.6 250.1 52.4 252.7 52 253.1 55.8 254.7 56.2 255.6 59.6 258.7 57.2 259.4 60.9 260.8 65.2 262.1 65.6 263.9 67.7 265.2 71.4 267.5 79.2 268.1 80.4 269.8 83.5 271.2 83.4 273.3 87.2 274.7 83.4 276.5 86.6 277.8 93 279.4 91.7 280.6 89.2 282.6 85 283.9 77.5 285.3 81.4 285.9 80.6 288 79.1 289.4 77.7 290.4 73.9 293.4 69.6 295 68.6 296.4 65.8 297.7 64.3 299.6 63.7 299.7 68.4 302.7 66 302.6 69.7 305.3 74.1 306.8 77.7 308.6 76.8 310.2 77.8 311.8 80.3 312.7 80.1 314.3 83.2 315.7 87.2 317.8 90.6 319.1 92.9 320.1 92.2 322.9 98.2 323.4 100.3 325.3 98.2 326.6 95.7 328.1 95.7 330.3 91.6 331.2 93.4 332.3 92.4 334.2 90.9 335.6 90.2 336.8 84.7 339.5 84.8 341.1 83.2 341.4 80.2 344.3 81.9 346 80.4 345.9 78 348.3 76.8 349.5 75.4 351.5 76.4 351.2 75.1 354.4 72.6 355.5 70.7 357.4 71.8 359.2 74.6 359.2 75.2 361.8 77.5 363.4 78.6 365.3 77.3 367.1 77.7 368.5 77.4 369.3 80.3 371.5 80.2 372.4 80.7 374.7 86.1 375.8 86.6 377.3 88.5 379 87.6 379.8 89.9 381.9 88 383.1 92.8 385.6 92.8 387.4 93.9 387.6 89.7 388.7 89.5 391.5 90.3 392.6 93.9 393.9 91.7 397 91.5 397.2 92.1 398.4 90.1 400.3 90.4 402.1 88.4 404.2 87 405.1 88.1 405.9 86.3 407.8 83.8 410.4 85.3 410.2 84.2 412.6 88.1 414.7 83.9 415.7 83.6 417 80.2 418.2 84.5 420.3 85.1 422 85.4 423.4 84.1 425.3 86.1 426.5 88.1 428.6 90 429.6 91.7 431.5 93.1 432.4 92.5 435 95.1" stroke="#6a2ad0" stroke-width="1.3"/>
<path d="M192.4 205.6L192.7 206.7 193 207.4 193.3 208.9 193.6 209.5 193.8 208.2 194.1 206.8 194.3 205.4 194.6 203.9 194.8 202.4 195.1 201.4 195.3 200.4 195.6 198.4 195.8 196.7 196.1 195.7 196.6 194.4 197 192.9 197.4 191.6 197.9 190.1 198.3 188.9 198.7 188 199.2 186.1 199.3 187.2 199.4 188.7 199.5 189.6 199.6 191.1 199.8 192.8 199.9 194.4 200 195.8 200.1 197.3 200.2 197.8 200.3 200.5 200.4 200.7 200.5 203.1 200.7 203.8 200.8 206 200.9 205.8 201.1 208.7 201.3 209.9 201.6 211.5 201.9 212.7 202.2 214.9 202.5 216.2 202.7 216.3 203 218.1 203.3 218.9 203.6 220.5 203.8 223.5 204.3 222.9 205.1 225.4 205.8 227.1 206.5 227.7 207.3 229.2 207.9 228.5 208.2 227.6 208.4 225.9 208.7 226.1 209 223.6 209.2 221.8 209.4 220.9 209.5 220.3 209.7 217.2 209.8 217.2 209.9 215.4 210 213.8 210.2 212.7 210.3 210.6 210.4 209 210.5 207.3 210.7 207.1 210.8 204.4 210.9 203.6 211 202 211.1 201.8 211.2 198 211.3 198.1 211.4 196.9 211.5 195.7 211.6 194.1 211.7 193.3 211.8 191.2 211.9 189.6 212 188.6 212.1 187.3 212.1 185.8 212.2 184.5 212.3 183.6 212.4 182.4 212.5 179.3 212.6 178.1 212.7 178.6 212.8 175.5 212.9 173 213 172.9 213.1 171.8 213.2 170.9 213.3 169 213.4 167.7 213.5 166.1 213.6 165.2 213.7 162 213.8 161.7 213.9 160.5 214 159 214.1 158.2 214.2 155.2 214.3 155.5 214.3 153.8 214.4 151 214.5 150.3 214.6 148.9 214.7 146.1 214.8 146.2 214.9 144.4 215 142.9 215.1 140.6 215.2 140.7 215.3 140 215.4 138.6 215.5 137.1 215.6 135.2 215.7 134.1 215.8 131.1 215.9 130.3 216.1 129.1 216.5 127.9 216.9 126.2 217.3 125.1 217.7 124.4 218.1 121.6 218.5 121.5 218.9 119.7 219.2 118.7 219.6 117.2 220 115.9 220.4 114.1 220.8 113.6 221.2 112.3 221.6 110.7 222 108.3 222.4 107.4 222.7 106.3 223.1 106.1 223.5 103.9 223.9 102.4 224.3 101.5 224.6 98.5 224.7 98.3 224.8 94.6 224.9 94.8 225 93.8 225.2 91.3 225.3 89.3 225.4 88.5 225.5 88.3 225.6 86.9 225.7 85.5 225.9 83.7 226 83.1 226.1 81.4 226.2 79.2 226.3 78.2 226.4 78.1 226.6 75 226.7 73.2 226.8 71.6 226.9 69.8 227.1 68.9 227.8 69.4 228.4 67.6 229 66.3 229.6 65.2 230.3 63 230.9 61.9 231.5 61 232.2 60.6 232.8 58 233.4 56.2 234 55.2 234.7 55.5 235.3 53.2 235.9 51.2 236.6 51 237.2 50 237.8 47.7 238.5 46.5 239.1 45 239.7 43.3 240.3 42.9 241 42.4 241.6 41 242.2 39.3 242.9 37.1 243.5 36.9 244.1 36.2 244.7 35" stroke="#1a1a8c" stroke-width="1.7"/>
<path d="M244.7 35L245.9 33.3 247.7 38 250.3 45.2 251.3 44.6 251.8 43.1 253.1 46.1 255.1 47.5 256 55.3 257.6 55.9 260.3 57.4 261.8 52.4 263.2 50.2 265.1 53.3 264.9 54.5 267.6 59.3 268.8 66.6 271.2 70 271.8 78.2 274 78.8 275.8 87 277.5 85.7 279.4 91.2 280.9 90.3 281.8 95 282.6 95.1 285.1 91.8 287.2 86.6 288.6 88.5 288.7 85.5 290.8 84.2 293.1 80 294.6 75.2 296 72.8 297.6 69.5 298.7 66.7 300.9 66 303.1 61.6 303.9 61.1 304.6 55.3 306.6 55.3 308.8 56.4 310.4 58.1 311.3 59.5 312.8 62.3 314.8 66.8 316.4 66.4 317.9 70.9 319.4 74.2 320.9 77.2 322.1 80.9 323.1 86.7 324.9 87.7 326.9 91.6 329 89.2 329.7 90.6 332.6 85.8 333.1 87.9 334.2 88 336.5 90.9 338.2 88.5 339.9 89.5 341.1 87.3 342.4 82.6 343.5 85.4 345.3 85.3 346.8 83.2 347.8 80.2 349.9 80.2 350.3 81.1 352.4 78.5 354 80.7 355.8 79.1 357.5 79.2 359 79.6 360.5 81.1 361.2 83.4 364.5 82 364.7 85.6 367.1 83.2 368.2 86.3 369.7 89.8 371 90.3 372.7 89.8 373.4 89.7 375.6 89.8 378.4 91.6 379.2 92.1 380.1 94.5 381.7 94.3 383.3 94.7 384.9 97.6 387.2 98.6 388.4 98.4 389.4 96.5 390.1 95.3 393.5 97.4 394.8 99.2 395.7 97.6 397.4 94.9 398.5 95.6 399.9 96.7 402.9 97.4 402.1 96.4 404.6 97.6 406.5 95.3 408 92.1 409.3 88.1 410.6 93 412.4 94.7 413.2 93.8 414.7 92.4 417.1 94 417.9 95.1 420.2 94.1 421.9 93.3 423.5 91.5 425 93.9 425.5 91.1 427.6 92.2 429.1 95.2 431.3 92.3 432.2 96.6 434.6 95.9" stroke="#1a1a8c" stroke-width="1.3"/>
<path d="M192.4 205.3L192.7 206.7 193 207.8 193.3 208.9 193.6 209 193.8 207.7 194.1 207 194.3 205.8 194.6 204.2 194.8 202.3 195.1 201.6 195.3 200.5 195.6 198.4 195.8 197.6 196.1 196.2 196.5 193.8 197 192.6 197.4 191.5 197.8 189.9 198.3 189 198.7 188.1 199.1 187.1 199.3 188 199.4 188.8 199.5 189.8 199.6 191.4 199.8 193 199.9 194.2 200 195.5 200.1 196.5 200.2 200 200.4 200.2 200.5 201.4 200.6 202.5 200.7 204 200.8 205.9 200.9 206.8 201.1 208.7 201.2 209.3 201.3 211.3 201.6 212.4 201.9 214.1 202.2 215.1 202.5 216.2 202.8 217.8 203 219.3 203.3 220.7 203.6 221.1 203.9 223.8 204.2 224.6 204.5 226.7 204.8 227.8 205.2 228.3 206 229.4 206.7 231.5 207.5 232.3 208.2 233.5 209 234.7 209.7 236.4 210 234.5 210.2 232.6 210.5 231.1 210.7 229.8 211 229.1 211.2 226.3 211.3 225.6 211.5 224.2 211.6 223.6 211.7 221.2 211.8 220.3 212 218.8 212.1 217.6 212.2 215.4 212.3 215.6 212.4 215.2 212.6 211.5 212.7 211.2 212.8 209.3 212.9 208.4 213.1 206.3 213.2 205.6 213.3 204.4 213.4 203 213.6 199.9 213.7 199.6 213.8 199 213.9 197.5 214.1 195 214.2 193.3 214.3 193.8 214.4 190.8 214.6 189.7 214.7 188.7 214.8 186.7 214.9 184.8 215.1 184.4 215.2 182.5 215.3 181 215.4 180.2 215.6 178.7 215.7 177.9 215.8 176.3 215.9 173.6 216.1 173.5 216.2 171.1 216.3 171.2 216.4 167.7 216.6 167.1 216.7 164.7 216.8 165.2 216.9 163.1 217.1 161.4 217.2 159.5 217.3 158 217.4 156.5 217.6 155.1 217.7 154.5 217.8 152.8 217.9 152.7 218.1 149.5 218.2 148.4 218.3 147.1 218.4 146.6 218.6 144.6 218.7 142.7 218.8 142.3 218.9 140.9 219.1 137.8 219.2 138.5 219.3 136.6 219.4 134.9 219.6 133.7 219.7 134 219.8 131 220.1 129.1 220.5 127.6 220.9 126 221.3 126.4 221.7 125.6 222 123.2 222.4 121.6 222.8 121 223.2 118 223.6 117.2 224 116.3 224.4 114.5 224.8 113.6 225.2 110.9 225.6 109 226 109.1 226.4 107.3 226.8 107.2 227.2 105.4 227.6 102.6 228 102.6 228.4 100.4 228.6 97.6 228.6 99.6 228.6 97.3 228.6 94.9 228.6 93.7 228.6 93.7 228.6 91.5 228.6 91.6 228.6 88.4 228.6 86.1 228.6 85.4 228.6 84.9 228.6 83.1 228.6 80.9 228.6 79.2 228.6 78.7 228.6 77.7 228.6 77 228.6 73.1 228.6 72.2 228.6 71.5 228.6 69.9 229.2 68.4 229.7 67.7 230.3 65.4 230.8 63.1 231.4 64.4 231.9 61.8 232.5 60.3 233 60.1 233.6 58.7 234.1 56.3 234.7 56.5 235.2 54.2 235.8 53.4 236.3 51.9 236.9 51.2 237.4 50 238 47.9 238.5 46.6 239.1 46.6 239.6 43.5 240.2 41.8 240.7 41.4 241.3 39.5 241.8 38.6 242.4 38.1 242.9 38.3 243.5 35.7 244 33.3 244.6 32 245.1 30.3 245.7 30" stroke="#2030f0" stroke-width="1.7"/>
<path d="M245.7 30L247 32.5 248 32.6 250.9 36.5 251.1 38.6 253.9 39.9 255.2 40.8 256.1 39.2 257.5 42.1 259.1 44.1 260.6 48.1 262.2 46.9 263.1 47.3 266.4 53.6 267.4 58 269.1 65.5 271.3 68.8 272.2 80.2 273.6 82.8 274.8 89.3 276.7 92.8 279 96.7 280.3 96.8 281.4 95.9 283.2 94.3 284.2 92.5 285.9 91.5 288.5 89.7 289.8 86.7 291.1 83.8 292.8 80.7 294.9 78.1 296.2 74.9 297.8 70.6 298.6 66.8 300.9 67.8 301.7 66 304 67 305.2 64.7 307.5 61.7 308.5 59.6 309.2 60 311.4 67.3 313.3 71.3 315 73.7 316.7 76.6 317.8 80 320.1 86.1 320 90.3 322.1 93.9 323 94.4 324.9 96.8 326.1 96.6 327.9 95.1 330.4 95.1 331.3 97.8 333.7 97.5 334.7 96.3 336.4 92.7 338.3 91.9 338.9 90.7 340.6 88.2 342.8 90.2 343.9 90 345.1 87.8 348.4 88.3 347.5 85.1 350 82.9 351.7 77 353 79.5 354.9 82.5 356.2 83.5 357.9 82.8 359.4 83.3 360.7 77.7 362.6 78 363.2 77.5 365.6 81 366.4 82.2 369.1 85.8 370.9 86.1 371.3 85.4 372.3 88.1 373.8 88.8 375.9 88.1 377.5 87.4 379.3 87 381.2 87.3 382.1 89.8 383.4 88.4 386.8 92.2 386.9 93.6 388.5 94.1 389.6 93 391.7 88.5 393 91.6 394.9 91.6 396.1 91.1 396.9 88.8 398.5 90.2 401.2 89.5 402.7 91.3 403.9 90.7 405.7 92.3 407.7 90.2 408 92.9 410.7 93.1 412.6 95 413.9 91.9 414.5 94.3 416.6 90.4 417.7 95.2 418.8 97.4 420.4 96 422.1 95.5 423.6 93.3 425.3 94.7 426.1 96.9 427.3 97 429.4 96.4 431.9 102.9 432.9 99.9 434.6 104.6" stroke="#2030f0" stroke-width="1.3"/>
<path d="M192.4 205L192.7 206.2 193 207.3 193.3 208.7 193.6 209.4 193.8 208 194.1 206.3 194.3 205 194.6 203.8 194.8 202.4 195.1 201.1 195.3 199.9 195.6 198.2 195.8 196.7 196.1 195.4 196.6 194 197 192.9 197.4 192.4 197.8 190.9 198.3 188.8 198.7 187.9 199.1 186.9 199.3 187.3 199.4 188.4 199.5 189.9 199.6 191.2 199.8 192.3 199.9 194.2 200 195.8 200.1 195.9 200.2 199 200.3 201.1 200.5 201.6 200.6 202.2 200.7 204.9 200.8 204 200.9 207.5 201 209.2 201.1 209.3 201.3 210.9 201.4 213 201.5 213.1 201.7 215.9 201.9 216 202.2 219 202.5 217.6 202.8 220.8 203.1 222.4 203.4 224.3 203.6 225.6 203.9 226.6 204.2 227 204.5 229.7 204.8 230 205.1 232.3 205.3 232.3 205.6 234.5 206.2 236.6 206.9 238.3 207.6 238.3 208.4 239 209.1 240.7 209.9 242.3 210.6 244.7 211.2 243.5 211.5 241 211.7 240.4 212 238.9 212.2 237.1 212.5 237.9 212.7 235.3 212.8 234.8 212.9 233.5 213.1 230.7 213.2 229.8 213.3 228.6 213.4 226.9 213.6 225.1 213.7 224.2 213.8 222.8 213.9 221.6 214 218.7 214.2 218.9 214.3 217.8 214.4 215.3 214.5 214.3 214.6 214.4 214.8 212.2 214.9 208.5 215 209.3 215.1 208.4 215.2 206.1 215.4 204.8 215.5 202.9 215.6 201.7 215.7 199.8 215.8 199.5 216 198.4 216.1 197.1 216.2 195.4 216.3 192.9 216.4 191.3 216.5 190.2 216.7 189.1 216.8 187.5 216.9 186.4 217 183.8 217.1 183.7 217.3 181.3 217.4 180.3 217.5 179.3 217.6 178.2 217.7 176 217.8 175 218 174.1 218.1 172.2 218.2 169.9 218.3 170 218.4 165.9 218.6 166 218.7 166 218.8 164.6 218.9 161.3 219 161 219.2 158.1 219.3 159.6 219.4 156.2 219.5 154.4 219.6 153.2 219.7 152.5 219.9 150 220 150.4 220.1 148.6 220.2 146 220.3 146.4 220.5 143.5 220.6 141.8 220.7 140.4 220.8 140.4 220.9 138.5 221.1 136.6 221.2 135.3 221.3 133.6 221.4 133.6 221.5 131.5 221.7 129.1 222.1 128.8 222.6 127.7 223 126.2 223.5 124.7 223.9 123.5 224.4 120.9 224.8 119.8 225.2 118.7 225.7 117.9 226.1 117.7 226.6 114.5 227 114.7 227.4 112.5 227.9 110.2 228.3 110.9 228.8 108 229.2 107.3 229.7 104.7 230.1 104.1 230.5 102.9 231 101.6 231.4 100.7 231.6 98.4 231.8 98 231.9 95.1 232.1 95.1 232.2 93.6 232.3 92.4 232.5 90.8 232.6 89.7 232.8 87.2 232.9 85.7 233 84.5 233.2 82.4 233.3 83.1 233.5 79.7 233.6 79.7 233.8 76.6 233.9 75.3 234 74.6 234.2 73.8 234.3 72.8 234.5 70.8 234.7 68.3 235 68 235.4 66.9 235.7 65.1 236 64.3 236.4 62.3 236.7 60.5 237 60.2 237.3 58.4 237.7 56.4 238 56.4 238.3 55.9 238.7 52.3 239 49.8 239.3 49.8 239.7 49.3 240 46.7 240.3 46.4 240.7 45 241 44.4 241.3 42.1 241.7 39.5 242 39.6 242.3 36.2 242.6 35.9 243 35.3 243.3 33.5 243.6 32 244 31.1 244.3 29 244.6 28.4 245 27.1 245.3 26.1 245.6 23.9" stroke="#c000c0" stroke-width="1.7"/>
<path d="M245.6 23.9L246.3 23.2 247.6 24.5 249.7 25.7 252 31.5 253.8 37.4 254.9 34.8 256.2 36.4 257.2 43.2 259.8 46.6 261.9 52.5 263.3 54.1 264.7 54.6 265.8 53.5 268.1 58.5 269.7 58 270.3 60.7 271.9 68.7 274.3 69.2 275 72.2 277.6 75.1 278.9 78.3 280.2 84 282.7 84.6 283.1 83.2 285.1 83.1 286.7 83 287.9 84.5 290.3 81 290.7 77.3 292.4 71.6 294.5 68.7 295.4 65.5 297.8 64 299.7 60.6 299.9 56.6 302.3 55 303.3 52.4 305 53.8 306.7 56.1 308.6 57.6 310 62.2 311.7 64.5 313.5 65 314.4 69.6 316.1 71.3 317.7 76.8 319.6 79.2 321.7 82.3 323.2 82.3 325.7 85.4 326.7 85.8 327 88 328.7 87.6 329.8 87.7 331.1 85.2 332.8 85.6 334.9 79.4 336.5 80.9 337.3 79.7 339.2 77.4 341.6 77.3 341.6 75.2 344 74.9 344.7 74.1 346.5 70 348.9 73.6 350.5 70.6 351.3 73.9 353.5 73.1 353.5 70.4 356.3 70.6 356.3 69 359 66.5 360.8 71.7 362.1 71.9 364.1 72.3 365 76.6 367.1 78.5 368.5 79.9 369.9 82.3 370.5 87.4 373.5 89 374.2 90.9 376.6 89.6 377.1 90.7 378.9 91.1 380.7 92.9 382.2 95.1 383.4 95.6 384.3 96.1 386.9 94.6 388 97.4 390.5 95.6 391.6 95.7 392.3 93.4 394.9 96.6 396.6 97.1 398 93.5 398.8 90.6 399.6 90.9 402.2 91.3 403.9 90.1 405 90.3 406.2 88 408.3 88.5 409.2 88.5 412 86.9 412.6 86.3 413.7 84 416.1 87.2 417.3 87 419.3 89.2 420.6 85.7 421.8 87.9 423.9 88.8 424.9 87.7 426.3 84.6 428.4 85.5 430.4 88.3 430.4 89.4 433.6 90.3 434 88.5" stroke="#c000c0" stroke-width="1.3"/>
<path d="M192.4 204.9L192.7 206.9 193 208.4 193.3 208.9 193.6 208.9 193.8 208.2 194.1 206.7 194.3 204.5 194.6 203.1 194.8 202.2 195.1 201.3 195.3 199.6 195.6 198 195.8 197 196.1 195.8 196.5 194.2 197 193 197.4 191.8 197.8 190.7 198.3 189.3 198.7 187.7 199.1 186.8 199.3 187.5 199.4 188.6 199.5 189.8 199.6 191.4 199.7 192.4 199.8 193.4 199.9 195.4 200.1 196 200.2 199 200.3 200.6 200.4 201.3 200.5 203.2 200.6 203.8 200.7 205.3 200.8 208 200.9 208.2 201.1 209.5 201.2 210 201.3 211.1 201.6 213 201.9 216.6 202.1 216.2 202.4 218.6 202.7 219.8 202.9 220 203.2 221.9 203.5 223.3 203.8 225.1 204 226.6 204.3 227.8 204.6 230 204.9 230.4 205.6 232.5 206.3 233.6 207 232.6 207.8 235.5 208.5 235.5 209.2 238 209.6 237.1 209.8 235.8 210.1 234.7 210.4 232.6 210.6 231.3 210.9 230.6 211 229.2 211.1 227.9 211.3 226.2 211.4 225.4 211.5 222.3 211.6 221.9 211.8 220.6 211.9 218.2 212 217.6 212.1 215.3 212.2 212.7 212.4 211.9 212.5 212.5 212.7 211.2 212.9 209.6 213.1 207.4 213.2 206.7 213.4 203.5 213.6 202.9 213.8 202.6 213.9 201 214.1 198.6 214.3 198.3 214.5 197.4 214.7 195 214.8 195.3 215 192.2 215.2 191 215.4 189.3 215.5 188.5 215.7 187.1 215.9 184.5 216.1 182.9 216.2 183.1 216.4 182.3 216.6 179.7 216.8 177.8 216.9 176.9 217.1 175.6 217.3 173.8 217.5 173.7 217.7 171.2 217.8 169.5 218 168.2 218.2 166.6 218.4 167 218.5 165 218.7 163.8 218.9 161.5 219.1 160.6 219.2 159.1 219.4 158 219.6 156.8 219.8 155.4 219.9 153.1 220.1 152.3 220.3 149.6 220.5 149.5 220.7 147.4 220.8 145.1 221 144.9 221.2 144 221.4 142.8 221.5 140.5 221.7 138.9 221.9 137.2 222.1 137 222.2 136.2 222.4 133.5 222.6 132.6 222.8 131.6 223 129 223.4 128.5 223.8 127.3 224.1 125.6 224.5 124 224.9 122.1 225.3 121.6 225.6 119.9 226 119 226.4 117.7 226.8 115.8 227.1 115.6 227.5 112.4 227.9 111.5 228.2 110.2 228.6 109.3 229 107.1 229.4 107 229.7 105.1 230.1 104 230.5 101.5 230.9 100.7 231.2 99.8 231.3 98.5 231.5 97.4 231.6 95.5 231.8 93.8 231.9 90.3 232 91.5 232.2 89.8 232.3 88.3 232.5 87.3 232.6 85.3 232.8 84.5 232.9 83.2 233.1 81.7 233.2 79 233.4 78.6 233.5 77.3 233.7 75.8 233.8 74.6 234 73.1 234.1 71.2 234.2 72 234.6 68.3 235 66.8 235.5 66.7 235.9 65.4 236.3 64.3 236.7 62.7 237.1 59.7 237.5 58.7 237.9 59.1 238.4 57.4 238.8 55.1 239.2 54.4 239.6 52.1 240 51 240.4 50.1 240.9 49.3 241.3 48.2 241.7 44.5 242.1 45.2 242.5 44 242.9 42 243.4 41.3 243.8 39.6 244.2 38.2 244.6 35.3 245 35.8 245.4 33.3 245.8 31.6 246.3 30.7 246.7 30.3 247.1 28.7 247.5 27.2 247.9 25.9 248.3 25.2 248.8 24.8" stroke="#f07800" stroke-width="1.7"/>
<path d="M248.8 24.8L250.9 31.3 251.6 32.4 253.4 39.9 255.2 43.8 256.5 50.3 257.4 51.5 259.7 55.8 262.4 51.6 263.2 54.7 264.9 54.8 266.1 55.7 268.5 64.5 268.6 72 271.2 75.5 272.7 76.7 274.2 77.6 275 81.4 277.2 81 278.5 87.1 280 83.4 281.9 86.2 282.7 81.4 284.5 84.1 285.8 82.4 287.9 83.4 290 80.9 291.5 78.5 292.1 76.2 294.3 72.1 296.1 68.7 296.7 66.2 299.2 66.4 300.5 65.6 302.2 65.8 302.8 65.4 305.4 71.6 307.4 73.6 307.9 75.7 309.9 74.3 311.2 75.5 312.9 76.6 314 82 316.5 83.3 317.8 85.8 320.1 86.4 321.7 84.1 322.7 81.9 323.9 83.4 326 85 327.7 84.1 329.4 83.1 331.2 84.3 331.3 81.6 333.3 81.6 335 80.4 336.9 79.3 337.5 78.2 339.4 75.3 341.5 74.8 342.4 72.2 343.3 73.5 346.3 72.8 347.6 73.5 349.5 76.8 350.6 74.9 351.5 75.4 353 73.6 355.2 74.9 355.9 72.3 358.4 73.3 360.7 72.7 361.5 73.7 362.5 75.9 364.1 78.6 364.9 78.9 367.7 78.3 368.7 78.8 370.6 78.2 372.7 77.1 373 78.3 374.8 81.8 376.9 84 377.1 82.8 379.7 85.3 381 88.1 382.1 87 383.8 86.1 385.9 87.1 386.6 86.4 388.9 88.2 390.1 86.9 392.2 87.9 394 88 394.5 85.4 396.4 85 398.7 85.1 399.4 85.4 401.2 86 402.4 88.2 405 87.9 406.2 89.9 407.4 88.2 409.4 89.3 409.9 86.8 411.1 88.2 413.3 86.8 414.5 89.6 416.4 89.6 418 91.5 420.2 92.6 422 91 421.4 89.2 423.8 88.9 425.8 88.8 427.5 89.9 428 90.7 429.1 92.5 431.8 92.3 432.5 94.3 434.1 95.5" stroke="#f07800" stroke-width="1.3"/>
<path d="M192.4 205.3L192.7 206.5 193 207.6 193.3 209.3 193.6 209.2 193.8 208.1 194.1 207.1 194.3 205.1 194.6 203.8 194.8 202.6 195.1 200.6 195.3 199.1 195.6 198.3 195.8 197.2 196.1 195.8 196.6 194.3 197 193.1 197.4 191.7 197.8 190.5 198.3 189.2 198.7 187.7 199.1 186.4 199.3 187 199.3 188.1 199.4 190.2 199.5 191.9 199.6 192.8 199.7 194.2 199.7 195.6 199.8 197 199.9 198.3 200 199.7 200 200.8 200.1 202 200.2 202.8 200.3 205.6 200.4 207.3 200.5 207.7 200.7 210.7 200.9 211.7 201.1 213 201.3 214.2 201.4 216 201.6 215.7 201.8 218.5 202 219.9 202.2 219.5 202.4 222.5 202.7 223.4 203.3 225.5 203.8 225.9 204.4 227.5 204.9 229.1 205.4 228.7 205.6 228.4 205.9 226.5 206.1 225.5 206.4 223.4 206.7 223.2 206.8 221.5 207 219.5 207.1 218.7 207.2 217.7 207.3 216.7 207.5 212.8 207.6 213.2 207.7 211.5 207.8 209.7 208 207.6 208.1 207.9 208.2 204.6 208.3 204.6 208.3 203.7 208.3 200.1 208.3 199.7 208.3 197.5 208.3 197.3 208.3 196.8 208.3 195.8 208.3 191.5 208.3 191 208.3 190.6 208.3 189.8 208.3 187.5 208.4 185.2 208.4 184.6 208.4 183 208.4 181.4 208.4 179.6 208.4 179.1 208.4 177.6 208.4 175.9 208.4 174.4 208.4 172.2 208.4 171.3 208.4 171.2 208.4 168.8 208.4 166.4 208.4 167.1 208.4 165.1 208.4 164.8 208.4 161.9 208.4 160.1 208.4 157.9 208.5 158.6 208.5 158.1 208.5 154.2 208.5 152.9 208.5 152.4 208.5 149.9 208.5 148.9 208.5 147.5 208.5 146.5 208.5 145.8 208.5 143.5 208.5 142.8 208.5 140.4 208.5 139.5 208.5 136.3 208.5 135.4 208.5 135.7 208.5 133.2 208.5 132.7 208.6 131.2 208.6 130.4 208.8 128.6 209 127.4 209.2 125.1 209.4 123.3 209.6 121.9 209.8 120.7 210 118.8 210.2 117.8 210.4 116.8 210.6 115.6 210.8 113.8 211 111.2 211.2 111.2 211.4 110 211.6 109.3 211.8 107.5 212 105.2 212.2 103.7 212.4 104.4 212.6 102.1 212.8 101.5 212.6 100.3 212.4 96.7 212.2 96.2 211.9 94.9 211.7 93.6 211.5 92.2 211.3 90.5 211.1 89.1 210.9 86.4 210.7 86 210.4 84.2 210.2 83.5 210 81.6 209.8 81.1 209.6 79.8 209.4 78 209.2 76.7 208.9 75.1 208.7 73.3 208.9 74.7 209.1 75.9 209.4 77.9 209.6 79.1 209.8 80.9 210 80.8 210.3 83.9 210.5 84 210.7 85.4 210.9 87.2 211.2 88.4 211.4 90.4 211.6 91.1 211.8 92.2 212 93.7 212.3 96.7 212.5 97.2 212.7 97.7 213.3 99.8 213.8 100 214.4 103.8 214.9 102.6 215.5 105.4 216 106.7 216.6 106.5 217.3 107.4 218.2 106.8 219 105.3 219.9 104 220.7 103.4 221.6 101.7 222.4 100.7 223.3 99.2 224.1 98.7 225 96.4 225.8 96.5 226.7 94.4 227.5 92.9 228.4 92.8 229.2 92.7 230.1 91 230.9 88.8 231.7 88.6 232.6 86.6 233.4 85.7 234.3 84.7 235.1 81.8 236 82.6 236.8 80.5 237.7 79.6 238.5 77.9 239.4 76.8 240.2 76.1 240.8 76.2 241.1 75.4 241.5 72.8 241.8 72.3 242.1 69.9 242.4 67.2 242.7 67.4 243 66.3 243.3 64.2 243.7 63.4 244 62.2 244.3 59.8 244.6 57.9 244.9 57.5 245.2 56.2 245.5 54.7 245.9 54.3 246.2 53.5 246.5 50.5 246.8 50 247.1 48.8 247.4 47.2 247.7 46.1 248.1 43.6 248.4 43.1 248.7 42.7" stroke="#1a1a8c" stroke-width="1.7"/>
<path d="M248.7 42.7L249.6 45.9 251.7 42.2 252.8 42 256.1 43.4 257.5 45.4 258.7 43.9 259.8 47.9 261.8 50 262.1 51.9 264.8 50.8 265.6 52.3 267.2 47.4 269.1 49.5 270.8 52.4 272.8 59.1 274.5 65.6 275.8 78 276.8 83.5 279.2 88.8 280.4 89.7 282.6 91.3 283.2 93.1 283.9 85.9 286.6 82.7 289.4 80.7 290.2 76.9 291.5 75.4 293.6 74.4 295.1 73 296.7 69.4 297.8 66.8 299.7 66.5 301.3 64.1 302.5 65.5 303.9 67.4 306.1 70 308.1 73 309.5 75.8 311 79 312.6 82.7 315.2 84.4 315.7 87.7 317.7 91.5 319.7 93.2 320.4 96.9 322.1 98.8 324.1 98.7 325.9 99.7 326.9 97.7 328.5 100.1 330 96.2 331 96.6 333.6 94.3 334.6 89.2 335.5 91.2 337.8 88.4 338.7 83.6 340.6 79.7 342.7 73.6 343.8 74.3 346.3 73.1 346.7 73.5 349.1 70.9 350.8 70.9 352.8 73.2 354.1 76 355.3 72.6 356.8 75.3 358.3 73.8 360.4 76.1 361.1 79.7 363.3 80.5 364.5 77 366.2 79 367.6 81.7 370.2 80.7 370.5 83.8 372.5 86.5 374 84.6 375.7 89.7 377.2 87.8 378.8 89 380.6 92.9 381 93.7 383.2 94.7 384.2 95 386.5 94.7 387.3 96.5 389 95.8 391 96.8 393.2 97.9 394.4 95.2 395.8 96 397.8 92.8 398.3 95.2 399.2 92.5 401.6 96.2 403.2 92.7 405.4 94 407.4 93.9 407.3 92.7 410.6 87.6 411.7 88.5 412.9 89.6 414.2 90.4 416.7 91.1 417.2 87.3 418.5 87.8 420.3 86 421.1 87.7 423.5 88.5 424.8 86.9 426.5 86.9 428.1 85.2 429 87.3 431.7 85.3 432.1 87.4 434.6 91 435 88.8" stroke="#1a1a8c" stroke-width="1.3"/>
<path d="M192.4 204.9L192.7 206.2 193 207.8 193.3 209.8 193.6 210.3 193.8 208.4 194.1 206.8 194.3 205.4 194.6 204.1 194.8 202.5 195.1 201.1 195.3 199.7 195.6 198 195.8 196.8 196.1 195.8 196.6 194.7 197 192.3 197.4 191.1 197.9 190.5 198.3 188.9 198.7 187.9 199.2 186.3 199.3 186.8 199.4 187.9 199.5 189.3 199.6 191.4 199.7 192.9 199.8 193.8 199.9 195.6 200 196.4 200.1 199.5 200.2 199.7 200.3 202.2 200.4 202 200.5 204.8 200.6 205.7 200.7 206.7 200.9 207.2 201.1 210.8 201.4 211.3 201.6 212.6 201.9 214.7 202.1 214.7 202.4 217.8 202.6 218.8 202.9 220 203.1 221.4 203.4 221.9 203.7 223.6 204.4 225.3 205 225.9 205.7 228.5 206.4 229.3 207.1 231 207.4 227.9 207.7 228.7 207.9 225.9 208.2 224.3 208.4 223.3 208.7 223.1 208.8 221 208.9 219.5 209.1 218.6 209.2 217.2 209.3 215.8 209.4 214.3 209.6 212.4 209.7 211.2 209.8 208.4 209.9 207.9 210.1 205 210.2 205.1 210.3 203.8 210.4 201.8 210.5 200.6 210.5 200.3 210.6 197.9 210.7 196.7 210.8 196.6 210.9 194.1 211 193.1 211.1 191.4 211.2 190 211.3 189 211.4 186.6 211.5 185.9 211.5 183.6 211.6 182.3 211.7 181.6 211.8 179.3 211.9 176.5 212 176.7 212.1 176.4 212.2 173.4 212.3 173.1 212.4 171 212.5 168.8 212.6 168.2 212.6 165.4 212.7 166.4 212.8 163.9 212.9 163 213 161.4 213.1 158.9 213.2 158.3 213.3 158 213.4 156.3 213.5 154 213.6 152.4 213.6 151.4 213.7 149.1 213.8 148.8 213.9 146.1 214 145.3 214.1 145 214.2 143 214.3 141.1 214.4 140.3 214.5 138.6 214.6 137.5 214.6 136.7 214.7 134.5 214.8 131.9 214.9 132 215 129.7 215.2 129.7 215.4 128.2 215.6 126.1 215.8 125 216 122.3 216.2 120.7 216.5 120.3 216.7 119.4 216.9 118.7 217.1 115.9 217.3 114.3 217.5 112.9 217.7 111.6 217.9 110.9 218.1 108.3 218.4 108.5 218.6 105.6 218.8 106.7 219 103.7 219.2 102.4 219.4 99.8 219.5 99.8 219.5 96.8 219.4 97.3 219.3 94.9 219.3 94.1 219.2 92.8 219.1 91.7 219.1 90.6 219 89 218.9 87.4 218.9 85 218.8 83.2 218.7 83.1 218.7 81.4 218.6 79.4 218.5 78.3 218.5 77.6 218.4 76.2 218.3 73.7 218.3 71.8 218.2 70 218.2 69.6 219.1 68.6 220 66.8 221 67.4 221.9 66.9 222.8 64 223.7 64 224.6 62.3 225.5 61.7 226.5 60.4 227.4 59.1 228.3 58.8 229.2 57.5 230.1 55.6 231 55.2 232 53.4 232.9 52.7 233.8 52.1 234.7 50.9 235.6 48.4 236.5 48.8 237.5 46.5 238.4 46.4 239.3 45.7 240.2 43.1 241.1 42.3 242 42.5" stroke="#0090a0" stroke-width="1.7"/>
<path d="M242 42.5L243.9 40 245.3 42 246.7 45.8 248.3 50.1 249.4 49.6 250.8 52.2 252.6 57 254.1 57.1 256 60.5 257.4 65.8 258 73.2 260.7 78 261.8 80.5 263.8 82.5 265.2 84.9 266.5 84.7 268.2 92.7 268.7 95.4 271.8 99.1 273.5 107.3 274.3 103.8 275.3 104.2 277.4 104.6 278.4 102.4 281 100.7 281.5 102.6 282.7 100.1 284.5 93.5 286.1 88.9 288.4 85.4 289.6 83.5 291.4 83.5 292.6 77.1 295.1 74.7 296 69.9 297.7 67.2 299.9 67.2 300.9 62.7 302 61.9 303.7 58.4 306 56 307.2 57.9 308.2 60.9 310.7 59.8 310.9 60.9 312.1 63.3 314.3 67.7 315.4 69.8 317.8 74.9 319.5 75.5 320.8 82.4 322.2 85.3 323.5 88.5 326.1 91.9 326.2 93.8 329.1 93.3 330.4 95.7 331.8 95.6 333.6 99.5 334.1 97.3 336.9 95.9 338.2 93.9 340 93.4 339.9 92.7 342.7 89.2 344 84.2 344.4 81.7 346.9 79.7 348.7 75.5 349.7 75.5 351.9 73.4 353.5 74.8 354.5 72.9 356.1 73.8 358.2 73.5 358.8 75.2 361.1 72.3 363.1 77.5 363.9 75.8 365.6 79.3 367 78.4 368.9 79.8 369.2 80.2 370.6 82.8 372.6 82.5 374.3 80.2 376.6 81.3 378.3 81.5 379.5 82.1 381.3 85.4 382 87 383.5 88.3 384.5 88.1 387.4 90.4 388.6 90.5 389.8 92.6 390.7 91.1 392.4 89.5 394.8 87 396 87.7 398.2 84.4 399.3 85.6 400.3 86.9 401.6 89.1 403.8 84.3 406.2 85.6 407.9 83.8 408.1 81.2 410.3 83.9 411.2 85.4 413.3 84.8 413.2 84.1 415.9 85.4 416.8 83.1 420.1 85.6 420.6 82.9 422.6 87 423.9 84.7 424.7 85.7 427.2 87.5 428.9 89 430 90.5 431.7 93.2 433.5 95.6 434.7 98.8" stroke="#0090a0" stroke-width="1.3"/>
<path d="M192.4 205.2L192.7 206.7 193 208.1 193.3 209.7 193.6 209.7 193.8 208.4 194.1 207.1 194.3 205.9 194.6 204.7 194.8 202.9 195.1 200.8 195.3 198.9 195.6 197.7 195.8 197.1 196.1 195.9 196.5 194.4 197 192.9 197.4 191.4 197.8 190.1 198.3 189 198.7 187.3 199.1 186 199.2 186.9 199.3 188.1 199.4 189.7 199.4 191.1 199.5 192.4 199.5 193.6 199.6 195.2 199.7 196.6 199.7 198.7 199.8 200.2 199.8 200.9 199.9 202.3 199.9 203.6 200 205.6 200.2 207.6 200.3 208.1 200.5 209.9 200.6 210 200.7 212.5 200.9 213.5 201 215.5 201.2 216.7 201.3 217 201.7 218 202.1 220 202.5 222.5 202.9 223.7 203.2 223.7 203.5 220.7 203.8 218.8 204 218.9 204.3 217.7 204.5 216.1 204.7 215.4 204.8 213.6 205 211.5 205.1 210.3 205.2 209.6 205.3 208.2 205.5 206.7 205.6 206.9 205.7 203.7 205.8 202.6 205.9 200.4 206.1 199.5 206.2 198.7 206.2 197.3 206.3 195.4 206.4 194.4 206.4 192.7 206.5 190 206.6 187.6 206.6 190.1 206.7 187.6 206.8 185.6 206.8 183 206.9 182 207 182.4 207 178.1 207.1 178.4 207.2 177.8 207.2 175.9 207.3 175 207.4 172.9 207.5 173.3 207.5 169.5 207.6 167.9 207.7 167.6 207.7 167 207.8 164.5 207.9 163.9 207.9 161.4 208 159.5 208.1 159.9 208.1 158.7 208.2 157.2 208.3 154.4 208.3 152.5 208.4 151.1 208.5 150.4 208.5 149.5 208.6 148.1 208.7 145.3 208.7 145.1 208.8 143.5 208.9 142.2 208.9 140.7 209 139.2 209.1 138.3 209.1 136.6 209.2 135.2 209.3 133.2 209.3 132.5 209.4 130.8 209.5 128 209.7 128.4 209.9 126.5 210.1 125.9 210.2 123.8 210.4 122.4 210.6 121.2 210.8 119.7 210.9 118 211.1 115.7 211.3 116.8 211.5 113 211.7 112.5 211.8 111.8 212 110.2 212.2 108.9 212.4 107.7 212.5 106.6 212.7 104.5 212.9 105 213.1 100.8 213.2 100.3 213.1 98.5 212.8 97 212.6 96.2 212.3 95.6 212.1 92.7 211.9 91.3 211.6 91 211.4 89.4 211.1 89 210.9 87 210.6 85.1 210.4 83.3 210.2 82.3 209.9 80.6 209.8 79.3 210.1 81.7 210.3 82.9 210.5 84.3 210.7 85.5 211 88.4 211.2 89.1 211.4 90.7 211.6 91 211.8 92.1 212.1 94 212.3 95.7 212.5 96.7 212.7 98.2 213 100.4 213.2 101.3 213.4 101.8 213.6 103.6 214.1 104.7 215.2 106.1 216.3 106 217.4 107.6 218.3 107.6 219 106 219.7 104.1 220.4 103.1 221.1 102.4 221.8 101.4 222.5 100.4 223.2 98.5 223.9 96.5 224.6 97.2 225.3 95.2 226.1 94.1 226.8 92.8 227.5 90.6 228.2 89.9 228.9 89.1 229.6 88.4 230.3 86.5 231 83.1 231.7 83.9 232.4 83.1 233.1 82.5 233.9 80.9 234.6 80.9 235.3 79 236 77.7 236.7 76.2 237.4 73.4 238.1 73.7 238.8 72.3 239.5 70.3 240.2 69.9 240.7 68.5 241.1 66.5 241.4 65.4 241.7 63.9 242 62.9 242.3 61 242.6 60.3 242.9 57.2 243.2 57 243.6 54.7 243.9 54.1 244.2 53.5 244.5 51.7 244.8 50.3 245.1 49 245.4 48.7 245.8 45.5 246.1 45.5 246.4 42.4 246.7 41.8 247 40.9 247.3 38.8 247.6 38.2 247.9 37.1 248.3 34.4 248.6 33.8" stroke="#8a1a9a" stroke-width="1.7"/>
<path d="M248.6 33.8L250.7 33.3 252.1 34.5 252.9 34.7 254.7 34 256.3 38.6 258.2 41.4 260.2 46 260.7 45.5 262.9 41.4 263.6 49.5 265.6 45.6 266.3 51.4 267.9 51.1 270.2 56.7 271.2 59.1 273.7 65.9 274.7 70.1 276.6 84.6 278.2 88.2 279.8 97.8 281.7 99 283.7 98.6 286.3 97.8 285.8 91 288.2 84.9 289.6 80.2 290.8 76.4 293 69.4 294 64.1 296 57.9 298.3 56.8 298.3 53.9 301 56.1 302.6 60.3 303.4 62.7 305.7 62.7 307.2 64.9 308.4 66.7 310.7 71.5 311 73 313.5 75.5 314.6 76.5 315.7 80.7 317.7 84.1 319.1 88.2 321.2 90.4 321.7 90.6 323.8 89.8 325.3 90.7 327.8 90.2 328.1 91.1 330.7 89.8 330.9 88.8 333.4 88.1 334.8 88.6 336.6 85 337.6 84.4 338.6 81.4 340.3 83.4 343.3 80.5 344.3 79.1 345.3 79.7 347.8 78.5 348.5 79.7 350.1 78.8 351.4 77 354.1 75.6 356.1 76.4 356.2 75.7 358.4 74.4 360.2 75.4 362.3 75.6 361.6 75 364.4 76.1 366.2 77.4 366.6 80 369.1 82.4 370.5 80.4 372.3 85.6 373.2 84.8 375.2 85.9 376.2 82.6 378.3 83.8 379.6 87.7 380.9 89.3 381.9 91.3 384.9 91.7 386.1 92.5 387.6 93.8 388.3 92.1 390 91.8 392.5 89.7 393.6 92.6 394.3 94.9 396.3 93.7 397.8 93.7 399.2 92 400.3 91.1 402.9 90 404.1 91.4 405.3 94.9 406.1 94.2 408.1 91.1 409.9 90 411.9 92 412.8 93.7 415 93.7 416.1 90.7 417.2 92.6 417.7 91 420 93.2 421.4 94.1 423.5 93.5 425.3 94.7 427.3 94.3 428.2 96.1 429.2 95.9 432.4 98.6 432.9 100.4 434.2 101.2" stroke="#8a1a9a" stroke-width="1.3"/>
<path d="M192.4 205.2L192.7 206.4 193 207.7 193.3 209.3 193.6 209.7 193.8 208.2 194.1 206.1 194.3 204.7 194.6 203.7 194.8 202.1 195.1 201 195.3 199.4 195.6 197.9 195.8 197.1 196.1 195.9 196.6 194.6 197 193.2 197.4 191.4 197.8 190.3 198.3 189.2 198.7 187.7 199.1 186.3 199.3 187.2 199.4 188.9 199.5 190.3 199.6 191.4 199.8 193.1 199.9 194.7 200 195.9 200.1 196.6 200.2 197.1 200.3 199.8 200.4 201.4 200.6 202.9 200.7 204.1 200.8 204.3 200.9 207.2 201 206.5 201.1 210.3 201.3 211.1 201.5 213.1 201.8 212.7 202.1 215.3 202.4 215.4 202.7 218.6 202.9 219.4 203.2 219.8 203.5 223.4 203.8 223.3 204.1 224.1 204.4 225 204.6 228.8 205 228.9 205.8 230 206.5 231.6 207.2 232.4 208 234.5 208.7 234.2 209.5 236.4 209.7 235.5 210 232.7 210.3 232.3 210.5 231.7 210.8 228.5 211 228.7 211.2 227 211.3 225.3 211.4 224.1 211.5 222.7 211.6 221.7 211.8 220.2 211.9 217.4 212 216.6 212.1 214.3 212.3 214.4 212.4 213 212.5 210.8 212.6 209.7 212.7 209 212.9 207.4 213 205.8 213.1 204.9 213.2 201.6 213.3 201 213.4 201.1 213.6 198.2 213.7 195.8 213.8 195.7 213.9 194.2 214 193.1 214.1 190.8 214.3 190.4 214.4 188 214.5 187.7 214.6 186.2 214.7 183 214.8 182.3 215 182.1 215.1 180.4 215.2 178.6 215.3 177.1 215.4 176.1 215.5 175.7 215.7 173.8 215.8 172.5 215.9 171.7 216 168.4 216.1 166.8 216.2 166 216.4 165.2 216.5 162.5 216.6 161.8 216.7 160.5 216.8 159.6 216.9 157 217.1 158.4 217.2 155.4 217.3 154.2 217.4 152.1 217.5 151.1 217.6 150.8 217.7 147.5 217.9 146.3 218 144.1 218.1 143.2 218.2 141.8 218.3 140.9 218.4 139.7 218.6 138 218.7 136 218.8 134.5 218.9 133.9 219 132.2 219.1 130.2 219.3 130 219.6 128.8 220 127.1 220.3 125.3 220.6 124.1 221 122.3 221.3 122 221.6 119.4 222 119.6 222.3 117.5 222.6 114.2 222.9 116.1 223.3 112.7 223.6 112.1 223.9 110.1 224.3 108.4 224.6 108.4 224.9 106.8 225.2 105.3 225.6 103.7 225.9 102.2 226.2 100.4 226.5 99 226.6 97.6 226.7 96.9 226.8 95.3 227 94.2 227.1 91.9 227.2 91.6 227.3 89.9 227.4 86.8 227.5 86.8 227.6 86.9 227.8 84 227.9 82.4 228 80.8 228.1 80 228.2 78.5 228.3 77.2 228.5 75.8 228.6 73.4 228.7 72.5 228.8 71.7 228.9 69.3 229.5 68.8 230 67.9 230.5 65.7 231.1 65.2 231.6 62.7 232.1 61.3 232.7 59.8 233.2 60 233.7 57.9 234.3 57.2 234.8 54.7 235.3 54.8 235.9 52.7 236.4 51.9 236.9 50.4 237.5 48.9 238 47.2 238.5 46.5 239.1 44.4 239.6 45.4 240.2 43.7 240.7 43 241.2 39.4 241.8 38.6 242.3 36.5 242.8 36.4 243.4 35 243.9 34.1 244.4 32.5 245 29.6 245.5 29.4 246 29.9" stroke="#e01818" stroke-width="1.7"/>
<path d="M246 29.9L247.7 26.1 249.2 27.1 251.2 31.8 253.1 38.3 254.6 42.9 255.6 45.8 257.1 45.9 259.7 50.6 260.1 52.6 262.8 57 264.3 58.5 265.1 60.6 266.9 64.3 268.4 67.2 270 65.8 271.9 69.3 272.6 73.5 275.2 79.6 276.2 83.6 277.8 90.4 279.9 91.8 281.3 87.7 281.8 83.6 284 84.3 285.4 83.5 288 82 288.9 79.9 290.7 80.6 292.5 79.1 294.5 76.9 295.3 72.1 297.1 69.1 299 69.3 300.1 68.9 302.5 68.5 303.7 68.3 305.1 67.2 307.3 68.8 308.2 69.4 310.8 71.5 311.3 73.2 313.2 75.1 314.7 77.3 315.9 82.8 317.6 86.3 319.8 87.5 320.1 89.8 322.6 95.5 325.2 96.8 325.5 97.2 327.6 99.9 328.9 101.6 331.1 97.7 333.4 98.8 333 96.5 334.7 96.4 336.8 93 339 90.6 338.5 88 341 84.6 342.6 85.6 344.2 83.6 346.6 84 347.2 79.6 349.2 75.1 349.6 70.7 352 70.6 353.2 71 355.8 69.7 356.8 71.3 357.6 70.9 359.5 71.3 360.8 70.7 362.3 69.9 364.1 73.1 365.8 77.7 366.6 79.6 368 82 370.7 81.2 372.1 84.8 373.5 84.2 375.4 81.7 376.3 83.3 378 85.5 380.5 87.5 380.7 86.7 383.6 89.4 384.6 92 386.2 87.6 387.3 89.5 389.4 88.4 390.7 91 391.5 89.3 393.4 88.8 394.9 91.3 397 90.7 398.3 88.8 399.8 91 400.8 92.4 403.2 89.5 404.3 87.1 405.8 84.2 406.7 84 409.4 85 410.6 83.4 411.6 82.5 414.1 85.3 415.1 85.5 417.4 87 418.2 86.6 420.8 84 421.8 85.3 422.4 86.5 424.9 90.2 424.7 93.6 427.4 92.7 429.8 95 430.6 95.4 432.6 96.2 434.5 99" stroke="#e01818" stroke-width="1.3"/>
<path d="M192.4 204.7L192.7 206 193 207.6 193.3 209.3 193.6 209.7 193.8 208.5 194.1 207.2 194.3 205.6 194.6 204.1 194.8 202.5 195.1 201.4 195.3 199.8 195.6 198 195.8 196.8 196.1 195.3 196.6 193.8 197 192.5 197.4 191 197.9 190.8 198.3 189.3 198.7 187.3 199.2 186.2 199.3 186.9 199.4 188.1 199.5 189.9 199.6 191.6 199.7 192.8 199.8 194.7 199.9 195.8 200 195.2 200.1 199 200.2 200 200.4 200.6 200.5 204.1 200.6 204.8 200.7 205 200.8 206.5 200.9 208.8 201.1 211 201.3 211.6 201.6 212.3 201.8 215.2 202.1 215 202.4 217.7 202.6 218.6 202.9 219.5 203.1 220.5 203.4 222 203.7 223.7 203.9 226.1 204.6 226.3 205.3 227 205.9 229.8 206.6 230.8 207.3 231.4 207.9 232.8 208.2 230.7 208.5 230.4 208.7 227.7 209 225.9 209.2 224.7 209.4 223.7 209.6 222.3 209.7 220.4 209.8 219 209.9 217.1 210.1 216.2 210.2 216.3 210.3 213.6 210.4 211.7 210.6 210.5 210.7 209 210.8 208 210.9 206.1 211 206.1 211 203.3 211.1 202.3 211.1 202 211.2 199.6 211.3 199.1 211.3 196.7 211.4 195.9 211.4 195.4 211.5 191.9 211.6 191.5 211.6 189 211.7 188.3 211.8 186.5 211.8 185.6 211.9 183.3 211.9 181.2 212 181.7 212.1 179.9 212.1 179.3 212.2 177.2 212.2 175.7 212.3 173.6 212.4 171.8 212.4 171.5 212.5 169.2 212.5 169.5 212.6 168.1 212.7 166.1 212.7 165.1 212.8 162.8 212.9 161.1 212.9 161.7 213 158.5 213 158.1 213.1 155.3 213.2 154.7 213.2 153.6 213.3 150.4 213.3 149.1 213.4 148.3 213.5 147.1 213.5 146 213.6 144 213.6 142.6 213.7 141 213.8 139.6 213.8 139.1 213.9 137.1 214 135.3 214 133.8 214.1 132.7 214.1 130.7 214.2 130.5 214.4 129.3 214.7 126.7 215 125.9 215.3 124.6 215.6 124 215.9 121.6 216.2 120.5 216.5 118.6 216.8 117.3 217.1 116.1 217.4 117.4 217.7 114.6 218 112.6 218.3 111.2 218.6 108.6 218.9 107.6 219.2 107.4 219.4 105.5 219.7 104.9 220 102.7 220.3 101.7 220.6 100 220.6 98.9 220.6 97.4 220.5 96.5 220.5 93.9 220.4 92.7 220.4 91 220.4 90.1 220.3 89 220.3 87.3 220.3 84.5 220.2 83.9 220.2 82.6 220.2 81.4 220.1 79.7 220.1 78.5 220.1 78 220 76.3 220 75.5 220 72 219.9 71 219.9 69.4 220.6 69.8 221.5 68.5 222.4 66.5 223.3 65.4 224.2 64.9 225.1 64.5 226 63.6 226.8 61 227.7 60.9 228.6 59.1 229.5 59.2 230.4 58.8 231.3 56.3 232.2 55.2 233.1 51.9 234 53 234.9 50.3 235.7 50 236.6 49.9 237.5 47.1 238.4 48.7 239.3 45.6 240.2 45.5 241.1 43.4 242 43.2 242.9 41.2" stroke="#3050ff" stroke-width="1.7"/>
<path d="M242.9 41.2L245.2 39.5 245.9 42.1 247.3 42.6 249.9 42.3 251.3 46.1 252.4 46.2 253.7 48.5 255.6 47 257.5 49.9 259 47.7 260.2 53.9 261.9 50.7 264.2 57.1 266 55.4 267.8 63.8 268.3 64.2 269.7 66 272.1 71.6 273.3 75.1 275.4 85.1 277 90 278 88.3 279.7 85.5 280.6 89.9 282.1 86.8 284.7 84.8 286.9 84.9 286.6 88.3 288.2 89.2 290.2 84.4 292.3 80.9 292.5 76.7 294.9 78.8 297.1 74.7 296.8 72.1 298.9 71.4 301.3 69.5 303 69.5 303.6 66.7 305.9 69.4 307.4 69.1 307.8 70.4 310.1 69.7 311.5 69.4 313.2 73.6 315.1 77.7 316.1 83.6 317.4 86.4 319.2 91.3 320.9 94.8 323 100 325.2 100.2 326 102.5 327.5 97.1 329.1 96.8 331.2 97.9 332.3 97.2 334 94.6 335.1 93.2 337 94.7 338.3 92.3 340.6 91.2 341.6 88 343.7 88.5 344.8 87 346.3 85.5 346.8 81.7 349.1 81.8 350.3 81.5 352.7 76.9 354 73.2 355.5 77.2 356.8 78.6 359 76.5 358.9 75.8 361.8 76.4 362.8 76.3 364 74.7 365.7 75.9 367.6 76.5 369.3 76.8 371.3 73.6 372 75.7 373.5 78.8 375.9 80.8 377.5 79.8 378 79.4 379.7 82.3 381.8 83.1 383 85.1 385.1 88.3 385.9 87.3 387.5 87.3 390.9 86.5 391.5 83.9 393.3 88.7 394.3 85.2 395.4 85.3 397.8 86.5 399.6 88.5 400.3 89.4 401.8 87.7 403.8 86 405.1 86.1 405.9 85.2 408.6 84.2 410.2 85.8 410.5 85 413.8 87.8 414 86.7 415.5 88.2 417.2 91.8 419.1 87.3 420.6 88.8 421.3 88.5 423.7 90.5 425.4 91.5 426.4 93.5 427.1 93.1 429.2 98.4 430.9 97.4 433.2 98.6 434.1 96.7" stroke="#3050ff" stroke-width="1.3"/>
<path d="M192.4 205.5L192.7 206.8 193 208.3 193.3 209.6 193.6 209.5 193.8 208.3 194.1 207.2 194.3 205.6 194.6 203.5 194.8 201.9 195.1 201.1 195.3 199.7 195.6 198.4 195.8 197.8 196.1 196.2 196.6 194.3 197 193.2 197.4 192.2 197.9 190.1 198.3 188.2 198.7 187.7 199.2 186.5 199.3 186.8 199.4 188.4 199.5 189.9 199.6 191.4 199.6 193.4 199.7 194.5 199.8 195.4 199.9 197 200 198.1 200.1 199.3 200.2 201.5 200.3 202.7 200.4 205.1 200.5 206.4 200.6 207.2 200.7 208.3 200.9 209.8 201.1 212.2 201.3 212.9 201.6 214.4 201.8 213.6 202 215.9 202.2 218 202.5 220 202.7 221.4 202.9 222.4 203.2 222.4 203.7 225.1 204.3 225.7 204.9 226 205.5 228.2 206.2 229.8 206.6 230.4 206.9 229.4 207.1 227.6 207.4 226.1 207.7 224.3 207.9 223.3 208.1 221.1 208.2 221 208.3 219.1 208.5 218.4 208.6 216.7 208.7 214.6 208.8 213.4 209 212 209.1 210.7 209.2 207.3 209.3 207.1 209.5 207.8 209.6 205.1 209.6 204.6 209.7 201.8 209.8 199.6 209.9 199.1 210 197.7 210 196 210.1 196 210.2 194.8 210.3 191.8 210.4 192.3 210.5 190.2 210.5 187.2 210.6 187.4 210.7 185.5 210.8 183.9 210.9 181.3 210.9 181.3 211 179.1 211.1 179.5 211.2 176 211.3 174.3 211.3 174.3 211.4 171.7 211.5 172.2 211.6 169.1 211.7 168.9 211.8 166.2 211.8 165.1 211.9 164.2 212 162.2 212.1 161.8 212.2 159.3 212.2 159.5 212.3 157.7 212.4 154.4 212.5 155.7 212.6 153 212.7 150.8 212.7 150.2 212.8 148.7 212.9 147.8 213 146.4 213.1 145.2 213.1 142 213.2 141.7 213.3 139.7 213.4 137.5 213.5 136.7 213.6 135.1 213.6 134.7 213.7 132.8 213.8 131.9 213.9 130.2 214.1 128.9 214.4 127.8 214.7 125.5 214.9 124.6 215.2 123.2 215.5 121.5 215.8 119.8 216 119.3 216.3 118.2 216.6 117.7 216.9 115.1 217.1 113.8 217.4 111.4 217.7 110.8 218 110.3 218.2 109.5 218.5 107 218.8 106.5 219.1 105.1 219.3 104.1 219.6 101.7 219.8 99.3 219.8 98.5 219.8 97.8 219.8 95.1 219.8 94.1 219.8 92.1 219.8 90.8 219.8 88.8 219.8 89.3 219.8 86.5 219.8 85.7 219.8 84.6 219.8 82.5 219.8 80.5 219.8 79.5 219.8 77.7 219.8 77.2 219.8 75.2 219.8 75.1 219.8 72.6 219.8 71.8 219.8 69.3 220.7 67.6 221.6 67.5 222.5 67.4 223.3 66.3 224.2 65.4 225.1 63.1 226 62 226.9 61.3 227.8 59.8 228.7 59.4 229.5 58.5 230.4 57.5 231.3 55.1 232.2 55.7 233.1 52.1 234 52.1 234.9 50.8 235.7 50.1 236.6 48.8 237.5 48.8 238.4 46.3 239.3 46.3 240.2 43.8 241.1 43.5 241.9 42.7 242.8 42 243.7 39.4" stroke="#7000a0" stroke-width="1.7"/>
<path d="M243.7 39.4L245.7 43.4 246.4 44.6 248.8 44.1 250.6 42.6 252.1 47.7 254.1 45.5 254.2 49.6 256 52.9 257.7 55.7 259.3 53.4 261.6 57 263 58.1 263.9 56 265.7 54.9 266.9 55.5 268.9 53 270 53.6 273.4 60 274.7 72.4 276 85.5 277.9 94.9 279.9 92.6 281 92.5 283.1 87.8 284.1 90.6 286.6 85.8 287.3 85.7 288 81 289.5 78.9 291.3 76.9 293.9 70.5 294.4 69.3 296.5 71.6 296.8 71.4 299.3 66 300 65.5 301.8 66.5 303.5 63.1 304.4 63.5 307.8 64.1 307.6 65.6 309.5 67.8 312.1 68.3 313.3 72.7 313.2 78.3 316.2 80.8 318 86.2 318.6 88.6 320.6 91.3 321.8 91.7 323.4 92.6 326.2 94.7 327.4 98.6 328 98.8 329.4 100.6 331.9 101.3 333.2 97.2 334.5 98 336.4 99.3 337.2 99.5 339 95.8 340.6 94.2 343.1 91.2 344 92.4 345.1 87.8 346.8 86.9 349.2 88.2 350.5 89 351.6 85.8 353.2 84.6 355.3 81.5 356.4 83.2 358 82.2 359.3 82.4 360 80.7 363 80.7 364.2 81.5 366.3 78.5 368.9 83.1 368.8 84 370.8 84.4 371.9 86.6 373.3 89.4 374.8 90 376.6 88.2 378.3 87.5 380.7 89.8 381.6 88.3 382.7 91.2 385 90.8 385.6 91.5 388 91.4 389.3 91 390.5 93.1 392.5 95.2 394.3 93.8 395.6 95 395.9 91.8 397.4 90.4 399.8 89.1 401.2 91.6 402.1 87.4 404.7 90.6 406.1 91 408 92.7 409.1 91.3 411.3 91.3 411.6 88.8 413.3 92.6 415.3 89.7 416.7 89.6 417.3 85.9 419.1 89.3 421.3 91.1 422.6 92.9 423.7 93.9 425.5 90.1 427.1 87.7 428.7 88.1 430.7 90.7 432.4 94 433.3 93.9" stroke="#7000a0" stroke-width="1.3"/>
<path d="M192.4 205L192.7 205.9 193 207.2 193.3 209 193.6 209.4 193.8 208.1 194.1 206.2 194.3 204.8 194.6 203.9 194.8 202.1 195.1 200.6 195.3 199.8 195.6 198.4 195.8 197.1 196.1 196.1 196.6 194.4 197 192.6 197.4 191.1 197.9 190.2 198.3 189.1 198.7 187.5 199.1 186.3 199.3 187.5 199.4 189 199.5 190.1 199.6 191.4 199.7 192.9 199.8 194.3 199.9 195.4 200 196.9 200.1 198.3 200.2 199.8 200.3 202.3 200.4 203.4 200.5 205.5 200.6 205.4 200.7 206.6 200.8 208.6 201.1 210.3 201.3 210.2 201.6 213 201.8 213.8 202.1 215.7 202.3 217 202.6 217.9 202.8 219 203.1 220.7 203.3 223.1 203.6 222.5 204.2 225 204.9 226.1 205.6 227.3 206.3 228.8 206.9 230.2 207.4 229.6 207.6 229.2 207.9 226.7 208.2 227 208.4 222.8 208.7 223.8 208.8 221 209 219 209.1 217.9 209.2 216.7 209.3 215.8 209.5 214.2 209.6 213.8 209.7 211.3 209.8 209.8 209.9 208.4 210.1 207.6 210.2 205.8 210.3 205.5 210.5 202.6 210.6 201.3 210.7 199.9 210.8 198.2 211 197.1 211.1 195.3 211.2 193 211.4 191.9 211.5 190.9 211.6 188.5 211.7 188.3 211.9 187.9 212 186.2 212.1 183.5 212.3 182.1 212.4 181.4 212.5 179.8 212.6 179.4 212.8 177.6 212.9 176.3 213 174.6 213.2 174 213.3 172.1 213.4 172.4 213.5 169.7 213.7 167.9 213.8 166.2 213.9 164.6 214.1 162.9 214.2 162.3 214.3 161.1 214.4 160.4 214.6 158.2 214.7 157.2 214.8 155.4 215 153.6 215.1 152.7 215.2 151.3 215.3 149.4 215.5 148 215.6 146.6 215.7 143.9 215.9 144.1 216 141.5 216.1 142.7 216.2 139.6 216.4 138.5 216.5 137.1 216.6 134.3 216.8 135.2 216.9 132.2 217 132 217.2 130.8 217.4 129.1 217.7 125.1 217.9 124.9 218.2 124 218.5 122.1 218.7 121.5 219 121.3 219.2 119.7 219.5 117.1 219.8 115.2 220 115.2 220.3 113.8 220.6 111.6 220.8 109.8 221.1 110.2 221.3 108.9 221.6 107.2 221.9 105.5 222.1 103.2 222.4 102.3 222.6 100 222.7 100.5 222.6 97.2 222.5 96 222.4 94.9 222.4 93.6 222.3 93.3 222.2 91.5 222.1 88.9 222 88.3 221.9 86.9 221.8 86.3 221.7 82.7 221.6 82 221.5 80.3 221.4 79.7 221.3 78.8 221.3 76.7 221.2 76.9 221.1 73.3 221 72.7 220.9 70.7 221 68.8 221.8 68.4 222.7 67.6 223.5 65.9 224.3 64.8 225.2 64.1 226 62.5 226.8 62.5 227.7 61.1 228.5 59.6 229.4 59.2 230.2 55.7 231 55.5 231.9 55.9 232.7 53.2 233.5 53.4 234.4 51.9 235.2 50.6 236.1 49.2 236.9 47.4 237.7 46 238.6 44.7 239.4 45.1 240.2 43.6 241.1 42.7 241.9 40.6 242.8 40.3 243.6 39.9 244.4 37.4 245.3 36.5" stroke="#106020" stroke-width="1.7"/>
<path d="M245.3 36.5L246.1 36.4 247.9 36.9 250.2 41.7 251.3 46 252.9 47.8 254.9 52.5 256.1 58.3 257.8 64.8 260.1 66.4 260.5 72.8 262.5 72.8 263.6 78.3 265.9 80.5 266.5 86 268.2 91.9 270.6 92.5 270.8 89.1 274.3 95.3 275.3 92.6 276.4 99 277.9 99.1 279.9 99 281.5 95.4 282.3 95.8 284.5 92.2 285.6 89.5 287.4 87.1 289.2 84.7 290.9 80.5 292.2 78.4 293.9 75 295.4 69.2 297 66.1 299.6 65.1 301.1 65.7 301.5 66.7 302.3 66.7 305.4 64.8 307.4 68.6 307.9 72.3 309.7 74.7 311 76.4 312.7 78.1 313.7 77.3 315.5 81.1 316.9 81.9 318.3 85.5 320.1 88.9 320.8 89.9 323.6 91.1 324.6 95.2 326.1 94.4 327.1 93 328 93.9 330.5 92.5 331.9 92.2 332.5 93.3 335.9 92.6 337.7 89.4 338.3 85.4 340.3 86.3 342.4 87 343.5 88 343.3 85.8 347 86.4 347 85.9 349.3 81.7 351.9 79.4 352.3 76 353.4 75 355.7 76.6 357.1 80.1 357.7 81.8 361.1 83.4 361.9 82.2 363.3 77.5 365 78.6 366.6 81.9 368.7 83.3 369.5 82.7 370.8 80.3 372.9 84.4 374.3 81.6 376.1 85.1 376.8 83.3 379 85.1 380.6 86.3 381.3 84 383.7 85.6 384.9 85.2 387.2 85.4 388.9 85.8 389.7 86.8 390.5 86.4 392.6 89.9 393.7 86.4 395.3 87.8 397.9 86 399.2 86.2 400.4 89.3 401.7 86.2 404 86.7 406.3 88.7 407.6 89.9 409.1 93.4 410.6 91.2 412.7 89.7 413.9 90 415.1 91.8 415.4 92.1 418.3 92.1 419.6 93.2 421 91.1 423.1 91.1 423.6 90.8 425.6 92.9 427 92.7 427.8 94.8 429.9 92 431.5 93.1 433.5 95.2 434.8 94.9" stroke="#106020" stroke-width="1.3"/>
<path d="M192.4 205L192.7 206.3 193 207.5 193.3 208.2 193.6 208.8 193.8 208.1 194.1 206.9 194.3 205.5 194.6 204.2 194.8 202.3 195.1 200.5 195.3 199.5 195.6 198.1 195.8 196.8 196.1 195.8 196.6 194.4 197 193 197.4 192.1 197.9 190.8 198.3 188.8 198.7 187.8 199.1 186.9 199.3 187.5 199.3 188.2 199.4 190.1 199.5 192.1 199.6 193.4 199.7 194.4 199.7 195.8 199.8 196.9 199.9 197.9 200 200 200.1 202.2 200.1 202.2 200.2 203.8 200.3 206.1 200.4 208.3 200.4 207.8 200.5 210 200.7 211.6 200.9 212.4 201.1 214.3 201.3 215.1 201.5 217.8 201.7 217.1 201.9 219.9 202.1 220.7 202.3 222.4 202.5 223.2 202.7 223.1 202.9 227.7 203.3 228.5 203.9 229.6 204.4 230.6 205 232.1 205.5 233 206 233.8 206.2 233.3 206.5 230.5 206.8 229 207 229.5 207.3 226.5 207.5 225.6 207.6 223.9 207.7 223 207.8 221.6 208 219.9 208.1 217.7 208.2 216.3 208.3 215.6 208.5 215.4 208.6 211.5 208.7 211.2 208.8 210.2 209 208.1 209.1 207.3 209.2 205.6 209.3 204.8 209.4 204 209.5 201.2 209.7 200.3 209.8 199 209.9 197.3 210 195.8 210.1 192.9 210.2 193.1 210.4 190.8 210.5 189.9 210.6 189.1 210.7 187.8 210.8 185.6 211 184.2 211.1 182.9 211.2 181 211.3 181.4 211.4 180.1 211.5 177.4 211.7 177.2 211.8 175.2 211.9 172.5 212 172.5 212.1 170.9 212.2 169.2 212.4 166.6 212.5 165.8 212.6 163.2 212.7 163.4 212.8 161.8 212.9 159.8 213.1 158.3 213.2 158.7 213.3 155.3 213.4 155.5 213.5 153.6 213.6 153 213.8 149.6 213.9 149.4 214 148.8 214.1 146.4 214.2 144.1 214.3 142.3 214.5 141.8 214.6 141.6 214.7 140.5 214.8 138.1 214.9 137.3 215.1 135.9 215.2 134.3 215.3 131.8 215.4 131.5 215.6 128.9 215.8 128.3 216.1 127.4 216.4 126.2 216.6 124 216.9 123.5 217.2 122.4 217.4 120.6 217.7 118.5 217.9 117.4 218.2 115.8 218.5 114.4 218.7 113.5 219 112.4 219.3 110.2 219.5 109.3 219.8 107.6 220.1 106.2 220.3 104 220.6 103.5 220.9 101.8 221.1 100.7 221.2 99.8 221.1 98.2 221 96.8 220.9 94.5 220.8 92.3 220.8 91.8 220.7 90.6 220.6 89.3 220.5 88.7 220.5 86.6 220.4 86 220.3 83.3 220.2 81.4 220.1 81.3 220.1 78.5 220 76.8 219.9 76.1 219.8 75.3 219.8 74.5 219.7 72.3 219.6 71.5 220 69.6 221 67.5 222 66.9 223.1 65.6 224.1 65.6 225.1 63.3 226.1 62.8 227.2 62.3 228.2 62.5 229.2 61.3 230.3 59.7 231.3 59.1 232.3 57.8 233.4 58.9 234.4 54.9 235.4 53.7 236.4 52.8 237.5 52.2 238.5 51.9 239.5 51.9 240.6 50.1 241.6 49.1 242.6 48.2 243.7 47.5 244.7 45.7" stroke="#c000c0" stroke-width="1.7"/>
<path d="M244.7 45.7L245.3 46.1 247.5 44.9 248.9 47.3 250.7 48.3 252.6 45.7 253 51 254.9 52.5 256.6 47.1 257.5 49.4 259.7 52.4 261.1 55.7 263.1 53.1 264.7 55 266.3 57.7 267.5 64.3 269.5 75.4 271.2 84.6 273.4 89.1 273.6 96.7 276.1 100.4 277.4 99.4 279.3 100.7 281.3 97.7 282.4 93.5 283.9 92.4 285 93.6 287 92.6 288.5 89.8 289.3 90.2 291.7 85.6 292.6 80.5 293.3 80 295.8 75.5 297.7 75.4 299.2 76.3 300.5 75.3 301.9 71.4 303.8 67.7 305.3 64.9 305.5 64 307.6 62.7 309.6 64.7 311.1 65.2 313.2 71.2 314.9 73.3 316 74.8 317.3 81.4 320 86.1 320.3 90.7 322.2 93.7 324.9 93.5 325.8 93.4 327.3 93 328.6 92.7 330.7 92.3 333.2 92.5 333.4 89.8 334.7 85.7 337 83.6 338.9 83.1 339.7 81.2 340.6 79.6 342.8 79.5 343.8 78.5 346.2 78.6 347.2 77.2 349.1 76 350.4 72.4 352.4 72.4 352.5 75.2 355.2 74.4 356.7 76.5 358.2 73.3 358.8 78.6 361.8 78.8 362.3 76.8 364.4 76.6 365.4 76.2 367.1 80.1 368.5 80.7 369.4 80.4 371.4 79.9 374 82.4 374.2 82.3 376.4 84.4 376.9 83.7 379.9 83 380.1 84 381.8 85.3 383.8 86.2 385.7 86.7 386.3 91.3 388.4 87.8 390.3 88.2 391.5 84.5 392.6 86.5 394.8 85.7 396.6 86.2 398.8 87.8 399.8 88.6 399.7 92.5 402.8 89.8 404.2 89.8 405.3 91.4 407.1 93.2 408.8 94.4 409.6 96.2 410.6 93.3 412.6 94.5 414.6 94.3 415.5 94.2 417 94.6 418.2 96.4 420.7 97.4 421.4 95.6 423.4 97.2 424.6 94.9 427.2 96.5 428.6 96.7 430.8 98.3 430.8 97.6 432.2 99.8 434.4 101.5 435.1 100.4" stroke="#c000c0" stroke-width="1.3"/>
<path d="M192.4 205L192.7 206.1 193 208 193.3 209 193.6 209.2 193.8 208.2 194.1 206.6 194.3 205.1 194.6 204.2 194.8 202.9 195.1 201.2 195.3 199.7 195.6 198.5 195.8 197.5 196.1 196.2 196.5 194.7 197 193.6 197.4 191.7 197.8 189.5 198.3 188 198.7 187.3 199.1 185.9 199.3 186.5 199.4 188.7 199.5 189.8 199.6 190.8 199.7 192.5 199.7 194.3 199.8 195.3 199.9 196.6 200 198.4 200.1 200 200.2 202 200.3 201.8 200.4 203.5 200.5 205.2 200.8 206.8 201 208.4 201.2 209.3 201.5 212.2 201.7 211.9 201.9 213.7 202.2 215.9 202.4 217.1 202.6 217.9 203.1 219.5 203.8 221.1 204.4 221.8 205 223.5 205.6 223.2 205.9 222.5 206.1 219.9 206.4 219 206.6 217.5 206.9 217.7 207.1 215.2 207.2 214.3 207.4 212.1 207.5 211.1 207.6 209.7 207.7 207.9 207.8 207.7 208 204.5 208.1 204.7 208.2 204.7 208.3 200.9 208.5 200.1 208.6 197.6 208.6 197.2 208.7 194.7 208.7 194.9 208.8 192.7 208.8 190.4 208.9 189.3 208.9 187.7 209 187.2 209 186.6 209.1 184.3 209.1 182.4 209.2 181.2 209.3 180.4 209.3 177.3 209.4 177.9 209.4 176.4 209.5 173 209.5 174.1 209.6 170.8 209.6 170.3 209.7 169.9 209.7 166.6 209.8 165 209.8 164.1 209.9 162.7 209.9 161.9 210 160.3 210 158.9 210.1 157.5 210.1 156.3 210.2 154.4 210.2 153.8 210.3 152.2 210.4 150.1 210.4 150.6 210.5 147.1 210.5 147.1 210.6 144.6 210.6 144 210.7 142.7 210.7 141.5 210.8 140.5 210.8 137.6 210.9 138.7 210.9 135.6 211 133.4 211 131.6 211.1 132.7 211.2 130.8 211.3 128.3 211.5 127.4 211.7 126.4 211.8 124.2 212 122.4 212.1 121.3 212.3 120.5 212.5 118.5 212.6 116.3 212.8 116.3 212.9 113.2 213.1 112.4 213.3 112.4 213.4 110.3 213.6 108.9 213.8 107.4 213.9 106.7 214.1 104.5 214.2 101.8 214.4 101.9 214.6 98.3 214.4 97.6 214.1 98.7 213.9 96.9 213.6 94.5 213.3 93.4 213.1 92.1 213.1 93 213.3 93.2 213.5 94.5 213.8 96.1 214 98 214.2 99.4 214.4 100.4 214.7 102.6 214.9 102.7 215.1 104.8 215.3 105.7 215.5 106.9 215.8 109.8 216 110.2 216.2 111.1 216.4 113.2 216.7 113.9 216.9 116.3 217.3 116.3 217.9 115.2 218.5 112.5 219.1 111.8 219.7 111.9 220.3 109.2 220.9 109 221.7 107.9 222.4 104.7 223.1 105.3 223.8 103.8 224.5 102.7 225.2 102 226 100 226.7 98.5 227.4 97.6 228.1 95.8 228.8 95.1 229.6 92.2 230.3 93.6 231 90.8 231.7 90.3 232.4 89 233.1 87.6 233.9 86.4 234.6 85.2 235.3 82.8 236 82.3 236.7 82.3 237.2 79.5 237.6 78.1 237.9 78.9 238.2 76.9 238.5 75.8 238.8 73.3 239.1 72.1 239.4 71.1 239.7 69.6 240.1 67.8 240.4 65.5 240.7 64.6 241 62.7 241.3 63.4 241.6 60.7 241.9 59.5 242.3 58.4 242.6 56.9 242.9 55.8 243.2 53.7 243.5 51.7 243.8 52.6 244.1 49.5 244.5 48.3 244.8 46.7 245.1 45.5" stroke="#20902a" stroke-width="1.7"/>
<path d="M245.1 45.5L247.3 49.8 247.7 48 250 48 251.3 51.7 252 52.9 253.9 55.7 256.8 59.1 258.1 58.8 260.1 62.5 261.2 62.4 261.1 66.6 264.4 67.7 265.6 74.1 267.2 78.2 268.8 81.1 270.3 84.6 271.8 88 274.5 88.5 275.7 92.8 276.7 95.7 278.4 102.4 280.8 101 282 98 283.4 95.1 284.1 92.1 286 90.7 287.2 89.3 288.3 84.1 291.2 78.8 292.1 70.4 293.6 67.9 294.8 64.8 297.2 62.3 299.4 63.3 300.1 56.4 301.8 56.2 302.1 53.3 304.4 52.8 306 51.8 308.3 59.1 309.1 61.3 310.1 66.8 312.1 69.5 313.5 69.5 316.1 74.4 317.2 78.5 318.6 83.7 320.1 84.9 322 88.3 322.9 89.5 324.2 92 325.3 89.8 328.4 94.7 329.6 93.2 331.2 94.3 332.4 88.9 334.8 90.2 334.9 88.9 337.6 90 338.1 83 339.8 80.1 340.9 77.9 343.1 77.1 344.4 74.8 346.3 75.6 347.3 73.9 348.4 73.6 351 72.3 352.9 72.4 354.1 73.3 355.2 73.8 357 74.3 357.4 75.4 359.6 74 361.9 79.6 363.1 77.1 363.9 80.3 366.3 78.4 367.3 80.9 369.3 80.9 369.7 80.2 371.7 82.5 373.7 81.3 375.2 84.7 376.8 83.2 378 83.6 379.5 85.4 381.3 85.7 383.1 83.4 383.3 81.2 385.5 81.8 387.1 85.2 388.8 84.9 390.8 86.7 391.2 86.7 393.7 87.4 394.1 87.4 396.1 87.4 397.8 88.9 399.5 87.6 400.9 85.9 402.5 87.9 404.1 86.2 405.7 87.1 406.4 91 408.2 90.8 410.3 90 412.3 91.2 414.1 92.6 416.6 93.4 416.8 90.4 417.9 89.3 420 91.7 421.8 89.9 423.1 94.2 424 95.1 426.1 95.4 427.7 97.1 428.6 97.1 430.2 97.6 433.1 97.1 432.9 98.8" stroke="#20902a" stroke-width="1.3"/>
<path d="M192.4 205L192.7 206.5 193 208.2 193.3 209.5 193.6 209.7 193.8 207.9 194.1 206.8 194.3 205.4 194.6 203.9 194.8 202.7 195.1 201 195.3 199 195.6 197.8 195.8 197.1 196.1 195.6 196.6 194.5 197 193.2 197.4 191.3 197.8 190.3 198.3 188.8 198.7 187.4 199.1 186.9 199.3 187.9 199.4 188.7 199.5 190.1 199.7 191.9 199.8 193.1 199.9 194.3 200 195.9 200.1 197.3 200.3 197.3 200.4 197.7 200.5 200.5 200.6 202.1 200.7 203.2 200.9 205.1 201 207.7 201.1 208.4 201.2 209 201.5 209.9 201.8 211.9 202.1 213.2 202.4 215 202.6 217.1 202.9 216.8 203.2 219.4 203.5 221.5 203.8 222.3 204.1 223.6 204.4 224.2 204.7 225.8 205.3 228.7 206 228.8 206.8 230.1 207.5 230.9 208.3 230.9 209.1 233.4 209.6 233.5 209.8 231.6 210.1 231.6 210.4 229.8 210.6 226.8 210.9 226.3 211 224.3 211.2 223.5 211.3 220.3 211.4 221 211.5 219.6 211.7 217.3 211.8 217.7 211.9 215.6 212 213.8 212.2 212.5 212.3 210.9 212.4 209.2 212.5 207.9 212.7 207.2 212.8 204.7 213 203.2 213.1 203.4 213.3 200.7 213.4 199.9 213.6 197.7 213.7 196.9 213.8 195.1 214 193.7 214.1 192.7 214.3 191.6 214.4 189.8 214.6 189.5 214.7 187.4 214.9 185.4 215 184.4 215.2 183.2 215.3 182.1 215.5 179.7 215.6 177.6 215.7 176.2 215.9 174.6 216 175.3 216.2 171.8 216.3 172.6 216.5 170.4 216.6 169.4 216.8 166.3 216.9 165.8 217.1 165.4 217.2 162.7 217.3 162.9 217.5 160.8 217.6 159 217.8 158.6 217.9 156.2 218.1 155.1 218.2 153.8 218.4 151.2 218.5 150.9 218.7 150 218.8 148.5 218.9 147.5 219.1 145.3 219.2 143.1 219.4 143.5 219.5 139.7 219.7 139.9 219.8 136.5 220 136.5 220.1 136.7 220.3 132.8 220.4 133.6 220.5 130.8 220.7 129.1 221.1 128.1 221.4 126.8 221.8 125.9 222.1 124.6 222.4 123.2 222.8 121.6 223.1 119.9 223.5 119.9 223.8 118.1 224.1 115.9 224.5 114.8 224.8 113.5 225.2 113 225.5 110.6 225.8 109.3 226.2 108.2 226.5 106.7 226.9 104.5 227.2 102.8 227.5 102.8 227.9 101.2 228.2 99.7 228.4 98 228.5 96.2 228.7 95.2 228.9 93.3 229.1 91.9 229.3 90.9 229.4 90.1 229.6 87.9 229.8 87.4 230 86.1 230.2 84.2 230.3 82.4 230.5 81.8 230.7 80.4 230.9 80 231.1 77.2 231.2 76.4 231.4 75.2 231.6 74.1 231.8 70.4 232 70.5 232.4 68.7 232.8 67.1 233.3 64.4 233.7 64.2 234.1 63.2 234.6 62.6 235 60.2 235.5 59.8 235.9 57.2 236.4 56.7 236.8 55.7 237.2 53.6 237.7 52.3 238.1 51.5 238.6 51.2 239 48.7 239.4 46.5 239.9 46.1 240.3 45.3 240.8 44.5 241.2 42.3 241.7 40.9 242.1 39.6 242.5 38.4 243 37 243.4 35.1 243.9 34.6 244.3 32.2 244.8 30.1 245.2 29.6 245.6 28.2 246.1 27.6 246.5 25.3" stroke="#6a2ad0" stroke-width="1.7"/>
<path d="M246.5 25.3L247.6 28.7 249.7 32.9 250.5 31.5 252.5 30.3 254.4 35.8 256 35.1 256.2 37.5 258.8 37.2 260.1 40.7 261.6 44 262.7 45.2 263.9 43.5 266.2 45.7 268.2 41.5 268.3 40.8 270.6 46 272.5 53.1 274.2 59.4 274.5 64.1 276.9 71.9 277.5 75.7 280.6 79.2 281.3 83.6 283.2 87.4 284.6 89.1 285.5 83.8 288.7 84 289.5 82.7 290.7 80.3 291.6 72.8 294.8 70 295.2 68.4 297.3 64.1 299.4 64 301.1 59.9 302 58.4 303.7 57.1 305.5 57.1 306.9 62.5 307.2 64.3 309.9 66.8 311.1 68.2 313.1 72.4 313.8 77.9 315.8 83.1 317.4 82.2 318.9 87 319.9 87.9 321.7 91.2 323.7 89.8 326.3 92 326.5 90.4 328.4 91.8 329.7 90.1 331.6 88.1 331.6 87.1 333 86.6 335.5 86.7 336.8 85.2 338.2 84.8 339.9 85.8 341.8 85.1 344.1 84.9 343.6 87.4 345.6 87.6 347.7 83.5 348.4 80 350.4 80.4 351.7 79.5 353.2 78 355 79.2 356.2 79.3 358.2 78.6 360.4 79.3 360.8 83.3 363 83.4 364.1 87.5 365.5 87.8 367.7 88.3 369.2 88.7 370.5 92 372.4 92.5 373 90.5 375.2 90 376.8 90.5 377.4 92 380.8 95.2 381.3 95.4 382.8 93.9 385 90.6 386.6 98.3 387.9 99.1 389.4 99.5 390.6 98 391.6 97.9 393.2 97 395.4 92.8 397.7 95.3 398.1 92.1 400.6 95.2 401.2 95.8 403.3 94.5 405.5 95.8 406.2 95 406.9 95.5 410.3 94.9 410.6 94.5 413.6 93.9 414.9 94.5 416.6 94.6 417.4 92.9 419.7 93.8 420.3 92 422.6 94.3 423.5 91.8 425.4 89.1 427.1 89.6 428 94.2 429.1 95.7 431.4 95.9 432.9 96.5 434.4 92.5" stroke="#6a2ad0" stroke-width="1.3"/>
<path d="M192.4 205.1L192.7 206.8 193 207.6 193.3 209.1 193.6 209.7 193.8 208.1 194.1 206.6 194.3 205 194.6 203.7 194.8 202.6 195.1 201.2 195.3 200.1 195.6 198.8 195.8 197.1 196.1 196 196.5 194.8 197 192.6 197.4 191.1 197.8 190 198.3 188.4 198.7 187.6 199.1 186.9 199.3 187.7 199.4 188.1 199.6 189.2 199.7 191.2 199.8 192.6 199.9 194.5 200 194.9 200.2 196.3 200.3 198.6 200.4 200.4 200.5 201.2 200.7 203.4 200.8 203.3 200.9 205.8 201 205.4 201.2 207.6 201.5 208.8 201.8 211.4 202.1 211.9 202.4 213.7 202.7 215.8 203 216 203.3 218.5 203.6 218.5 203.9 221.6 204.2 221.3 204.5 222.5 205.3 224.9 206.1 226.7 206.9 225.6 207.6 228.8 208.4 230.1 209 229.7 209.2 227 209.5 225.9 209.8 225.6 210 222.3 210.3 223.3 210.5 222.4 210.6 218.7 210.7 217.4 210.8 217.4 211 215 211.1 214.6 211.2 212.4 211.3 210.9 211.4 209.8 211.6 209 211.7 207.5 211.8 205.6 211.9 205.3 212 204 212.1 202 212.2 199 212.3 198.2 212.4 197.1 212.5 196.2 212.6 195.4 212.7 192.6 212.8 192.5 212.9 189.3 213 189 213.1 187.1 213.2 185.8 213.2 185.5 213.3 182.9 213.4 181.8 213.5 181.6 213.6 179.1 213.7 176.5 213.8 175.3 213.9 174.4 214 173.5 214.1 172.1 214.2 169.2 214.3 168.3 214.4 166.7 214.5 166.3 214.6 165.2 214.7 163.3 214.8 162.4 214.8 160.5 214.9 159.3 215 158.9 215.1 157 215.2 154.6 215.3 153.4 215.4 153.1 215.5 150.8 215.6 148.9 215.7 148.3 215.8 145.7 215.9 145.4 216 143.4 216.1 142.6 216.2 142.6 216.3 139.8 216.4 137.4 216.4 135.5 216.5 135.5 216.6 133.7 216.7 131.5 216.8 130.7 217 129.7 217.2 127.5 217.4 126.8 217.7 125.9 217.9 123.6 218.2 123.8 218.4 120.7 218.7 119.2 218.9 119.4 219.2 116.9 219.4 115.3 219.7 113.8 219.9 113.4 220.1 111.2 220.4 109.9 220.6 107.5 220.9 106.5 221.1 105.8 221.4 103.7 221.6 103 221.9 102.8 222.1 100.6 222.2 100 222.2 97 222.3 96.8 222.3 94.6 222.3 94.1 222.3 91.3 222.3 90.8 222.3 90 222.3 88 222.4 86.7 222.4 84.8 222.4 81.9 222.4 81.6 222.4 80.3 222.4 80.1 222.4 78.1 222.5 75.8 222.5 75.9 222.5 74.1 222.5 71.2 222.5 72 222.8 69.9 223.6 70.6 224.4 68.1 225.2 65 226 65.9 226.8 64 227.6 62.4 228.4 61.8 229.2 60.9 230 58.9 230.8 57.4 231.6 57.4 232.4 56 233.2 53.7 234 54.4 234.8 52.1 235.6 52.5 236.4 51.1 237.2 48.7 238 48.2 238.8 45.7 239.6 45.4 240.4 42.7 241.2 42.1 242 41.8 242.9 41.1 243.7 40.2 244.5 39.2 245.3 38" stroke="#ff40a0" stroke-width="1.7"/>
<path d="M245.3 38L246.5 41.8 248.3 41.9 250.1 43.5 252.4 46 253.5 48.2 255.8 52.8 255.9 58.9 258.2 58.7 259 61.8 260.5 62.7 263.1 66.5 263.8 67 266.2 73.6 267.4 74 269.9 73.9 271.5 74.1 271.8 80.1 274.4 87.4 275.6 89.7 277.4 88 278.5 87.7 280.9 87.6 282.3 92.3 283.4 92.9 284.2 92.9 285.3 87.8 288.3 86.9 289.5 85.6 290.3 82.6 292 78.3 295.1 77.1 294.9 73.2 297.1 72.9 299.1 69.8 301 66.5 301.6 61.8 303.2 59 304 58 306.2 58.2 307.5 57.6 308.5 55.6 310 56.2 312.7 57.2 314.3 61 316.6 65.1 316.8 68.5 317.7 70.9 321.1 74 322.1 79.7 324.2 82.2 324.7 84.4 326.5 87.2 328.9 90.6 329.5 91.8 331.4 89.2 333 83.8 335 86.1 336.7 84.1 337.4 84.5 339.8 84 340.8 79.5 342.5 79 344.2 79.2 346.1 74.5 347.2 73.8 349.1 73.6 350.1 73.3 351.3 74.9 353 72.8 355.1 76.4 356.6 79.6 358.1 81 359 79.7 360.7 81.4 362.6 81.8 364.5 82.4 365.9 83.8 367.1 85.7 368.4 86.5 369.6 85.4 371.5 87.3 373.8 90 374.7 88.6 376.1 91.1 378 92.8 380.7 91.6 380.7 93.4 382 93.1 383.2 96.2 384.6 98.4 387.2 96 388.7 96.7 389.8 94 391.8 95.9 393.4 96.7 394.3 95.9 396.3 93.9 398.1 95.5 398.5 93.1 400.6 94.4 402.3 89.5 402.9 90.8 406.4 91.4 407.3 91 409.2 91.9 409.1 91.7 411.3 94 413.4 89.9 414.1 90.3 416.8 88.1 416.9 87.7 418.9 84.5 420.2 85 421.2 86.4 423.3 83 425 86.2 426 86.1 427.8 89.9 430 92.3 431.5 95.4 432.9 96.1 434.5 98.1" stroke="#ff40a0" stroke-width="1.3"/>
<path d="M192.4 204.9L192.7 206.6 193 208.3 193.3 209 193.6 209.7 193.8 208.5 194.1 206.5 194.3 205.3 194.6 204.3 194.8 203 195.1 201.2 195.3 199.3 195.6 198.3 195.8 197.1 196.1 195 196.5 193.6 197 193 197.4 191.6 197.8 190.4 198.3 189.1 198.7 187.5 199.1 185.8 199.3 186.5 199.3 188.3 199.4 190 199.5 191.5 199.6 193.1 199.7 193.9 199.7 195 199.8 196.9 199.9 198.1 200 199.5 200 202.2 200.1 201.1 200.2 203.4 200.3 206 200.4 206.9 200.4 208.3 200.6 209.5 200.8 211 201 211.6 201.2 214.7 201.4 214.4 201.6 216.5 201.8 219.1 202 220.2 202.2 220.7 202.4 222.1 202.6 223.1 203.1 224.5 203.7 226 204.2 228.4 204.8 228.4 205.3 230.5 205.6 229.1 205.8 227.7 206.1 225.8 206.3 225.2 206.6 223.4 206.8 222 207 220.1 207.1 217.5 207.2 218.2 207.3 216.9 207.5 214.5 207.6 213.4 207.7 212.3 207.8 210 208 209.8 208.1 208.4 208.2 207.1 208.3 205.8 208.4 202.3 208.4 202.7 208.5 200.5 208.6 200.3 208.6 198.8 208.7 197.3 208.7 195.2 208.8 195.9 208.9 192.4 208.9 190.2 209 190.3 209 187.1 209.1 188.2 209.1 186.2 209.2 185 209.3 183.4 209.3 181.5 209.4 178.8 209.4 177.9 209.5 177.4 209.6 175.4 209.6 174.4 209.7 172.2 209.7 170.8 209.8 170.2 209.8 169.1 209.9 167.1 210 165 210 163.1 210.1 164.4 210.1 160.6 210.2 159.4 210.3 158.1 210.3 157.9 210.4 155.3 210.4 154.9 210.5 153.3 210.5 150.8 210.6 150.4 210.7 147.9 210.7 147.3 210.8 146.6 210.8 144.4 210.9 142.5 211 141.5 211 140.3 211.1 139.2 211.1 135.9 211.2 134.8 211.2 135.1 211.3 133.3 211.4 132 211.4 130.7 211.6 129 211.9 127.4 212.1 126.5 212.4 125.5 212.6 123.9 212.9 122.2 213.2 120.1 213.4 119.6 213.7 117.2 213.9 116.2 214.2 115.4 214.5 114 214.7 113.4 215 111.8 215.2 110.1 215.5 108.1 215.8 107 216 105.4 216.3 105.5 216.6 103.2 216.8 101 217.1 99.5 216.9 99.6 216.6 96.7 216.4 96.2 216.1 94.7 215.9 93.9 215.7 91.1 215.4 90.7 215.2 89.1 214.9 88.2 215 89.1 215.2 89.5 215.5 90.7 215.7 92.9 215.9 92.6 216.1 95.2 216.4 95.7 216.6 96.9 216.8 98 217 99.3 217.2 102.6 217.5 104 217.7 104.8 217.9 106.9 218.1 107.6 218.4 108.6 218.6 109.5 218.8 112.3 219.5 112.1 220.5 111.4 221.5 108.8 222.5 108.2 223.3 106.3 224.1 107 224.9 105.5 225.7 104.2 226.4 102.6 227.2 101.4 228 100 228.8 99.9 229.6 97.5 230.3 97.4 231.1 95.8 231.9 93.7 232.7 92.2 233.5 91.5 234.2 90.9 235 88.8 235.8 89 236.6 88.3 237.4 86.6 238.1 83.8 238.9 82.1 239.7 83.4 240.2 82.6 240.5 79.8 240.9 79.1 241.2 77.1 241.5 75.5 241.8 75.3 242.1 72.8 242.4 72.5 242.7 71.8 243.1 69 243.4 69.1 243.7 65.4 244 65.7 244.3 63.6 244.6 64.2 244.9 60.9 245.3 58.9 245.6 59.3 245.9 55.6 246.2 55.7 246.5 53.4 246.8 53.7 247.1 51.2 247.4 50.5 247.8 48.5 248.1 46.3" stroke="#2030f0" stroke-width="1.7"/>
<path d="M248.1 46.3L249.9 47 252.1 47.4 252.9 54.2 254.5 57.5 255.3 63.4 257.4 64.2 259.5 68.4 260.6 72.1 261.7 76.8 263.5 78.6 264.7 84.4 266.2 89.3 267.4 92.8 270.1 95.4 271.6 98.4 272.6 98.2 273.6 99.1 275.6 100.7 278.2 98.2 278.2 97.3 280.1 94.5 281.6 93 283.7 90.8 284.3 90.5 286.5 90 287.6 83.7 289.3 79.6 290.5 76.7 292.8 76.4 293.8 73.4 295.3 72.2 297.6 66.5 298.8 65.3 301.3 63.3 301.9 64.4 303.3 60.7 304.8 59.2 307.5 59 308.4 63.1 309.2 64.1 311 64.2 312.2 68.6 314.2 69.9 315.2 74.2 316.7 76.4 318.7 80.3 320.7 82.1 322 87.7 323.4 88.7 324.6 91.2 325.1 95.8 327.6 96.7 329.1 100.9 331 98.9 333.1 101.6 334.1 101.3 334.5 99 336.8 97.3 338.2 98.9 340.1 98.7 341.3 98.4 342 97.5 343.9 95.9 345.7 94.7 346.4 91.4 348.8 87.1 350.2 83.8 352.4 82.5 353.3 83.5 354.6 81.4 356.4 80 357.9 81.9 359.9 78.5 360.5 81.4 361.4 81.8 365.3 81 366 83.9 367.2 85.4 369.9 85.3 369.9 85.6 371.6 83.7 373.3 83.6 375.4 86.1 376.5 87.9 378.7 92.3 379.7 91.5 382.1 93.3 383.3 96.3 383.9 95.4 386.2 95.2 387.3 96 389.3 92.3 390.9 93.8 393.5 92.1 393.9 91.7 394.9 92 397.2 93 398.2 93.9 401.1 92.8 402.2 91.2 404.1 90.5 404.8 91.6 406.1 91.7 408.2 96.8 409 92.1 410.8 92.8 412.4 89.8 414.3 89.4 415.2 94 416.5 89.7 419.7 89.8 420.3 88.8 422.1 88.1 424 89.1 425.5 89.8 426.5 92.3 428.1 92.1 430.6 94.6 431.9 95.9 433.2 98 435.1 96.9 435 96.3" stroke="#2030f0" stroke-width="1.3"/>
<path d="M192.4 205.2L192.7 206.9 193 208.9 193.3 209.6 193.6 209.1 193.8 207.9 194.1 206.8 194.3 205.7 194.6 204.7 194.8 202.9 195.1 201 195.3 200 195.6 198.5 195.8 197 196.1 195.4 196.5 194 197 193 197.4 191.7 197.8 190.1 198.3 188.4 198.7 187.2 199.1 185.7 199.3 186.3 199.4 187.8 199.6 189.8 199.7 191.4 199.8 192.8 199.9 194.2 200.1 194.4 200.2 198.3 200.3 198.6 200.4 200.2 200.6 201.4 200.7 203.3 200.8 204.5 200.9 205.7 201.1 206.9 201.2 207.1 201.3 210.1 201.6 210.8 201.9 212.5 202.3 214.4 202.6 214.5 202.9 215.9 203.2 218.4 203.5 218.7 203.8 220.2 204.1 221.6 204.4 223.8 204.7 224.5 205.2 226.2 205.9 228.2 206.7 228.8 207.5 229.9 208.3 230.7 209.1 231.6 209.7 231.2 209.9 230.7 210.2 230.3 210.5 229.4 210.7 226.3 211 225.3 211.2 224.3 211.3 222.7 211.4 220.8 211.5 218 211.7 218 211.8 216.4 211.9 215.3 212 214 212.2 212.2 212.3 211.5 212.4 209.4 212.5 207.5 212.6 207.3 212.8 205.6 212.9 204.6 213 203.6 213.1 200.4 213.2 199.9 213.3 197.7 213.4 197.4 213.5 194.9 213.6 192.5 213.7 194 213.8 190.8 213.9 189.8 214.1 189.1 214.2 188 214.3 186.1 214.4 184.3 214.5 184.6 214.6 181.6 214.7 179.7 214.8 179.2 214.9 177.1 215 176.4 215.1 174.1 215.2 173.7 215.3 170.8 215.5 170.7 215.6 169.6 215.7 167.9 215.8 166.3 215.9 166.6 216 163.6 216.1 161.6 216.2 160.8 216.3 160.3 216.4 157.6 216.5 155.3 216.6 154.9 216.7 152.8 216.9 152.1 217 149.7 217.1 150.6 217.2 148 217.3 147.1 217.4 145.3 217.5 144.4 217.6 142.2 217.7 140.7 217.8 139 217.9 137.8 218 137.4 218.1 136.1 218.3 133.6 218.4 131.5 218.5 131.8 218.6 129.2 218.9 127.9 219.3 126.9 219.6 126.4 219.9 124.6 220.3 122.8 220.6 120.5 220.9 120.2 221.3 119.7 221.6 117.6 221.9 116.6 222.3 114.8 222.6 113.2 223 112.2 223.3 110.7 223.6 111 224 108.1 224.3 106.5 224.6 105.2 225 104 225.3 102.7 225.6 101.7 225.9 100.3 225.7 98.5 225.6 95.5 225.4 96.1 225.3 94.3 225.1 93.8 225 89.6 224.8 90.5 224.7 86.9 224.5 87.2 224.4 85.5 224.2 85 224 81.4 223.9 82.1 223.7 78.9 223.6 78.4 223.4 76.8 223.3 76.3 223.1 74.2 223 73.2 222.8 71.2 222.7 69.9 223.2 68.5 223.9 68.1 224.6 66.1 225.3 64.7 226 64.7 226.7 63.3 227.4 62.9 228.2 60.5 228.9 59.9 229.6 57.6 230.3 57.6 231 56.7 231.7 55.5 232.4 51.9 233.1 51.1 233.8 49.4 234.5 50.3 235.2 49.2 235.9 46.9 236.7 45.3 237.4 44.2 238.1 42.8 238.8 41.8 239.5 40.5 240.2 40.4 240.9 40.1 241.6 37.3 242.3 36.8 243 36.1 243.7 34.8 244.5 32.4 245.2 31.7" stroke="#8a1a9a" stroke-width="1.7"/>
<path d="M245.2 31.7L246.6 33.6 247.5 37.2 249.8 36.5 250.3 42.7 253.1 43.7 253.7 47.2 256.1 46.4 258 57.1 258.7 60.8 260.9 70.2 262.7 67.8 263.1 74.1 264.1 73.8 266.4 84.1 268.4 88.4 269.3 85.5 271.4 87.7 273 90.1 274.8 93.8 276.6 94.6 277.7 94.5 278.7 93.4 280.5 94.6 281.4 94.5 284.1 90 286.4 92.1 286.2 87.3 288.7 84.8 290.4 84 293.1 79.9 294.2 76.5 294.5 72.7 296.8 69.4 298.2 65.3 298.5 66.5 301 61.4 302.4 65.5 304.9 60.6 305.5 62.5 307.4 58.7 309.5 56.9 310.8 53.7 311.2 54 313.3 53.4 315.1 55.6 316.6 62 317.8 66.8 319.9 71.8 320.5 79.4 322.2 83.4 324.6 87 325.3 93.8 326.2 98 329.1 102.9 329.3 102.2 331.2 101.5 333.3 99.7 335.1 102.6 336.7 99 338.4 98.5 339.8 93 341.3 91.9 342.6 89.1 344 87.2 345.4 86.7 348.4 85.3 349.3 85.4 350.6 84.2 352.6 82.3 353.8 80.8 355.4 80.4 356.8 77.7 358.6 74.4 359.9 79.2 360.8 81.2 363.1 80.9 364.9 78.2 366.1 80.5 367.6 82.7 369.4 81.1 370.8 83.6 371.8 87.2 373.9 85.7 375.2 85.9 376.5 86.3 378.9 89.1 380.4 91.4 382.2 92.6 383.2 93.6 385.2 92.4 386.6 89.2 388.4 90.6 389.2 88.9 391.7 91.7 392.4 91.5 393.4 93.5 395.9 91.7 396.8 95.2 399.6 95.1 400.1 94.8 402.3 93 403 90.5 405.6 92.1 407.7 91.8 408.4 95.6 410.8 93.2 411.7 92 412.8 91.5 414.8 91.1 416.1 94.5 418.4 94.1 420 97.6 422.1 92.3 422.4 91.8 424.4 91.3 425.7 90.7 427.2 93.3 429 93.8 431 94.7 432.7 94.9 434.5 91.4" stroke="#8a1a9a" stroke-width="1.3"/>
<path d="M192.4 205.3L192.7 206.7 193 207.9 193.3 209.4 193.6 209.8 193.8 208.1 194.1 206.8 194.3 205.4 194.6 203.8 194.8 202.4 195.1 200.8 195.3 199.4 195.6 197.9 195.8 196.8 196.1 195.8 196.5 193.9 197 192.3 197.4 191.5 197.8 190 198.3 188.8 198.7 187.5 199.1 186.1 199.3 186.9 199.4 188.4 199.5 190.1 199.6 192 199.8 193.8 199.9 194.6 200 195.6 200.1 197 200.2 197.5 200.3 200.6 200.4 202 200.6 203.5 200.7 204.6 200.8 205.2 200.9 206.1 201 208.6 201.1 209.4 201.4 211.1 201.7 213.4 202 212.5 202.3 213.9 202.5 215.5 202.8 217.4 203.1 219.2 203.4 220.9 203.7 221.5 203.9 224.3 204.2 224.6 204.5 226.7 205.3 228.6 206 229.4 206.7 229.6 207.5 231 208.2 232.6 208.8 233.5 209.1 230.7 209.4 229.3 209.6 228.3 209.9 228.2 210.1 226.1 210.4 224.5 210.5 222.1 210.6 220.8 210.7 220.6 210.8 218.2 211 218.3 211.1 215.5 211.2 214.9 211.3 213.9 211.5 212.4 211.6 210.5 211.7 210.7 211.8 207.7 211.9 206.6 211.9 204.7 212 204.3 212.1 203 212.1 201.6 212.2 199.5 212.3 198.6 212.3 195.7 212.4 194.8 212.4 194.2 212.5 190.6 212.6 189.7 212.6 190 212.7 188.2 212.8 186.4 212.8 185.1 212.9 184.9 213 182.7 213 180.7 213.1 178.5 213.1 178.3 213.2 175.9 213.3 175.2 213.3 173.4 213.4 173.5 213.5 170.6 213.5 169.7 213.6 169.4 213.6 165.3 213.7 165.1 213.8 162.9 213.8 163.9 213.9 161.6 214 159.8 214 158.6 214.1 157.6 214.1 156.1 214.2 154.3 214.3 153.5 214.3 151.7 214.4 151.5 214.5 147.8 214.5 147 214.6 146.4 214.7 145 214.7 142.6 214.8 142.6 214.8 140.9 214.9 140 215 137.2 215 136.9 215.1 134.5 215.2 133.4 215.2 132.3 215.3 130 215.6 128.7 216 128.9 216.5 125.6 216.9 125.3 217.3 124.6 217.7 123.4 218.1 120.8 218.6 118.8 219 119 219.4 116.5 219.8 115.5 220.2 113.6 220.6 111.8 221.1 111 221.5 109.9 221.9 107.5 222.3 108.5 222.7 105.9 223.2 105.9 223.6 104.2 224 101.6 224.4 100.7 224.6 99 224.6 97.9 224.6 96.6 224.7 95.4 224.7 94 224.7 92.4 224.7 90.4 224.7 88.3 224.7 88.2 224.7 86.5 224.7 85.7 224.7 83.4 224.7 82.6 224.7 80.3 224.7 79.9 224.7 78 224.7 77.1 224.8 77.3 224.8 74.5 224.8 72.5 224.8 71.3 224.9 69.8 225.7 68.5 226.4 67.4 227.2 66.2 227.9 65 228.6 64.5 229.4 63.3 230.1 62.6 230.9 60.5 231.6 59.3 232.3 59.5 233.1 55.5 233.8 55.5 234.6 54.5 235.3 53.4 236.1 51.3 236.8 50.3 237.5 48.3 238.3 47.8 239 45.6 239.8 46.3 240.5 44.4 241.2 42.6 242 43.2 242.7 41 243.5 39.1 244.2 38.9 244.9 37" stroke="#b0a000" stroke-width="1.7"/>
<path d="M244.9 37L247.4 40.1 248.3 40.5 249.4 42.6 251.7 40.2 253.3 44.5 253.9 43.1 255.7 41.5 257.4 47.7 258.4 51.1 260.4 53.4 262.4 55.5 264.5 53.1 264.2 53.8 266.9 50.5 267.4 52.1 269.3 60.3 271.4 62.7 272.2 65.3 274.3 71 275.4 73.6 277.5 76.7 278 86.8 281.2 88.4 281.2 91 282.9 89.5 284.2 89.1 286.9 84.4 288 82 289.4 76.8 291.6 75.3 291.8 71.7 293.5 68.1 295.5 65.9 296.5 65.2 298.3 65.2 299.9 62.8 301.4 62.5 303.2 60.4 304 61 306.6 64.6 307.7 68.3 308.9 70.3 310.5 74.1 312.4 74.9 313.8 80.7 315.6 82.1 317.6 86 318.4 87.5 319.2 92.9 321.7 97.3 323.1 99.2 324.7 101.2 326.1 97.5 326.9 96.9 329.1 98.2 330.9 93.9 332.3 93.3 334.7 91.8 336.3 93.9 336.1 94.3 339.5 91.5 339.6 86.9 341.5 86.7 344.6 84.9 345.5 82.8 346.8 82.4 347.4 80.7 349.5 80.4 351.2 80.5 352.1 79 354.3 79.7 355 82.4 357.8 82.6 358.6 81.9 359.8 79.3 362.4 79.6 363.6 79.8 365.4 82.5 365.6 83 367.5 83 369.2 79.9 370 83.1 372.4 83.9 373.9 87.7 375.3 85.1 376.8 86.8 377.7 87.1 380.2 85.6 382.1 87.2 382.3 85.5 383.9 88.4 386 87.8 387 90.2 388.6 92 390.4 92.7 391.4 91.5 392.8 90.4 395.6 90.8 396.1 90.3 398.6 92.1 399.3 94.1 401.5 91.3 402.4 90.2 403.4 89.5 405.9 88.9 407.1 87.3 408.4 85.5 411.2 83 412.6 84.4 412.7 86.6 414.7 85.7 416 83.9 417.3 84.5 419.5 87.7 421.1 86.6 422.8 89.4 423.2 86.8 425.5 86.8 427.4 88.9 427.3 90.9 429.6 87.9 430.9 89.6 433.2 90.3 433.7 91" stroke="#b0a000" stroke-width="1.3"/>
<path d="M192.4 205.2L192.7 207.1 193 208.1 193.3 208.6 193.6 209.3 193.8 208.5 194.1 207 194.3 204.9 194.6 203.8 194.8 202.6 195.1 200.8 195.3 199.9 195.6 198.4 195.8 196.7 196.1 195.6 196.6 194.3 197 192.9 197.4 191.4 197.9 189.9 198.3 188.5 198.7 186.8 199.1 186.2 199.3 187.8 199.4 189 199.4 190 199.5 191.2 199.6 192.8 199.7 193.9 199.8 195.5 199.9 197.1 199.9 198.3 200 199.5 200.1 201.3 200.2 202.7 200.3 204.4 200.4 205.9 200.7 206.1 200.9 207.9 201.1 210 201.3 211.5 201.5 212.6 201.7 215.8 201.9 216.1 202.1 216.7 202.5 218.6 203 220.3 203.6 220.9 204.2 220.7 204.7 223 205 221.5 205.2 221.6 205.5 217.5 205.8 218.4 206 215.8 206.2 215.2 206.4 213 206.5 211.9 206.6 211.1 206.7 209 206.9 208.3 207 206.1 207.1 204.4 207.2 203.2 207.4 201.6 207.5 200.4 207.6 200 207.7 196.9 207.7 195.1 207.8 194.8 207.8 194.6 207.9 192.8 207.9 191.5 208 190.1 208 187.3 208.1 186.5 208.1 183.1 208.1 183.1 208.2 182.6 208.2 179.7 208.3 177.9 208.3 177 208.4 176.7 208.4 175.9 208.5 175.5 208.5 173.3 208.5 169.8 208.6 167.8 208.6 168.2 208.7 167.4 208.7 164.1 208.8 163.5 208.8 162.1 208.8 161 208.9 159.5 208.9 158.5 209 157.5 209 155.4 209.1 154.5 209.1 153.9 209.2 150.4 209.2 149 209.2 148.7 209.3 148.2 209.3 145.6 209.4 144.8 209.4 142.4 209.5 141.9 209.5 139.4 209.6 138.9 209.6 137.3 209.6 135.9 209.7 135.2 209.7 133.5 209.8 131 209.8 130.6 210 127.4 210.2 127.9 210.4 127.7 210.6 124.7 210.8 123.3 211 121.6 211.2 120.8 211.4 118.5 211.6 117.9 211.8 115.8 212 114.3 212.2 113.3 212.4 111.8 212.6 109.2 212.8 110.4 212.9 107.7 213.1 105 213.3 105.6 213.5 103.4 213.7 102.2 213.9 101.1 213.8 98.6 213.5 95.8 213.3 96.4 213 95.2 212.7 94.4 212.4 91.8 212.1 90.7 211.8 89.8 211.8 89.1 212 90.6 212.2 92.3 212.4 92.8 212.7 96 212.9 95.7 213.1 97.7 213.3 98.9 213.6 100 213.8 102.3 214 104 214.2 105.7 214.5 106.5 214.7 107.2 214.9 109.5 215.1 109.3 215.3 111.7 215.6 113.4 216.1 113.5 216.9 111.2 217.7 109.8 218.5 110.8 219.4 108.2 220.1 106.2 220.9 105.3 221.7 105 222.4 104.6 223.2 102.6 223.9 102.2 224.7 100.4 225.4 99.3 226.2 98.5 227 96.4 227.7 95.6 228.5 94 229.2 92.6 230 92.3 230.8 90.1 231.5 89.5 232.3 87.7 233 87 233.8 85.5 234.5 85.5 235.3 83.6 236.1 82.4 236.8 82.3 237.4 77.8 237.7 77.7 238 75.2 238.3 75.7 238.7 74.6 239 73.4 239.3 71.8 239.6 69.6 239.9 70 240.2 67.6 240.5 65.9 240.9 63.9 241.2 63.6 241.5 61.6 241.8 60.2 242.1 59.3 242.4 57.9 242.7 55.8 243.1 55.9 243.4 53 243.7 51.5 244 51.1 244.3 49.6 244.6 48.2 244.9 46.5 245.3 45.4" stroke="#d010c8" stroke-width="1.7"/>
<path d="M245.3 45.4L246.6 48.5 247.5 49.2 249.6 50.7 250.8 48.6 252.8 50.1 254.6 53.2 255.7 50.6 257.4 55.2 258.4 58.9 260.9 64.4 262 66.4 264.4 66.7 265.9 69.7 266.6 75.2 268.4 81 270.1 81.8 272 82.5 272.5 85.5 274.7 86.8 277.2 85.4 277.8 84.6 279.5 85.3 281 85.9 282 85.1 284.5 82.2 285.7 84.7 287.2 81.9 289 78.3 290.6 80 290.9 76.7 293.5 75.5 294.6 71.9 296.4 69.2 297.6 65.9 299 64.4 301.4 63.6 302.5 63.3 303.9 61.7 305.4 66.9 307.1 64.8 308.5 69.1 309 68.6 311.2 68.3 313 69.6 314.9 68.4 316.7 70.2 317.2 71.3 320 75.7 320.7 79.4 322.4 79.9 323.4 82.7 324.9 87 327.3 87.6 328.1 86.4 329.7 82.9 331.7 84.3 333.5 86.7 333.7 86 335.8 88.3 337.5 84.5 339.8 84.3 341.7 82.1 342.2 82 343.9 81.2 345.7 82.2 347.4 82.8 348.3 81.7 350.4 79.9 351.3 80.1 351.9 78.6 354 81.3 356.3 81.3 358 83.9 358.2 81.6 360 82.6 362.3 81.8 362.3 82.3 365.6 81.6 367.3 79.7 367.1 83.3 370.3 85.3 371.4 87.8 373.6 85.2 374.7 87.1 376 85.3 377.6 88.7 379.5 88.8 380.7 89.4 382.2 88.9 383.1 92.8 385.5 89.6 386.8 89.5 389.1 88.6 389.8 90.4 391.3 93.4 392.6 92.1 394.8 89.4 395.9 90 397.2 89.1 399.8 86.9 401.4 87.7 401.9 85 403.2 87 405.7 85.8 406.4 88.7 409.5 86 409.8 88.1 411.8 88.1 412.3 89.8 414.4 87.4 416.5 87.3 417.7 88.1 418.8 86.7 421.7 87.7 422.5 84.1 423.6 86.3 424.9 86.8 426.6 85.3 428.9 86.8 429.5 86.8 431.3 88.3 432.5 87.5 434.9 88.2" stroke="#d010c8" stroke-width="1.3"/>
<path d="M192.4 205.5L192.7 206.7 193 208.1 193.3 209.4 193.6 209.7 193.8 208.2 194.1 207.1 194.3 205.4 194.6 203.4 194.8 202.3 195.1 201.5 195.3 200.1 195.6 198.4 195.8 197.1 196.1 195.8 196.6 193.8 197 192.1 197.4 190.7 197.8 189.6 198.3 188.7 198.7 187.5 199.1 186.9 199.3 187.6 199.4 188.5 199.5 189.9 199.5 190.6 199.6 191.9 199.7 193.9 199.8 195.6 199.9 196.9 200 197.9 200.1 198.9 200.2 201.3 200.2 202.3 200.3 204.1 200.4 205.4 200.5 207.1 200.7 207.1 200.9 209.5 201.1 210.9 201.3 212.3 201.6 213.3 201.8 213.7 202 217.2 202.2 218.7 202.4 221.2 202.6 221.4 202.9 223.5 203.4 224 204 224.6 204.6 226.5 205.2 226.6 205.8 228.9 206.1 227.4 206.4 225.3 206.6 225.6 206.9 224.1 207.2 222.2 207.4 221.1 207.5 220.3 207.6 217.6 207.8 215.3 207.9 214.2 208 214 208.1 212.2 208.3 209.6 208.4 210.2 208.5 208 208.6 207.6 208.8 205.9 208.9 203.3 208.9 202.3 208.9 200.3 209 198.8 209 197.8 209 196.9 209 196.2 209.1 193.1 209.1 192.9 209.1 191 209.2 189.4 209.2 188.9 209.2 186.5 209.2 186.3 209.3 183.6 209.3 181.8 209.3 181.6 209.4 178.6 209.4 177.4 209.4 176.7 209.4 175.4 209.5 173.8 209.5 171.2 209.5 170.2 209.6 170.2 209.6 168.8 209.6 166.2 209.6 165.7 209.7 164.3 209.7 163.5 209.7 160.8 209.8 161 209.8 158.3 209.8 158.1 209.8 156.3 209.9 153.5 209.9 152.6 209.9 151.6 209.9 150.8 210 147.6 210 146.8 210 146.2 210.1 144.7 210.1 142.2 210.1 140.9 210.1 140.5 210.2 138 210.2 137.5 210.2 136.6 210.3 134.5 210.3 131.1 210.3 132.5 210.3 131.1 210.6 129.9 210.9 128.1 211.2 124.9 211.5 125.8 211.8 123.6 212.2 122.7 212.5 120.5 212.8 119.1 213.1 117.7 213.4 117.7 213.7 115.3 214 113.6 214.3 111.4 214.6 111.3 214.9 109.6 215.3 108.3 215.6 107.6 215.9 106 216.2 104.1 216.5 102.9 216.8 101.4 217.1 100.5 216.6 99.2 216.1 97.4 215.6 95.4 215.1 95.3 214.6 94 214.2 91.7 214.4 94.2 214.7 95 214.9 95.1 215.1 98 215.3 100.1 215.5 100.3 215.8 101.7 216 104.4 216.2 104.2 216.4 105.7 216.7 107.6 216.9 109.7 217.1 111.1 217.3 111.6 217.6 113.2 217.8 114.8 218 115.9 218.3 116.3 218.9 114.9 219.4 114.9 220 112.9 220.5 113.9 221.1 110.9 221.7 108.6 222.2 107.9 222.8 106.9 223.4 105.6 224 104.4 224.6 103.1 225.2 101.4 225.8 100.7 226.4 100.5 226.9 97.3 227.5 96.1 228.1 95.6 228.7 94.7 229.3 93.1 229.9 92.1 230.5 89.9 231.1 88.5 231.7 87.8 232.2 86.6 232.8 86 233.4 84.7 234 80.9 234.6 81.5 235.2 79.2 235.8 76.8 236.4 77.4 237 75.7 237.5 74.3 238.1 72.3 238.7 71.2 239.3 70.5 239.9 68.3 240.4 68 240.7 66.8 241 65.2 241.3 64.2 241.6 62.5 241.9 60.3 242.3 59.1 242.6 58.5 242.9 57.8 243.2 55.8 243.5 53.9 243.8 53.1 244.1 50.2 244.5 49.5 244.8 48.5 245.1 47.4 245.4 45.8 245.7 44.5 246 42.4 246.4 41.5 246.7 40.7 247 37.8 247.3 36.9 247.6 36.2 247.9 36.1 248.2 34.2" stroke="#e01818" stroke-width="1.7"/>
<path d="M248.2 34.2L249 34.4 250.8 37.4 252.4 46.3 254.2 43.6 256.4 48.3 257.4 55.6 258.8 62.7 260.1 65.7 261.9 76.7 263.5 82.6 265.2 84.5 266.1 92.4 268.3 92 270.1 97.7 271.6 99 272.4 98 274.9 101.3 276.4 97.5 277.7 96.6 278.5 96.8 279.9 97.6 282.1 96.6 283.1 92.7 284.5 91.5 287.1 88.2 288.6 87.1 290 85.5 291.8 82.6 293.1 77.1 293.7 76 296.3 72.6 297.3 74.2 299 70.5 301 69.1 302 67.8 304 66.4 304.8 65.8 306.2 65.3 307.5 67.2 309.4 66.3 310.3 68.3 312.6 72.9 314.2 72.1 315.7 77.8 316.5 82.9 318.1 86.4 321.1 92.8 321.9 96.1 324.6 95.5 325.2 95.8 327.3 98.8 328 95.9 329.9 98.1 331.6 97.4 333.5 97 335.5 95.2 336.7 94.2 337.1 96.1 339.3 94.5 340.7 94.5 342 89.9 344.1 87.9 346 88.6 346.6 84.3 348.8 80.7 350.5 81.1 350.9 78.4 353.7 79.9 355.1 79.8 356 79 358.2 78.6 359 77.7 360.9 79.6 362.2 79.1 363.1 78.1 365.1 77.7 366.4 81.7 367.8 82.8 369 83.9 370.7 86.2 372 85.9 374.6 88.7 374.7 90.2 377.1 90.1 378.3 91 379.6 92.2 382 92.6 382.8 95.4 385.2 90.9 386.1 91.1 387.8 92.3 389.1 89.9 390.9 91.4 392.6 89.2 393.4 92.1 395.1 92.1 397.5 92.5 397.9 89.4 400.5 89.2 401 88.3 402.4 92.1 403.4 90.9 405.3 90.7 406.4 88.1 408.4 90.1 410.5 86.7 411.6 88.1 412.9 88 414.2 86.5 415.9 89.9 417 87.5 418.6 89.4 421.6 89.4 422.3 88.4 423.3 89.7 425.5 89.3 427.4 91.9 428 95.3 429.7 93.8 430.7 94.9 432.1 92.9 435 95.2" stroke="#e01818" stroke-width="1.3"/>
<path d="M192.4 204.9L192.7 206.3 193 207.9 193.3 209.5 193.6 210 193.8 208 194.1 206.6 194.3 205.3 194.6 204.1 194.8 202.8 195.1 201.2 195.3 199.8 195.6 198.1 195.8 196.8 196.1 195.6 196.5 194.2 197 193.2 197.4 191.6 197.8 189.9 198.3 189.3 198.7 187.9 199.1 186.1 199.3 187.1 199.4 188.9 199.5 190.3 199.6 191.7 199.8 192.8 199.9 194.3 200 195.9 200.1 198 200.2 197.1 200.3 201.1 200.5 201.2 200.6 201.5 200.7 204.3 200.8 205.9 200.9 206.5 201 209.1 201.1 210.3 201.4 212.6 201.7 212.4 202 213.8 202.3 214.9 202.5 215.9 202.8 218.2 203.1 220.8 203.4 220.3 203.7 221.5 204 223.6 204.2 224.4 204.5 226.6 205.2 227.3 205.9 228.3 206.7 229.5 207.4 231.1 208.2 233.2 208.9 232.2 209.2 233.5 209.5 231.2 209.7 230.5 210 228.7 210.2 227.1 210.5 224.8 210.6 223.4 210.7 223.1 210.9 221.5 211 221.1 211.1 216.2 211.2 216.5 211.4 213.8 211.5 215.4 211.6 212.3 211.7 210.3 211.8 210.3 212 209 212.1 206.3 212.2 205.2 212.3 204.1 212.4 203.9 212.5 201 212.7 200 212.8 199.3 212.9 197.3 213 195.6 213.1 194.5 213.2 193.9 213.3 191.6 213.4 190.9 213.6 188.2 213.7 187.2 213.8 185.6 213.9 185.3 214 182.5 214.1 180.7 214.2 180.7 214.4 179.7 214.5 179 214.6 175.1 214.7 173.9 214.8 174.2 214.9 172.4 215 170.3 215.1 169.3 215.3 168.5 215.4 166.8 215.5 163.7 215.6 163.5 215.7 162.3 215.8 161.5 215.9 160.2 216.1 158 216.2 156.9 216.3 154.9 216.4 153.1 216.5 152.5 216.6 149.9 216.7 148.1 216.8 147.2 217 147.1 217.1 145.3 217.2 143.8 217.3 143.5 217.4 141.3 217.5 139.4 217.6 139.1 217.8 136.8 217.9 134.4 218 133.6 218.1 132.3 218.2 131.4 218.4 129.7 218.7 128.8 219 127.1 219.4 125.5 219.7 124.1 220 122.9 220.4 121.3 220.7 119.3 221 118.3 221.4 117.9 221.7 115.4 222 115.7 222.4 113.6 222.7 111.9 223 109.6 223.4 109.2 223.7 107.7 224 106.9 224.4 106 224.7 104.5 225.1 102.9 225.4 101.7 225.7 100.9 225.8 98.8 225.8 97.3 225.9 95.1 226 94.1 226.1 93.1 226.2 90.1 226.3 91.1 226.3 88.3 226.4 87.5 226.5 84.2 226.6 84.3 226.7 82.1 226.8 81.3 226.9 79.2 226.9 77.9 227 76.1 227.1 76.6 227.2 73.9 227.3 72.2 227.4 70.5 227.5 70 228 69.9 228.6 67.5 229.2 65.7 229.8 64.9 230.4 63.3 231 62.3 231.6 60.7 232.2 60.9 232.8 60.1 233.5 57.1 234.1 55.5 234.7 55 235.3 53.7 235.9 53 236.5 50.7 237.1 49.6 237.7 48.5 238.3 47.1 238.9 46.2 239.5 45 240.1 43.7 240.7 40.9 241.3 41.2 241.9 39.7 242.5 37 243.1 37.1 243.7 35.3 244.3 34.4 245 32.4 245.6 32.5 246.2 31.1 246.8 30.1" stroke="#d010c8" stroke-width="1.7"/>
<path d="M246.8 30.1L248.1 27.1 249.1 30.6 250.8 36.2 253.1 35.3 254.5 39 256.3 46.8 257.7 49.9 259.3 52.4 260.9 55.9 261.8 62.2 263.5 67.8 266.6 74.6 267.2 73.4 269.2 74.1 269.8 78.7 271.7 80.7 273.9 88.4 274.9 88.5 276.6 95.4 278.3 94.7 279.4 92.5 280.3 95.2 281.9 96.9 283.4 100.9 284.9 97.8 286.1 94.1 288.1 90.3 289.9 92 292.7 86.6 293 84.8 295 78.1 296.4 78.2 298 75.5 299 72.2 301.4 64.6 302.4 66.4 304.8 67.8 305.9 67.8 306.7 65.5 309.4 67.2 309.9 67.7 311.2 72.4 314.7 71.3 315.6 74.3 317.4 76.6 318.2 79.2 319.8 80.2 321.1 83.1 322.9 87 324.4 89.5 325.5 90.2 328.6 95 329 92.6 331.5 89.3 332 89.7 334.2 88.1 335.2 91.2 337 93.4 338.8 90.5 340.1 89.1 341.9 86.3 343.4 88.1 344.6 89.8 346.6 82.4 348.2 82.4 350.2 79.6 351.2 81.1 352.3 80.7 354.1 81 356 81.4 357.5 81.8 359.5 80 361.5 78.4 362.4 79.2 364 81.9 365.7 81.6 366.7 81.6 368.5 81.9 370.4 87 371.9 84.1 372.3 83 374.5 80.3 376 82 377.8 82.5 380 84 381.5 81.3 382 82.5 384.7 84.9 385.2 84.5 387.5 84.4 388.7 83.3 390.1 86.7 391.3 87.1 393.7 89.1 395.2 91.1 395.7 89.9 398.7 87.1 399.5 85.1 401.5 87.5 402.4 84.1 404.3 86.1 405.9 86.8 406.1 87.3 409.9 86.6 411 85.3 412.2 85 414.8 85.8 416.2 84.1 417.7 84.9 418 85.7 421.2 86.9 421.9 87.9 424.1 88.9 424.4 89.7 426.3 94.2 427.5 92.6 429.2 95.9 430.6 94.5 432.1 96 434.6 96.2" stroke="#d010c8" stroke-width="1.3"/>
</g>
<rect x="75.4" y="3.2" width="359.7" height="280.3" fill="none" stroke="#000" stroke-width="1.6"/>
<line x1="70.2" y1="251.07" x2="75.4" y2="251.07" stroke="#000" stroke-width="1.5"/>
<line x1="70.2" y1="197.15" x2="75.4" y2="197.15" stroke="#000" stroke-width="1.5"/>
<line x1="70.2" y1="143.22" x2="75.4" y2="143.22" stroke="#000" stroke-width="1.5"/>
<line x1="70.2" y1="89.30" x2="75.4" y2="89.30" stroke="#000" stroke-width="1.5"/>
<line x1="70.2" y1="35.38" x2="75.4" y2="35.38" stroke="#000" stroke-width="1.5"/>
<line x1="72.4" y1="8.41" x2="75.4" y2="8.41" stroke="#000" stroke-width="1.5"/>
<line x1="72.4" y1="62.34" x2="75.4" y2="62.34" stroke="#000" stroke-width="1.5"/>
<line x1="72.4" y1="116.26" x2="75.4" y2="116.26" stroke="#000" stroke-width="1.5"/>
<line x1="72.4" y1="170.19" x2="75.4" y2="170.19" stroke="#000" stroke-width="1.5"/>
<line x1="72.4" y1="224.11" x2="75.4" y2="224.11" stroke="#000" stroke-width="1.5"/>
<line x1="72.4" y1="278.04" x2="75.4" y2="278.04" stroke="#000" stroke-width="1.5"/>
<text x="64.80000000000001" y="42.48" text-anchor="end" class="t">5</text>
<text x="64.80000000000001" y="96.40" text-anchor="end" class="t">0</text>
<text x="64.80000000000001" y="150.32" text-anchor="end" class="t">−5</text>
<text x="64.80000000000001" y="204.25" text-anchor="end" class="t">−10</text>
<text x="64.80000000000001" y="258.18" text-anchor="end" class="t">−15</text>
<line x1="429.8" y1="30.30" x2="435.1" y2="30.30" stroke="#000" stroke-width="1.5"/>
<text x="442.3" y="37.10" text-anchor="start" class="t">0</text>
<line x1="429.8" y1="83.85" x2="435.1" y2="83.85" stroke="#000" stroke-width="1.5"/>
<text x="442.3" y="91.50" text-anchor="start" class="t">−50</text>
<line x1="429.8" y1="137.40" x2="435.1" y2="137.40" stroke="#000" stroke-width="1.5"/>
<text x="442.3" y="143.40" text-anchor="start" class="t">−100</text>
<line x1="429.8" y1="190.95" x2="435.1" y2="190.95" stroke="#000" stroke-width="1.5"/>
<text x="442.3" y="196.50" text-anchor="start" class="t">−150</text>
<line x1="429.8" y1="244.50" x2="435.1" y2="244.50" stroke="#000" stroke-width="1.5"/>
<text x="442.3" y="250.10" text-anchor="start" class="t">−200</text>
<line x1="432.1" y1="57.08" x2="435.1" y2="57.08" stroke="#000" stroke-width="1.5"/>
<line x1="432.1" y1="110.62" x2="435.1" y2="110.62" stroke="#000" stroke-width="1.5"/>
<line x1="432.1" y1="164.18" x2="435.1" y2="164.18" stroke="#000" stroke-width="1.5"/>
<line x1="432.1" y1="217.72" x2="435.1" y2="217.72" stroke="#000" stroke-width="1.5"/>
<line x1="432.1" y1="271.27" x2="435.1" y2="271.27" stroke="#000" stroke-width="1.5"/>
<line x1="87.90" y1="283.5" x2="87.90" y2="288.8" stroke="#000" stroke-width="1.5"/>
<text x="87.90" y="310.6" text-anchor="middle" class="t">0</text>
<line x1="111.87" y1="283.5" x2="111.87" y2="286.5" stroke="#000" stroke-width="1.5"/>
<line x1="135.84" y1="283.5" x2="135.84" y2="288.8" stroke="#000" stroke-width="1.5"/>
<text x="135.84" y="310.6" text-anchor="middle" class="t">20</text>
<line x1="159.81" y1="283.5" x2="159.81" y2="286.5" stroke="#000" stroke-width="1.5"/>
<line x1="183.78" y1="283.5" x2="183.78" y2="288.8" stroke="#000" stroke-width="1.5"/>
<text x="183.78" y="310.6" text-anchor="middle" class="t">40</text>
<line x1="207.75" y1="283.5" x2="207.75" y2="286.5" stroke="#000" stroke-width="1.5"/>
<line x1="231.72" y1="283.5" x2="231.72" y2="288.8" stroke="#000" stroke-width="1.5"/>
<text x="231.72" y="310.6" text-anchor="middle" class="t">60</text>
<line x1="255.69" y1="283.5" x2="255.69" y2="286.5" stroke="#000" stroke-width="1.5"/>
<line x1="279.66" y1="283.5" x2="279.66" y2="288.8" stroke="#000" stroke-width="1.5"/>
<text x="279.66" y="310.6" text-anchor="middle" class="t">80</text>
<line x1="303.63" y1="283.5" x2="303.63" y2="286.5" stroke="#000" stroke-width="1.5"/>
<line x1="327.60" y1="283.5" x2="327.60" y2="288.8" stroke="#000" stroke-width="1.5"/>
<text x="327.60" y="310.6" text-anchor="middle" class="t">100</text>
<line x1="351.57" y1="283.5" x2="351.57" y2="286.5" stroke="#000" stroke-width="1.5"/>
<line x1="375.54" y1="283.5" x2="375.54" y2="288.8" stroke="#000" stroke-width="1.5"/>
<text x="375.54" y="310.6" text-anchor="middle" class="t">120</text>
<line x1="399.51" y1="283.5" x2="399.51" y2="286.5" stroke="#000" stroke-width="1.5"/>
<line x1="423.48" y1="283.5" x2="423.48" y2="288.8" stroke="#000" stroke-width="1.5"/>
<text x="423.48" y="310.6" text-anchor="middle" class="t">140</text>
<text x="210.4" y="336.3" class="t" textLength="85" lengthAdjust="spacingAndGlyphs">Time (ns)</text>
<text transform="translate(16,201.8) rotate(-90)" class="t" textLength="113.5" lengthAdjust="spacingAndGlyphs">Voltage (kV)</text>
<text transform="translate(514.2,191.2) rotate(-90)" class="t" textLength="102.3" lengthAdjust="spacingAndGlyphs">Current (A)</text>
<text x="84" y="227.4" class="a" textLength="107.4" lengthAdjust="spacingAndGlyphs">Trigger pulse</text>
<text x="286.6" y="131.1" class="a" textLength="132" lengthAdjust="spacingAndGlyphs">Current through</text>
<text x="286.8" y="150.2" class="a" textLength="37.4" lengthAdjust="spacingAndGlyphs">CVR</text>
<line x1="134.3" y1="206.6" x2="171.51" y2="169.14" stroke="#000" stroke-width="1.9"/><polygon points="178.2,162.4 173.50,172.53 168.10,167.17" fill="#000"/>
<line x1="346.5" y1="152.4" x2="282.52" y2="196.51" stroke="#000" stroke-width="1.9"/><polygon points="274.7,201.9 281.19,192.81 285.50,199.07" fill="#000"/>
</g>
</svg>
</body></html>
